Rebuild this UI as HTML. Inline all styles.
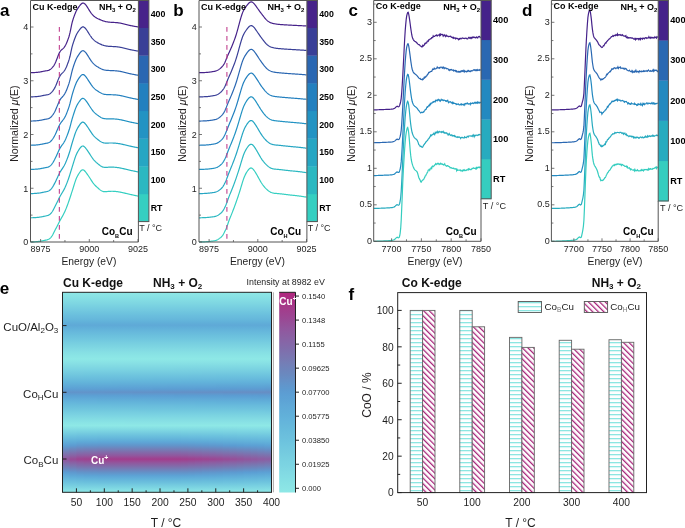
<!DOCTYPE html>
<html><head><meta charset="utf-8"><title>figure</title>
<style>html,body{margin:0;padding:0;background:#fff;overflow:hidden}svg{display:block}</style></head>
<body><svg width="685" height="528" viewBox="0 0 685 528" font-family="'Liberation Sans', Arial, sans-serif">
<defs><linearGradient id="h0" x1="0" y1="0" x2="0" y2="1"><stop offset="0.0000" stop-color="#8ee8e6"/><stop offset="0.0166" stop-color="#8ae3e5"/><stop offset="0.0334" stop-color="#85dee4"/><stop offset="0.0500" stop-color="#80d8e2"/><stop offset="0.0666" stop-color="#7ad2e1"/><stop offset="0.0834" stop-color="#75cbe0"/><stop offset="0.1000" stop-color="#6fc5de"/><stop offset="0.1166" stop-color="#6abedd"/><stop offset="0.1334" stop-color="#66b8db"/><stop offset="0.1500" stop-color="#61b0d9"/><stop offset="0.1650" stop-color="#5fa9d7"/><stop offset="0.1666" stop-color="#5faad7"/><stop offset="0.1834" stop-color="#62b2da"/><stop offset="0.2000" stop-color="#67b9dc"/><stop offset="0.2166" stop-color="#6bc0dd"/><stop offset="0.2334" stop-color="#70c6df"/><stop offset="0.2500" stop-color="#76cde0"/><stop offset="0.2666" stop-color="#7bd3e1"/><stop offset="0.2834" stop-color="#81d9e3"/><stop offset="0.3000" stop-color="#86dfe4"/><stop offset="0.3166" stop-color="#8ae4e5"/><stop offset="0.3332" stop-color="#8ee8e6"/><stop offset="0.3334" stop-color="#8ee8e6"/><stop offset="0.3500" stop-color="#89e2e5"/><stop offset="0.3666" stop-color="#83dbe3"/><stop offset="0.3834" stop-color="#7cd4e2"/><stop offset="0.4000" stop-color="#76cde0"/><stop offset="0.4166" stop-color="#6fc5de"/><stop offset="0.4334" stop-color="#69bddc"/><stop offset="0.4500" stop-color="#63b4da"/><stop offset="0.4666" stop-color="#60abd8"/><stop offset="0.4834" stop-color="#5ca0d4"/><stop offset="0.4995" stop-color="#6294ca"/><stop offset="0.5000" stop-color="#6195cb"/><stop offset="0.5166" stop-color="#5ca1d4"/><stop offset="0.5334" stop-color="#60abd8"/><stop offset="0.5500" stop-color="#64b5db"/><stop offset="0.5666" stop-color="#69bddc"/><stop offset="0.5834" stop-color="#6fc5de"/><stop offset="0.6000" stop-color="#76cde0"/><stop offset="0.6166" stop-color="#7dd5e2"/><stop offset="0.6334" stop-color="#83dce3"/><stop offset="0.6500" stop-color="#89e3e5"/><stop offset="0.6666" stop-color="#8ee8e6"/><stop offset="0.6667" stop-color="#8ee8e6"/><stop offset="0.6834" stop-color="#84dde3"/><stop offset="0.7000" stop-color="#79d1e1"/><stop offset="0.7166" stop-color="#6fc5de"/><stop offset="0.7334" stop-color="#67b9dc"/><stop offset="0.7500" stop-color="#60acd8"/><stop offset="0.7666" stop-color="#5c9fd4"/><stop offset="0.7834" stop-color="#678dc3"/><stop offset="0.8000" stop-color="#767cb4"/><stop offset="0.8166" stop-color="#8469a8"/><stop offset="0.8334" stop-color="#92569d"/><stop offset="0.8345" stop-color="#93549c"/><stop offset="0.8500" stop-color="#8666a7"/><stop offset="0.8666" stop-color="#7879b2"/><stop offset="0.8834" stop-color="#698ac0"/><stop offset="0.9000" stop-color="#5b9dd3"/><stop offset="0.9166" stop-color="#60abd8"/><stop offset="0.9334" stop-color="#66b8db"/><stop offset="0.9500" stop-color="#6ec3de"/><stop offset="0.9666" stop-color="#78cfe0"/><stop offset="0.9834" stop-color="#82dbe3"/><stop offset="1.0000" stop-color="#8de7e6"/></linearGradient><linearGradient id="h1" x1="0" y1="0" x2="0" y2="1"><stop offset="0.0000" stop-color="#8ee8e6"/><stop offset="0.0166" stop-color="#8ae3e5"/><stop offset="0.0334" stop-color="#85dee4"/><stop offset="0.0500" stop-color="#80d8e2"/><stop offset="0.0666" stop-color="#7ad2e1"/><stop offset="0.0834" stop-color="#75cbe0"/><stop offset="0.1000" stop-color="#6fc5de"/><stop offset="0.1166" stop-color="#6abedd"/><stop offset="0.1334" stop-color="#66b8db"/><stop offset="0.1500" stop-color="#61b0d9"/><stop offset="0.1650" stop-color="#5fa9d7"/><stop offset="0.1666" stop-color="#5faad7"/><stop offset="0.1834" stop-color="#62b2da"/><stop offset="0.2000" stop-color="#67b9dc"/><stop offset="0.2166" stop-color="#6bc0dd"/><stop offset="0.2334" stop-color="#70c6df"/><stop offset="0.2500" stop-color="#76cde0"/><stop offset="0.2666" stop-color="#7bd3e1"/><stop offset="0.2834" stop-color="#81d9e3"/><stop offset="0.3000" stop-color="#86dfe4"/><stop offset="0.3166" stop-color="#8ae4e5"/><stop offset="0.3332" stop-color="#8ee8e6"/><stop offset="0.3334" stop-color="#8ee8e6"/><stop offset="0.3500" stop-color="#89e2e5"/><stop offset="0.3666" stop-color="#83dbe3"/><stop offset="0.3834" stop-color="#7cd4e2"/><stop offset="0.4000" stop-color="#76cce0"/><stop offset="0.4166" stop-color="#6fc5de"/><stop offset="0.4334" stop-color="#69bcdc"/><stop offset="0.4500" stop-color="#63b4da"/><stop offset="0.4666" stop-color="#5faad7"/><stop offset="0.4834" stop-color="#5ca0d4"/><stop offset="0.4995" stop-color="#6294ca"/><stop offset="0.5000" stop-color="#6194ca"/><stop offset="0.5166" stop-color="#5ca1d4"/><stop offset="0.5334" stop-color="#60abd8"/><stop offset="0.5500" stop-color="#64b5db"/><stop offset="0.5666" stop-color="#69bddc"/><stop offset="0.5834" stop-color="#6fc5de"/><stop offset="0.6000" stop-color="#76cde0"/><stop offset="0.6166" stop-color="#7dd4e2"/><stop offset="0.6334" stop-color="#83dce3"/><stop offset="0.6500" stop-color="#89e3e5"/><stop offset="0.6666" stop-color="#8ee8e6"/><stop offset="0.6667" stop-color="#8ee8e6"/><stop offset="0.6834" stop-color="#84dce3"/><stop offset="0.7000" stop-color="#79d0e1"/><stop offset="0.7166" stop-color="#6ec4de"/><stop offset="0.7334" stop-color="#65b7db"/><stop offset="0.7500" stop-color="#5faad7"/><stop offset="0.7666" stop-color="#5d9bd1"/><stop offset="0.7834" stop-color="#6b88be"/><stop offset="0.8000" stop-color="#7b75b0"/><stop offset="0.8166" stop-color="#8962a4"/><stop offset="0.8334" stop-color="#984c96"/><stop offset="0.8345" stop-color="#994a95"/><stop offset="0.8500" stop-color="#8b5fa3"/><stop offset="0.8666" stop-color="#7d73ae"/><stop offset="0.8834" stop-color="#6d85bc"/><stop offset="0.9000" stop-color="#5f98ce"/><stop offset="0.9166" stop-color="#5ea7d6"/><stop offset="0.9334" stop-color="#64b5db"/><stop offset="0.9500" stop-color="#6dc2de"/><stop offset="0.9666" stop-color="#77cee0"/><stop offset="0.9834" stop-color="#82dae3"/><stop offset="1.0000" stop-color="#8de7e6"/></linearGradient><linearGradient id="h2" x1="0" y1="0" x2="0" y2="1"><stop offset="0.0000" stop-color="#8ee8e6"/><stop offset="0.0166" stop-color="#8ae3e5"/><stop offset="0.0334" stop-color="#85dee4"/><stop offset="0.0500" stop-color="#80d8e2"/><stop offset="0.0666" stop-color="#7ad2e1"/><stop offset="0.0834" stop-color="#75cbe0"/><stop offset="0.1000" stop-color="#6fc5de"/><stop offset="0.1166" stop-color="#6abedd"/><stop offset="0.1334" stop-color="#66b8db"/><stop offset="0.1500" stop-color="#61b0d9"/><stop offset="0.1650" stop-color="#5fa9d7"/><stop offset="0.1666" stop-color="#5faad7"/><stop offset="0.1834" stop-color="#62b2da"/><stop offset="0.2000" stop-color="#67b9dc"/><stop offset="0.2166" stop-color="#6bc0dd"/><stop offset="0.2334" stop-color="#70c6df"/><stop offset="0.2500" stop-color="#76cde0"/><stop offset="0.2666" stop-color="#7bd3e1"/><stop offset="0.2834" stop-color="#81d9e3"/><stop offset="0.3000" stop-color="#86dfe4"/><stop offset="0.3166" stop-color="#8ae4e5"/><stop offset="0.3332" stop-color="#8ee8e6"/><stop offset="0.3334" stop-color="#8ee8e6"/><stop offset="0.3500" stop-color="#89e2e5"/><stop offset="0.3666" stop-color="#83dbe3"/><stop offset="0.3834" stop-color="#7cd4e2"/><stop offset="0.4000" stop-color="#76cce0"/><stop offset="0.4166" stop-color="#6fc5de"/><stop offset="0.4334" stop-color="#69bcdc"/><stop offset="0.4500" stop-color="#63b4da"/><stop offset="0.4666" stop-color="#5faad7"/><stop offset="0.4834" stop-color="#5ca0d4"/><stop offset="0.4995" stop-color="#6294ca"/><stop offset="0.5000" stop-color="#6294ca"/><stop offset="0.5166" stop-color="#5ca1d4"/><stop offset="0.5334" stop-color="#60abd8"/><stop offset="0.5500" stop-color="#64b4db"/><stop offset="0.5666" stop-color="#69bddc"/><stop offset="0.5834" stop-color="#6fc5de"/><stop offset="0.6000" stop-color="#76cde0"/><stop offset="0.6166" stop-color="#7dd4e2"/><stop offset="0.6334" stop-color="#83dce3"/><stop offset="0.6500" stop-color="#89e3e5"/><stop offset="0.6666" stop-color="#8ee8e6"/><stop offset="0.6667" stop-color="#8ee8e6"/><stop offset="0.6834" stop-color="#83dce3"/><stop offset="0.7000" stop-color="#78cfe0"/><stop offset="0.7166" stop-color="#6dc2de"/><stop offset="0.7334" stop-color="#64b6db"/><stop offset="0.7500" stop-color="#5ea7d6"/><stop offset="0.7666" stop-color="#6097cd"/><stop offset="0.7834" stop-color="#6f84bb"/><stop offset="0.8000" stop-color="#7e70ad"/><stop offset="0.8166" stop-color="#8d5ca1"/><stop offset="0.8334" stop-color="#9d4491"/><stop offset="0.8345" stop-color="#9e4390"/><stop offset="0.8500" stop-color="#8f5aa0"/><stop offset="0.8666" stop-color="#806dab"/><stop offset="0.8834" stop-color="#7181b9"/><stop offset="0.9000" stop-color="#6294ca"/><stop offset="0.9166" stop-color="#5ea5d6"/><stop offset="0.9334" stop-color="#63b4da"/><stop offset="0.9500" stop-color="#6cc1dd"/><stop offset="0.9666" stop-color="#76cde0"/><stop offset="0.9834" stop-color="#82dae3"/><stop offset="1.0000" stop-color="#8de7e6"/></linearGradient><linearGradient id="h3" x1="0" y1="0" x2="0" y2="1"><stop offset="0.0000" stop-color="#8ee8e6"/><stop offset="0.0166" stop-color="#8ae3e5"/><stop offset="0.0334" stop-color="#85dee4"/><stop offset="0.0500" stop-color="#80d8e2"/><stop offset="0.0666" stop-color="#7ad2e1"/><stop offset="0.0834" stop-color="#75cbe0"/><stop offset="0.1000" stop-color="#6fc5de"/><stop offset="0.1166" stop-color="#6abedd"/><stop offset="0.1334" stop-color="#66b8db"/><stop offset="0.1500" stop-color="#61b0d9"/><stop offset="0.1650" stop-color="#5fa9d7"/><stop offset="0.1666" stop-color="#5faad7"/><stop offset="0.1834" stop-color="#62b2da"/><stop offset="0.2000" stop-color="#67b9dc"/><stop offset="0.2166" stop-color="#6bc0dd"/><stop offset="0.2334" stop-color="#70c6df"/><stop offset="0.2500" stop-color="#76cde0"/><stop offset="0.2666" stop-color="#7bd3e1"/><stop offset="0.2834" stop-color="#81d9e3"/><stop offset="0.3000" stop-color="#86dfe4"/><stop offset="0.3166" stop-color="#8ae4e5"/><stop offset="0.3332" stop-color="#8ee8e6"/><stop offset="0.3334" stop-color="#8ee8e6"/><stop offset="0.3500" stop-color="#89e2e5"/><stop offset="0.3666" stop-color="#83dbe3"/><stop offset="0.3834" stop-color="#7cd4e2"/><stop offset="0.4000" stop-color="#75cce0"/><stop offset="0.4166" stop-color="#6ec5de"/><stop offset="0.4334" stop-color="#69bcdc"/><stop offset="0.4500" stop-color="#63b4da"/><stop offset="0.4666" stop-color="#5faad7"/><stop offset="0.4834" stop-color="#5ca0d4"/><stop offset="0.4995" stop-color="#6294ca"/><stop offset="0.5000" stop-color="#6294ca"/><stop offset="0.5166" stop-color="#5ca1d4"/><stop offset="0.5334" stop-color="#60abd8"/><stop offset="0.5500" stop-color="#64b4db"/><stop offset="0.5666" stop-color="#69bddc"/><stop offset="0.5834" stop-color="#6fc5de"/><stop offset="0.6000" stop-color="#76cde0"/><stop offset="0.6166" stop-color="#7dd4e2"/><stop offset="0.6334" stop-color="#83dce3"/><stop offset="0.6500" stop-color="#89e3e5"/><stop offset="0.6666" stop-color="#8ee8e6"/><stop offset="0.6667" stop-color="#8ee8e6"/><stop offset="0.6834" stop-color="#83dce3"/><stop offset="0.7000" stop-color="#78cfe0"/><stop offset="0.7166" stop-color="#6dc2de"/><stop offset="0.7334" stop-color="#64b5db"/><stop offset="0.7500" stop-color="#5ea7d6"/><stop offset="0.7666" stop-color="#6096cc"/><stop offset="0.7834" stop-color="#7082ba"/><stop offset="0.8000" stop-color="#7f6fac"/><stop offset="0.8166" stop-color="#8f5ba0"/><stop offset="0.8334" stop-color="#9f428f"/><stop offset="0.8345" stop-color="#a0418e"/><stop offset="0.8500" stop-color="#91579e"/><stop offset="0.8666" stop-color="#816caa"/><stop offset="0.8834" stop-color="#7280b8"/><stop offset="0.9000" stop-color="#6393c9"/><stop offset="0.9166" stop-color="#5da4d5"/><stop offset="0.9334" stop-color="#63b3da"/><stop offset="0.9500" stop-color="#6bc0dd"/><stop offset="0.9666" stop-color="#76cde0"/><stop offset="0.9834" stop-color="#81dae3"/><stop offset="1.0000" stop-color="#8de7e6"/></linearGradient><linearGradient id="h4" x1="0" y1="0" x2="0" y2="1"><stop offset="0.0000" stop-color="#8ee8e6"/><stop offset="0.0166" stop-color="#8ae3e5"/><stop offset="0.0334" stop-color="#85dee4"/><stop offset="0.0500" stop-color="#80d8e2"/><stop offset="0.0666" stop-color="#7ad2e1"/><stop offset="0.0834" stop-color="#75cbe0"/><stop offset="0.1000" stop-color="#6fc5de"/><stop offset="0.1166" stop-color="#6abedd"/><stop offset="0.1334" stop-color="#66b8db"/><stop offset="0.1500" stop-color="#61b0d9"/><stop offset="0.1650" stop-color="#5fa9d7"/><stop offset="0.1666" stop-color="#5faad7"/><stop offset="0.1834" stop-color="#62b2da"/><stop offset="0.2000" stop-color="#67b9dc"/><stop offset="0.2166" stop-color="#6bc0dd"/><stop offset="0.2334" stop-color="#70c6df"/><stop offset="0.2500" stop-color="#76cde0"/><stop offset="0.2666" stop-color="#7bd3e1"/><stop offset="0.2834" stop-color="#81d9e3"/><stop offset="0.3000" stop-color="#86dfe4"/><stop offset="0.3166" stop-color="#8ae4e5"/><stop offset="0.3332" stop-color="#8ee8e6"/><stop offset="0.3334" stop-color="#8ee8e6"/><stop offset="0.3500" stop-color="#89e2e5"/><stop offset="0.3666" stop-color="#83dbe3"/><stop offset="0.3834" stop-color="#7cd4e2"/><stop offset="0.4000" stop-color="#75cce0"/><stop offset="0.4166" stop-color="#6ec4de"/><stop offset="0.4334" stop-color="#69bcdc"/><stop offset="0.4500" stop-color="#63b4da"/><stop offset="0.4666" stop-color="#5faad7"/><stop offset="0.4834" stop-color="#5ca0d4"/><stop offset="0.4995" stop-color="#6293c9"/><stop offset="0.5000" stop-color="#6294ca"/><stop offset="0.5166" stop-color="#5ca0d4"/><stop offset="0.5334" stop-color="#60abd8"/><stop offset="0.5500" stop-color="#64b4db"/><stop offset="0.5666" stop-color="#69bddc"/><stop offset="0.5834" stop-color="#6fc5de"/><stop offset="0.6000" stop-color="#76cde0"/><stop offset="0.6166" stop-color="#7dd4e2"/><stop offset="0.6334" stop-color="#83dce3"/><stop offset="0.6500" stop-color="#89e3e5"/><stop offset="0.6666" stop-color="#8ee8e6"/><stop offset="0.6667" stop-color="#8ee8e6"/><stop offset="0.6834" stop-color="#83dce3"/><stop offset="0.7000" stop-color="#77cfe0"/><stop offset="0.7166" stop-color="#6cc2dd"/><stop offset="0.7334" stop-color="#64b5db"/><stop offset="0.7500" stop-color="#5ea6d6"/><stop offset="0.7666" stop-color="#6195cb"/><stop offset="0.7834" stop-color="#7181b9"/><stop offset="0.8000" stop-color="#816dab"/><stop offset="0.8166" stop-color="#90599f"/><stop offset="0.8334" stop-color="#a0408e"/><stop offset="0.8345" stop-color="#a13e8d"/><stop offset="0.8500" stop-color="#92559c"/><stop offset="0.8666" stop-color="#836aa9"/><stop offset="0.8834" stop-color="#737fb7"/><stop offset="0.9000" stop-color="#6392c8"/><stop offset="0.9166" stop-color="#5da4d5"/><stop offset="0.9334" stop-color="#62b3da"/><stop offset="0.9500" stop-color="#6bc0dd"/><stop offset="0.9666" stop-color="#76cde0"/><stop offset="0.9834" stop-color="#81dae3"/><stop offset="1.0000" stop-color="#8de7e6"/></linearGradient><linearGradient id="h5" x1="0" y1="0" x2="0" y2="1"><stop offset="0.0000" stop-color="#8ee8e6"/><stop offset="0.0166" stop-color="#8ae3e5"/><stop offset="0.0334" stop-color="#85dee4"/><stop offset="0.0500" stop-color="#80d8e2"/><stop offset="0.0666" stop-color="#7ad2e1"/><stop offset="0.0834" stop-color="#75cbe0"/><stop offset="0.1000" stop-color="#6fc5de"/><stop offset="0.1166" stop-color="#6abedd"/><stop offset="0.1334" stop-color="#66b8db"/><stop offset="0.1500" stop-color="#61b0d9"/><stop offset="0.1650" stop-color="#5fa9d7"/><stop offset="0.1666" stop-color="#5faad7"/><stop offset="0.1834" stop-color="#62b2da"/><stop offset="0.2000" stop-color="#67b9dc"/><stop offset="0.2166" stop-color="#6bc0dd"/><stop offset="0.2334" stop-color="#70c6df"/><stop offset="0.2500" stop-color="#76cde0"/><stop offset="0.2666" stop-color="#7bd3e1"/><stop offset="0.2834" stop-color="#81d9e3"/><stop offset="0.3000" stop-color="#86dfe4"/><stop offset="0.3166" stop-color="#8ae4e5"/><stop offset="0.3332" stop-color="#8ee8e6"/><stop offset="0.3334" stop-color="#8ee8e6"/><stop offset="0.3500" stop-color="#89e2e5"/><stop offset="0.3666" stop-color="#83dbe3"/><stop offset="0.3834" stop-color="#7cd4e2"/><stop offset="0.4000" stop-color="#75cce0"/><stop offset="0.4166" stop-color="#6ec4de"/><stop offset="0.4334" stop-color="#69bcdc"/><stop offset="0.4500" stop-color="#63b4da"/><stop offset="0.4666" stop-color="#5faad7"/><stop offset="0.4834" stop-color="#5ca0d4"/><stop offset="0.4995" stop-color="#6293c9"/><stop offset="0.5000" stop-color="#6294ca"/><stop offset="0.5166" stop-color="#5ca0d4"/><stop offset="0.5334" stop-color="#5faad7"/><stop offset="0.5500" stop-color="#63b4da"/><stop offset="0.5666" stop-color="#69bddc"/><stop offset="0.5834" stop-color="#6fc5de"/><stop offset="0.6000" stop-color="#76cde0"/><stop offset="0.6166" stop-color="#7dd4e2"/><stop offset="0.6334" stop-color="#83dce3"/><stop offset="0.6500" stop-color="#89e3e5"/><stop offset="0.6666" stop-color="#8ee8e6"/><stop offset="0.6667" stop-color="#8ee8e6"/><stop offset="0.6834" stop-color="#83dce3"/><stop offset="0.7000" stop-color="#77cee0"/><stop offset="0.7166" stop-color="#6cc1dd"/><stop offset="0.7334" stop-color="#63b4da"/><stop offset="0.7500" stop-color="#5ea5d6"/><stop offset="0.7666" stop-color="#6294ca"/><stop offset="0.7834" stop-color="#7280b8"/><stop offset="0.8000" stop-color="#826baa"/><stop offset="0.8166" stop-color="#91579e"/><stop offset="0.8334" stop-color="#a13e8d"/><stop offset="0.8345" stop-color="#a23d8c"/><stop offset="0.8500" stop-color="#94539b"/><stop offset="0.8666" stop-color="#8468a8"/><stop offset="0.8834" stop-color="#747db6"/><stop offset="0.9000" stop-color="#6491c7"/><stop offset="0.9166" stop-color="#5da3d5"/><stop offset="0.9334" stop-color="#62b2da"/><stop offset="0.9500" stop-color="#6bbfdd"/><stop offset="0.9666" stop-color="#76cde0"/><stop offset="0.9834" stop-color="#81dae3"/><stop offset="1.0000" stop-color="#8de7e6"/></linearGradient><linearGradient id="h6" x1="0" y1="0" x2="0" y2="1"><stop offset="0.0000" stop-color="#8ee8e6"/><stop offset="0.0166" stop-color="#8ae3e5"/><stop offset="0.0334" stop-color="#85dee4"/><stop offset="0.0500" stop-color="#80d8e2"/><stop offset="0.0666" stop-color="#7ad2e1"/><stop offset="0.0834" stop-color="#75cbe0"/><stop offset="0.1000" stop-color="#6fc5de"/><stop offset="0.1166" stop-color="#6abedd"/><stop offset="0.1334" stop-color="#66b8db"/><stop offset="0.1500" stop-color="#61b0d9"/><stop offset="0.1650" stop-color="#5fa9d7"/><stop offset="0.1666" stop-color="#5faad7"/><stop offset="0.1834" stop-color="#62b2da"/><stop offset="0.2000" stop-color="#67b9dc"/><stop offset="0.2166" stop-color="#6bc0dd"/><stop offset="0.2334" stop-color="#70c6df"/><stop offset="0.2500" stop-color="#76cde0"/><stop offset="0.2666" stop-color="#7bd3e1"/><stop offset="0.2834" stop-color="#81d9e3"/><stop offset="0.3000" stop-color="#86dfe4"/><stop offset="0.3166" stop-color="#8ae4e5"/><stop offset="0.3332" stop-color="#8ee8e6"/><stop offset="0.3334" stop-color="#8ee8e6"/><stop offset="0.3500" stop-color="#89e2e5"/><stop offset="0.3666" stop-color="#83dbe3"/><stop offset="0.3834" stop-color="#7cd4e2"/><stop offset="0.4000" stop-color="#75cce0"/><stop offset="0.4166" stop-color="#6ec4de"/><stop offset="0.4334" stop-color="#69bcdc"/><stop offset="0.4500" stop-color="#63b4da"/><stop offset="0.4666" stop-color="#5faad7"/><stop offset="0.4834" stop-color="#5c9fd4"/><stop offset="0.4995" stop-color="#6393c9"/><stop offset="0.5000" stop-color="#6293c9"/><stop offset="0.5166" stop-color="#5ca0d4"/><stop offset="0.5334" stop-color="#5faad7"/><stop offset="0.5500" stop-color="#63b4da"/><stop offset="0.5666" stop-color="#69bddc"/><stop offset="0.5834" stop-color="#6fc5de"/><stop offset="0.6000" stop-color="#76cde0"/><stop offset="0.6166" stop-color="#7cd4e2"/><stop offset="0.6334" stop-color="#83dce3"/><stop offset="0.6500" stop-color="#89e3e5"/><stop offset="0.6666" stop-color="#8ee8e6"/><stop offset="0.6667" stop-color="#8ee8e6"/><stop offset="0.6834" stop-color="#83dce3"/><stop offset="0.7000" stop-color="#77cee0"/><stop offset="0.7166" stop-color="#6cc1dd"/><stop offset="0.7334" stop-color="#63b4da"/><stop offset="0.7500" stop-color="#5ea5d6"/><stop offset="0.7666" stop-color="#6294ca"/><stop offset="0.7834" stop-color="#7280b8"/><stop offset="0.8000" stop-color="#826baa"/><stop offset="0.8166" stop-color="#91579e"/><stop offset="0.8334" stop-color="#a13e8d"/><stop offset="0.8345" stop-color="#a23d8c"/><stop offset="0.8500" stop-color="#94539b"/><stop offset="0.8666" stop-color="#8468a8"/><stop offset="0.8834" stop-color="#747db6"/><stop offset="0.9000" stop-color="#6491c7"/><stop offset="0.9166" stop-color="#5da3d5"/><stop offset="0.9334" stop-color="#62b2da"/><stop offset="0.9500" stop-color="#6bbfdd"/><stop offset="0.9666" stop-color="#76cde0"/><stop offset="0.9834" stop-color="#81dae3"/><stop offset="1.0000" stop-color="#8de7e6"/></linearGradient><linearGradient id="h7" x1="0" y1="0" x2="0" y2="1"><stop offset="0.0000" stop-color="#8ee8e6"/><stop offset="0.0166" stop-color="#8ae3e5"/><stop offset="0.0334" stop-color="#85dee4"/><stop offset="0.0500" stop-color="#80d8e2"/><stop offset="0.0666" stop-color="#7ad2e1"/><stop offset="0.0834" stop-color="#75cbe0"/><stop offset="0.1000" stop-color="#6fc5de"/><stop offset="0.1166" stop-color="#6abedd"/><stop offset="0.1334" stop-color="#66b8db"/><stop offset="0.1500" stop-color="#61b0d9"/><stop offset="0.1650" stop-color="#5fa9d7"/><stop offset="0.1666" stop-color="#5faad7"/><stop offset="0.1834" stop-color="#62b2da"/><stop offset="0.2000" stop-color="#67b9dc"/><stop offset="0.2166" stop-color="#6bc0dd"/><stop offset="0.2334" stop-color="#70c6df"/><stop offset="0.2500" stop-color="#76cde0"/><stop offset="0.2666" stop-color="#7bd3e1"/><stop offset="0.2834" stop-color="#81d9e3"/><stop offset="0.3000" stop-color="#86dfe4"/><stop offset="0.3166" stop-color="#8ae4e5"/><stop offset="0.3332" stop-color="#8ee8e6"/><stop offset="0.3334" stop-color="#8ee8e6"/><stop offset="0.3500" stop-color="#89e2e5"/><stop offset="0.3666" stop-color="#83dbe3"/><stop offset="0.3834" stop-color="#7cd4e2"/><stop offset="0.4000" stop-color="#75cce0"/><stop offset="0.4166" stop-color="#6ec4de"/><stop offset="0.4334" stop-color="#69bcdc"/><stop offset="0.4500" stop-color="#63b3da"/><stop offset="0.4666" stop-color="#5faad7"/><stop offset="0.4834" stop-color="#5c9fd4"/><stop offset="0.4995" stop-color="#6393c9"/><stop offset="0.5000" stop-color="#6293c9"/><stop offset="0.5166" stop-color="#5ca0d4"/><stop offset="0.5334" stop-color="#5faad7"/><stop offset="0.5500" stop-color="#63b4da"/><stop offset="0.5666" stop-color="#69bcdc"/><stop offset="0.5834" stop-color="#6fc5de"/><stop offset="0.6000" stop-color="#76cde0"/><stop offset="0.6166" stop-color="#7cd4e2"/><stop offset="0.6334" stop-color="#83dce3"/><stop offset="0.6500" stop-color="#89e3e5"/><stop offset="0.6666" stop-color="#8ee8e6"/><stop offset="0.6667" stop-color="#8ee8e6"/><stop offset="0.6834" stop-color="#83dce3"/><stop offset="0.7000" stop-color="#77cee0"/><stop offset="0.7166" stop-color="#6cc1dd"/><stop offset="0.7334" stop-color="#63b4da"/><stop offset="0.7500" stop-color="#5ea5d6"/><stop offset="0.7666" stop-color="#6294ca"/><stop offset="0.7834" stop-color="#7280b8"/><stop offset="0.8000" stop-color="#826baa"/><stop offset="0.8166" stop-color="#91579e"/><stop offset="0.8334" stop-color="#a13e8d"/><stop offset="0.8345" stop-color="#a23d8c"/><stop offset="0.8500" stop-color="#94539b"/><stop offset="0.8666" stop-color="#8468a8"/><stop offset="0.8834" stop-color="#747db6"/><stop offset="0.9000" stop-color="#6491c7"/><stop offset="0.9166" stop-color="#5da3d5"/><stop offset="0.9334" stop-color="#62b2da"/><stop offset="0.9500" stop-color="#6bbfdd"/><stop offset="0.9666" stop-color="#76cde0"/><stop offset="0.9834" stop-color="#81dae3"/><stop offset="1.0000" stop-color="#8de7e6"/></linearGradient><linearGradient id="h8" x1="0" y1="0" x2="0" y2="1"><stop offset="0.0000" stop-color="#8ee8e6"/><stop offset="0.0166" stop-color="#8ae3e5"/><stop offset="0.0334" stop-color="#85dee4"/><stop offset="0.0500" stop-color="#80d8e2"/><stop offset="0.0666" stop-color="#7ad2e1"/><stop offset="0.0834" stop-color="#75cbe0"/><stop offset="0.1000" stop-color="#6fc5de"/><stop offset="0.1166" stop-color="#6abedd"/><stop offset="0.1334" stop-color="#66b8db"/><stop offset="0.1500" stop-color="#61b0d9"/><stop offset="0.1650" stop-color="#5fa9d7"/><stop offset="0.1666" stop-color="#5faad7"/><stop offset="0.1834" stop-color="#62b2da"/><stop offset="0.2000" stop-color="#67b9dc"/><stop offset="0.2166" stop-color="#6bc0dd"/><stop offset="0.2334" stop-color="#70c6df"/><stop offset="0.2500" stop-color="#76cde0"/><stop offset="0.2666" stop-color="#7bd3e1"/><stop offset="0.2834" stop-color="#81d9e3"/><stop offset="0.3000" stop-color="#86dfe4"/><stop offset="0.3166" stop-color="#8ae4e5"/><stop offset="0.3332" stop-color="#8ee8e6"/><stop offset="0.3334" stop-color="#8ee8e6"/><stop offset="0.3500" stop-color="#89e2e5"/><stop offset="0.3666" stop-color="#83dbe3"/><stop offset="0.3834" stop-color="#7cd4e2"/><stop offset="0.4000" stop-color="#75cce0"/><stop offset="0.4166" stop-color="#6ec4de"/><stop offset="0.4334" stop-color="#69bcdc"/><stop offset="0.4500" stop-color="#63b3da"/><stop offset="0.4666" stop-color="#5fa9d7"/><stop offset="0.4834" stop-color="#5c9fd4"/><stop offset="0.4995" stop-color="#6392c8"/><stop offset="0.5000" stop-color="#6393c9"/><stop offset="0.5166" stop-color="#5ca0d4"/><stop offset="0.5334" stop-color="#5faad7"/><stop offset="0.5500" stop-color="#63b4da"/><stop offset="0.5666" stop-color="#69bcdc"/><stop offset="0.5834" stop-color="#6fc5de"/><stop offset="0.6000" stop-color="#76cde0"/><stop offset="0.6166" stop-color="#7cd4e2"/><stop offset="0.6334" stop-color="#83dce3"/><stop offset="0.6500" stop-color="#89e3e5"/><stop offset="0.6666" stop-color="#8ee8e6"/><stop offset="0.6667" stop-color="#8ee8e6"/><stop offset="0.6834" stop-color="#83dce3"/><stop offset="0.7000" stop-color="#77cee0"/><stop offset="0.7166" stop-color="#6cc1dd"/><stop offset="0.7334" stop-color="#63b4da"/><stop offset="0.7500" stop-color="#5ea5d6"/><stop offset="0.7666" stop-color="#6294ca"/><stop offset="0.7834" stop-color="#7280b8"/><stop offset="0.8000" stop-color="#826baa"/><stop offset="0.8166" stop-color="#91579e"/><stop offset="0.8334" stop-color="#a13e8d"/><stop offset="0.8345" stop-color="#a23d8c"/><stop offset="0.8500" stop-color="#94539b"/><stop offset="0.8666" stop-color="#8468a8"/><stop offset="0.8834" stop-color="#747db6"/><stop offset="0.9000" stop-color="#6491c7"/><stop offset="0.9166" stop-color="#5da3d5"/><stop offset="0.9334" stop-color="#62b2da"/><stop offset="0.9500" stop-color="#6bbfdd"/><stop offset="0.9666" stop-color="#76cde0"/><stop offset="0.9834" stop-color="#81dae3"/><stop offset="1.0000" stop-color="#8de7e6"/></linearGradient><linearGradient id="h9" x1="0" y1="0" x2="0" y2="1"><stop offset="0.0000" stop-color="#8ee8e6"/><stop offset="0.0166" stop-color="#8ae3e5"/><stop offset="0.0334" stop-color="#85dee4"/><stop offset="0.0500" stop-color="#80d8e2"/><stop offset="0.0666" stop-color="#7ad2e1"/><stop offset="0.0834" stop-color="#75cbe0"/><stop offset="0.1000" stop-color="#6fc5de"/><stop offset="0.1166" stop-color="#6abedd"/><stop offset="0.1334" stop-color="#66b8db"/><stop offset="0.1500" stop-color="#61b0d9"/><stop offset="0.1650" stop-color="#5fa9d7"/><stop offset="0.1666" stop-color="#5faad7"/><stop offset="0.1834" stop-color="#62b2da"/><stop offset="0.2000" stop-color="#67b9dc"/><stop offset="0.2166" stop-color="#6bc0dd"/><stop offset="0.2334" stop-color="#70c6df"/><stop offset="0.2500" stop-color="#76cde0"/><stop offset="0.2666" stop-color="#7bd3e1"/><stop offset="0.2834" stop-color="#81d9e3"/><stop offset="0.3000" stop-color="#86dfe4"/><stop offset="0.3166" stop-color="#8ae4e5"/><stop offset="0.3332" stop-color="#8ee8e6"/><stop offset="0.3334" stop-color="#8ee8e6"/><stop offset="0.3500" stop-color="#89e2e5"/><stop offset="0.3666" stop-color="#83dbe3"/><stop offset="0.3834" stop-color="#7cd4e1"/><stop offset="0.4000" stop-color="#75cce0"/><stop offset="0.4166" stop-color="#6ec4de"/><stop offset="0.4334" stop-color="#69bcdc"/><stop offset="0.4500" stop-color="#63b3da"/><stop offset="0.4666" stop-color="#5fa9d7"/><stop offset="0.4834" stop-color="#5c9fd4"/><stop offset="0.4995" stop-color="#6392c8"/><stop offset="0.5000" stop-color="#6393c9"/><stop offset="0.5166" stop-color="#5ca0d4"/><stop offset="0.5334" stop-color="#5faad7"/><stop offset="0.5500" stop-color="#63b4da"/><stop offset="0.5666" stop-color="#69bcdc"/><stop offset="0.5834" stop-color="#6fc5de"/><stop offset="0.6000" stop-color="#76cde0"/><stop offset="0.6166" stop-color="#7cd4e2"/><stop offset="0.6334" stop-color="#83dce3"/><stop offset="0.6500" stop-color="#89e2e5"/><stop offset="0.6666" stop-color="#8ee8e6"/><stop offset="0.6667" stop-color="#8ee8e6"/><stop offset="0.6834" stop-color="#83dce3"/><stop offset="0.7000" stop-color="#77cee0"/><stop offset="0.7166" stop-color="#6cc1dd"/><stop offset="0.7334" stop-color="#63b4da"/><stop offset="0.7500" stop-color="#5ea5d6"/><stop offset="0.7666" stop-color="#6294ca"/><stop offset="0.7834" stop-color="#7280b8"/><stop offset="0.8000" stop-color="#826baa"/><stop offset="0.8166" stop-color="#91579e"/><stop offset="0.8334" stop-color="#a13e8d"/><stop offset="0.8345" stop-color="#a23d8c"/><stop offset="0.8500" stop-color="#94539b"/><stop offset="0.8666" stop-color="#8468a8"/><stop offset="0.8834" stop-color="#747db6"/><stop offset="0.9000" stop-color="#6491c7"/><stop offset="0.9166" stop-color="#5da3d5"/><stop offset="0.9334" stop-color="#62b2da"/><stop offset="0.9500" stop-color="#6bbfdd"/><stop offset="0.9666" stop-color="#76cde0"/><stop offset="0.9834" stop-color="#81dae3"/><stop offset="1.0000" stop-color="#8de7e6"/></linearGradient><linearGradient id="h10" x1="0" y1="0" x2="0" y2="1"><stop offset="0.0000" stop-color="#8ee8e6"/><stop offset="0.0166" stop-color="#8ae3e5"/><stop offset="0.0334" stop-color="#85dee4"/><stop offset="0.0500" stop-color="#80d8e2"/><stop offset="0.0666" stop-color="#7ad2e1"/><stop offset="0.0834" stop-color="#75cbe0"/><stop offset="0.1000" stop-color="#6fc5de"/><stop offset="0.1166" stop-color="#6abedd"/><stop offset="0.1334" stop-color="#66b8db"/><stop offset="0.1500" stop-color="#61b0d9"/><stop offset="0.1650" stop-color="#5fa9d7"/><stop offset="0.1666" stop-color="#5faad7"/><stop offset="0.1834" stop-color="#62b2da"/><stop offset="0.2000" stop-color="#67b9dc"/><stop offset="0.2166" stop-color="#6bc0dd"/><stop offset="0.2334" stop-color="#70c6df"/><stop offset="0.2500" stop-color="#76cde0"/><stop offset="0.2666" stop-color="#7bd3e1"/><stop offset="0.2834" stop-color="#81d9e3"/><stop offset="0.3000" stop-color="#86dfe4"/><stop offset="0.3166" stop-color="#8ae4e5"/><stop offset="0.3332" stop-color="#8ee8e6"/><stop offset="0.3334" stop-color="#8ee8e6"/><stop offset="0.3500" stop-color="#89e2e5"/><stop offset="0.3666" stop-color="#83dbe3"/><stop offset="0.3834" stop-color="#7cd4e1"/><stop offset="0.4000" stop-color="#75cce0"/><stop offset="0.4166" stop-color="#6ec4de"/><stop offset="0.4334" stop-color="#68bcdc"/><stop offset="0.4500" stop-color="#63b3da"/><stop offset="0.4666" stop-color="#5fa9d7"/><stop offset="0.4834" stop-color="#5c9fd4"/><stop offset="0.4995" stop-color="#6392c8"/><stop offset="0.5000" stop-color="#6392c8"/><stop offset="0.5166" stop-color="#5c9fd4"/><stop offset="0.5334" stop-color="#5faad7"/><stop offset="0.5500" stop-color="#63b4da"/><stop offset="0.5666" stop-color="#69bcdc"/><stop offset="0.5834" stop-color="#6ec5de"/><stop offset="0.6000" stop-color="#76cde0"/><stop offset="0.6166" stop-color="#7cd4e2"/><stop offset="0.6334" stop-color="#83dce3"/><stop offset="0.6500" stop-color="#89e2e5"/><stop offset="0.6666" stop-color="#8ee8e6"/><stop offset="0.6667" stop-color="#8ee8e6"/><stop offset="0.6834" stop-color="#83dce3"/><stop offset="0.7000" stop-color="#77cee0"/><stop offset="0.7166" stop-color="#6cc1dd"/><stop offset="0.7334" stop-color="#63b4da"/><stop offset="0.7500" stop-color="#5ea5d6"/><stop offset="0.7666" stop-color="#6294ca"/><stop offset="0.7834" stop-color="#7280b8"/><stop offset="0.8000" stop-color="#826baa"/><stop offset="0.8166" stop-color="#91579e"/><stop offset="0.8334" stop-color="#a13e8d"/><stop offset="0.8345" stop-color="#a23d8c"/><stop offset="0.8500" stop-color="#94539b"/><stop offset="0.8666" stop-color="#8468a8"/><stop offset="0.8834" stop-color="#747db6"/><stop offset="0.9000" stop-color="#6491c7"/><stop offset="0.9166" stop-color="#5da3d5"/><stop offset="0.9334" stop-color="#62b2da"/><stop offset="0.9500" stop-color="#6bbfdd"/><stop offset="0.9666" stop-color="#76cde0"/><stop offset="0.9834" stop-color="#81dae3"/><stop offset="1.0000" stop-color="#8de7e6"/></linearGradient><linearGradient id="h11" x1="0" y1="0" x2="0" y2="1"><stop offset="0.0000" stop-color="#8ee8e6"/><stop offset="0.0166" stop-color="#8ae3e5"/><stop offset="0.0334" stop-color="#85dee4"/><stop offset="0.0500" stop-color="#80d8e2"/><stop offset="0.0666" stop-color="#7ad2e1"/><stop offset="0.0834" stop-color="#75cbe0"/><stop offset="0.1000" stop-color="#6fc5de"/><stop offset="0.1166" stop-color="#6abedd"/><stop offset="0.1334" stop-color="#66b8db"/><stop offset="0.1500" stop-color="#61b0d9"/><stop offset="0.1650" stop-color="#5fa9d7"/><stop offset="0.1666" stop-color="#5faad7"/><stop offset="0.1834" stop-color="#62b2da"/><stop offset="0.2000" stop-color="#67b9dc"/><stop offset="0.2166" stop-color="#6bc0dd"/><stop offset="0.2334" stop-color="#70c6df"/><stop offset="0.2500" stop-color="#76cde0"/><stop offset="0.2666" stop-color="#7bd3e1"/><stop offset="0.2834" stop-color="#81d9e3"/><stop offset="0.3000" stop-color="#86dfe4"/><stop offset="0.3166" stop-color="#8ae4e5"/><stop offset="0.3332" stop-color="#8ee8e6"/><stop offset="0.3334" stop-color="#8ee8e6"/><stop offset="0.3500" stop-color="#89e2e5"/><stop offset="0.3666" stop-color="#83dbe3"/><stop offset="0.3834" stop-color="#7cd4e1"/><stop offset="0.4000" stop-color="#75cce0"/><stop offset="0.4166" stop-color="#6ec4de"/><stop offset="0.4334" stop-color="#68bcdc"/><stop offset="0.4500" stop-color="#63b3da"/><stop offset="0.4666" stop-color="#5fa9d7"/><stop offset="0.4834" stop-color="#5c9fd4"/><stop offset="0.4995" stop-color="#6392c8"/><stop offset="0.5000" stop-color="#6392c8"/><stop offset="0.5166" stop-color="#5c9fd4"/><stop offset="0.5334" stop-color="#5faad7"/><stop offset="0.5500" stop-color="#63b4da"/><stop offset="0.5666" stop-color="#69bcdc"/><stop offset="0.5834" stop-color="#6ec4de"/><stop offset="0.6000" stop-color="#76cce0"/><stop offset="0.6166" stop-color="#7cd4e2"/><stop offset="0.6334" stop-color="#83dce3"/><stop offset="0.6500" stop-color="#89e2e5"/><stop offset="0.6666" stop-color="#8ee8e6"/><stop offset="0.6667" stop-color="#8ee8e6"/><stop offset="0.6834" stop-color="#83dce3"/><stop offset="0.7000" stop-color="#77cee0"/><stop offset="0.7166" stop-color="#6cc1dd"/><stop offset="0.7334" stop-color="#63b4da"/><stop offset="0.7500" stop-color="#5ea5d6"/><stop offset="0.7666" stop-color="#6294ca"/><stop offset="0.7834" stop-color="#7280b8"/><stop offset="0.8000" stop-color="#826baa"/><stop offset="0.8166" stop-color="#91579e"/><stop offset="0.8334" stop-color="#a13e8d"/><stop offset="0.8345" stop-color="#a23d8c"/><stop offset="0.8500" stop-color="#94539b"/><stop offset="0.8666" stop-color="#8468a8"/><stop offset="0.8834" stop-color="#747db6"/><stop offset="0.9000" stop-color="#6491c7"/><stop offset="0.9166" stop-color="#5da3d5"/><stop offset="0.9334" stop-color="#62b2da"/><stop offset="0.9500" stop-color="#6bbfdd"/><stop offset="0.9666" stop-color="#76cde0"/><stop offset="0.9834" stop-color="#81dae3"/><stop offset="1.0000" stop-color="#8de7e6"/></linearGradient><linearGradient id="h12" x1="0" y1="0" x2="0" y2="1"><stop offset="0.0000" stop-color="#8ee8e6"/><stop offset="0.0166" stop-color="#8ae3e5"/><stop offset="0.0334" stop-color="#85dee4"/><stop offset="0.0500" stop-color="#80d8e2"/><stop offset="0.0666" stop-color="#7ad2e1"/><stop offset="0.0834" stop-color="#75cbe0"/><stop offset="0.1000" stop-color="#6fc5de"/><stop offset="0.1166" stop-color="#6abedd"/><stop offset="0.1334" stop-color="#66b8db"/><stop offset="0.1500" stop-color="#61b0d9"/><stop offset="0.1650" stop-color="#5fa9d7"/><stop offset="0.1666" stop-color="#5faad7"/><stop offset="0.1834" stop-color="#62b2da"/><stop offset="0.2000" stop-color="#67b9dc"/><stop offset="0.2166" stop-color="#6bc0dd"/><stop offset="0.2334" stop-color="#70c6df"/><stop offset="0.2500" stop-color="#76cde0"/><stop offset="0.2666" stop-color="#7bd3e1"/><stop offset="0.2834" stop-color="#81d9e3"/><stop offset="0.3000" stop-color="#86dfe4"/><stop offset="0.3166" stop-color="#8ae4e5"/><stop offset="0.3332" stop-color="#8ee8e6"/><stop offset="0.3334" stop-color="#8ee8e6"/><stop offset="0.3500" stop-color="#89e2e5"/><stop offset="0.3666" stop-color="#83dbe3"/><stop offset="0.3834" stop-color="#7cd4e1"/><stop offset="0.4000" stop-color="#75cce0"/><stop offset="0.4166" stop-color="#6ec4de"/><stop offset="0.4334" stop-color="#68bcdc"/><stop offset="0.4500" stop-color="#63b3da"/><stop offset="0.4666" stop-color="#5fa9d7"/><stop offset="0.4834" stop-color="#5c9fd4"/><stop offset="0.4995" stop-color="#6492c8"/><stop offset="0.5000" stop-color="#6392c8"/><stop offset="0.5166" stop-color="#5c9fd4"/><stop offset="0.5334" stop-color="#5faad7"/><stop offset="0.5500" stop-color="#63b3da"/><stop offset="0.5666" stop-color="#69bcdc"/><stop offset="0.5834" stop-color="#6ec4de"/><stop offset="0.6000" stop-color="#75cce0"/><stop offset="0.6166" stop-color="#7cd4e2"/><stop offset="0.6334" stop-color="#83dce3"/><stop offset="0.6500" stop-color="#89e2e5"/><stop offset="0.6666" stop-color="#8ee8e6"/><stop offset="0.6667" stop-color="#8ee8e6"/><stop offset="0.6834" stop-color="#83dce3"/><stop offset="0.7000" stop-color="#77cee0"/><stop offset="0.7166" stop-color="#6cc1dd"/><stop offset="0.7334" stop-color="#63b4da"/><stop offset="0.7500" stop-color="#5ea5d6"/><stop offset="0.7666" stop-color="#6294ca"/><stop offset="0.7834" stop-color="#7280b8"/><stop offset="0.8000" stop-color="#826baa"/><stop offset="0.8166" stop-color="#91579e"/><stop offset="0.8334" stop-color="#a13e8d"/><stop offset="0.8345" stop-color="#a23d8c"/><stop offset="0.8500" stop-color="#94539b"/><stop offset="0.8666" stop-color="#8468a8"/><stop offset="0.8834" stop-color="#747db6"/><stop offset="0.9000" stop-color="#6491c7"/><stop offset="0.9166" stop-color="#5da3d5"/><stop offset="0.9334" stop-color="#62b2da"/><stop offset="0.9500" stop-color="#6bbfdd"/><stop offset="0.9666" stop-color="#76cde0"/><stop offset="0.9834" stop-color="#81dae3"/><stop offset="1.0000" stop-color="#8de7e6"/></linearGradient><linearGradient id="h13" x1="0" y1="0" x2="0" y2="1"><stop offset="0.0000" stop-color="#8ee8e6"/><stop offset="0.0166" stop-color="#8ae3e5"/><stop offset="0.0334" stop-color="#85dee4"/><stop offset="0.0500" stop-color="#80d8e2"/><stop offset="0.0666" stop-color="#7ad2e1"/><stop offset="0.0834" stop-color="#75cbe0"/><stop offset="0.1000" stop-color="#6fc5de"/><stop offset="0.1166" stop-color="#6abedd"/><stop offset="0.1334" stop-color="#66b8db"/><stop offset="0.1500" stop-color="#61b0d9"/><stop offset="0.1650" stop-color="#5fa9d7"/><stop offset="0.1666" stop-color="#5faad7"/><stop offset="0.1834" stop-color="#62b2da"/><stop offset="0.2000" stop-color="#67b9dc"/><stop offset="0.2166" stop-color="#6bc0dd"/><stop offset="0.2334" stop-color="#70c6df"/><stop offset="0.2500" stop-color="#76cde0"/><stop offset="0.2666" stop-color="#7bd3e1"/><stop offset="0.2834" stop-color="#81d9e3"/><stop offset="0.3000" stop-color="#86dfe4"/><stop offset="0.3166" stop-color="#8ae4e5"/><stop offset="0.3332" stop-color="#8ee8e6"/><stop offset="0.3334" stop-color="#8ee8e6"/><stop offset="0.3500" stop-color="#89e2e5"/><stop offset="0.3666" stop-color="#83dbe3"/><stop offset="0.3834" stop-color="#7cd4e1"/><stop offset="0.4000" stop-color="#75cce0"/><stop offset="0.4166" stop-color="#6ec4de"/><stop offset="0.4334" stop-color="#68bbdc"/><stop offset="0.4500" stop-color="#63b3da"/><stop offset="0.4666" stop-color="#5fa9d7"/><stop offset="0.4834" stop-color="#5b9ed3"/><stop offset="0.4995" stop-color="#6491c7"/><stop offset="0.5000" stop-color="#6392c8"/><stop offset="0.5166" stop-color="#5c9fd4"/><stop offset="0.5334" stop-color="#5fa9d7"/><stop offset="0.5500" stop-color="#63b3da"/><stop offset="0.5666" stop-color="#69bcdc"/><stop offset="0.5834" stop-color="#6ec4de"/><stop offset="0.6000" stop-color="#75cce0"/><stop offset="0.6166" stop-color="#7cd4e2"/><stop offset="0.6334" stop-color="#83dce3"/><stop offset="0.6500" stop-color="#89e2e5"/><stop offset="0.6666" stop-color="#8ee8e6"/><stop offset="0.6667" stop-color="#8ee8e6"/><stop offset="0.6834" stop-color="#83dce3"/><stop offset="0.7000" stop-color="#77cee0"/><stop offset="0.7166" stop-color="#6cc1dd"/><stop offset="0.7334" stop-color="#63b4da"/><stop offset="0.7500" stop-color="#5ea5d6"/><stop offset="0.7666" stop-color="#6294ca"/><stop offset="0.7834" stop-color="#7280b8"/><stop offset="0.8000" stop-color="#826baa"/><stop offset="0.8166" stop-color="#91579e"/><stop offset="0.8334" stop-color="#a13e8d"/><stop offset="0.8345" stop-color="#a23d8c"/><stop offset="0.8500" stop-color="#94539b"/><stop offset="0.8666" stop-color="#8468a8"/><stop offset="0.8834" stop-color="#747db6"/><stop offset="0.9000" stop-color="#6491c7"/><stop offset="0.9166" stop-color="#5da3d5"/><stop offset="0.9334" stop-color="#62b2da"/><stop offset="0.9500" stop-color="#6bbfdd"/><stop offset="0.9666" stop-color="#76cde0"/><stop offset="0.9834" stop-color="#81dae3"/><stop offset="1.0000" stop-color="#8de7e6"/></linearGradient><linearGradient id="h14" x1="0" y1="0" x2="0" y2="1"><stop offset="0.0000" stop-color="#8ee8e6"/><stop offset="0.0166" stop-color="#8ae3e5"/><stop offset="0.0334" stop-color="#85dee4"/><stop offset="0.0500" stop-color="#80d8e2"/><stop offset="0.0666" stop-color="#7ad2e1"/><stop offset="0.0834" stop-color="#75cbe0"/><stop offset="0.1000" stop-color="#6fc5de"/><stop offset="0.1166" stop-color="#6abedd"/><stop offset="0.1334" stop-color="#66b8db"/><stop offset="0.1500" stop-color="#61b0d9"/><stop offset="0.1650" stop-color="#5fa9d7"/><stop offset="0.1666" stop-color="#5faad7"/><stop offset="0.1834" stop-color="#62b2da"/><stop offset="0.2000" stop-color="#67b9dc"/><stop offset="0.2166" stop-color="#6bc0dd"/><stop offset="0.2334" stop-color="#70c6df"/><stop offset="0.2500" stop-color="#76cde0"/><stop offset="0.2666" stop-color="#7bd3e1"/><stop offset="0.2834" stop-color="#81d9e3"/><stop offset="0.3000" stop-color="#86dfe4"/><stop offset="0.3166" stop-color="#8ae4e5"/><stop offset="0.3332" stop-color="#8ee8e6"/><stop offset="0.3334" stop-color="#8ee8e6"/><stop offset="0.3500" stop-color="#89e2e5"/><stop offset="0.3666" stop-color="#82dbe3"/><stop offset="0.3834" stop-color="#7cd4e1"/><stop offset="0.4000" stop-color="#75cce0"/><stop offset="0.4166" stop-color="#6ec4de"/><stop offset="0.4334" stop-color="#68bbdc"/><stop offset="0.4500" stop-color="#62b3da"/><stop offset="0.4666" stop-color="#5fa9d7"/><stop offset="0.4834" stop-color="#5b9ed3"/><stop offset="0.4995" stop-color="#6491c7"/><stop offset="0.5000" stop-color="#6492c8"/><stop offset="0.5166" stop-color="#5c9fd4"/><stop offset="0.5334" stop-color="#5fa9d7"/><stop offset="0.5500" stop-color="#63b3da"/><stop offset="0.5666" stop-color="#69bcdc"/><stop offset="0.5834" stop-color="#6ec4de"/><stop offset="0.6000" stop-color="#75cce0"/><stop offset="0.6166" stop-color="#7cd4e2"/><stop offset="0.6334" stop-color="#83dbe3"/><stop offset="0.6500" stop-color="#89e2e5"/><stop offset="0.6666" stop-color="#8ee8e6"/><stop offset="0.6667" stop-color="#8ee8e6"/><stop offset="0.6834" stop-color="#83dce3"/><stop offset="0.7000" stop-color="#77cee0"/><stop offset="0.7166" stop-color="#6cc1dd"/><stop offset="0.7334" stop-color="#63b4da"/><stop offset="0.7500" stop-color="#5ea5d6"/><stop offset="0.7666" stop-color="#6294ca"/><stop offset="0.7834" stop-color="#7280b8"/><stop offset="0.8000" stop-color="#826baa"/><stop offset="0.8166" stop-color="#91579e"/><stop offset="0.8334" stop-color="#a13e8d"/><stop offset="0.8345" stop-color="#a23d8c"/><stop offset="0.8500" stop-color="#94539b"/><stop offset="0.8666" stop-color="#8468a8"/><stop offset="0.8834" stop-color="#747db6"/><stop offset="0.9000" stop-color="#6491c7"/><stop offset="0.9166" stop-color="#5da3d5"/><stop offset="0.9334" stop-color="#62b2da"/><stop offset="0.9500" stop-color="#6bbfdd"/><stop offset="0.9666" stop-color="#76cde0"/><stop offset="0.9834" stop-color="#81dae3"/><stop offset="1.0000" stop-color="#8de7e6"/></linearGradient><linearGradient id="h15" x1="0" y1="0" x2="0" y2="1"><stop offset="0.0000" stop-color="#8ee8e6"/><stop offset="0.0166" stop-color="#8ae3e5"/><stop offset="0.0334" stop-color="#85dee4"/><stop offset="0.0500" stop-color="#80d8e2"/><stop offset="0.0666" stop-color="#7ad2e1"/><stop offset="0.0834" stop-color="#75cbe0"/><stop offset="0.1000" stop-color="#6fc5de"/><stop offset="0.1166" stop-color="#6abedd"/><stop offset="0.1334" stop-color="#66b8db"/><stop offset="0.1500" stop-color="#61b0d9"/><stop offset="0.1650" stop-color="#5fa9d7"/><stop offset="0.1666" stop-color="#5faad7"/><stop offset="0.1834" stop-color="#62b2da"/><stop offset="0.2000" stop-color="#67b9dc"/><stop offset="0.2166" stop-color="#6bc0dd"/><stop offset="0.2334" stop-color="#70c6df"/><stop offset="0.2500" stop-color="#76cde0"/><stop offset="0.2666" stop-color="#7bd3e1"/><stop offset="0.2834" stop-color="#81d9e3"/><stop offset="0.3000" stop-color="#86dfe4"/><stop offset="0.3166" stop-color="#8ae4e5"/><stop offset="0.3332" stop-color="#8ee8e6"/><stop offset="0.3334" stop-color="#8ee8e6"/><stop offset="0.3500" stop-color="#89e2e5"/><stop offset="0.3666" stop-color="#82dbe3"/><stop offset="0.3834" stop-color="#7cd4e1"/><stop offset="0.4000" stop-color="#75cce0"/><stop offset="0.4166" stop-color="#6ec4de"/><stop offset="0.4334" stop-color="#68bbdc"/><stop offset="0.4500" stop-color="#62b3da"/><stop offset="0.4666" stop-color="#5fa8d7"/><stop offset="0.4834" stop-color="#5b9ed3"/><stop offset="0.4995" stop-color="#6491c7"/><stop offset="0.5000" stop-color="#6491c7"/><stop offset="0.5166" stop-color="#5c9fd4"/><stop offset="0.5334" stop-color="#5fa9d7"/><stop offset="0.5500" stop-color="#63b3da"/><stop offset="0.5666" stop-color="#69bcdc"/><stop offset="0.5834" stop-color="#6ec4de"/><stop offset="0.6000" stop-color="#75cce0"/><stop offset="0.6166" stop-color="#7cd4e2"/><stop offset="0.6334" stop-color="#83dbe3"/><stop offset="0.6500" stop-color="#89e2e5"/><stop offset="0.6666" stop-color="#8ee8e6"/><stop offset="0.6667" stop-color="#8ee8e6"/><stop offset="0.6834" stop-color="#83dce3"/><stop offset="0.7000" stop-color="#77cee0"/><stop offset="0.7166" stop-color="#6cc1dd"/><stop offset="0.7334" stop-color="#63b4da"/><stop offset="0.7500" stop-color="#5ea5d6"/><stop offset="0.7666" stop-color="#6294ca"/><stop offset="0.7834" stop-color="#7280b8"/><stop offset="0.8000" stop-color="#826baa"/><stop offset="0.8166" stop-color="#91579e"/><stop offset="0.8334" stop-color="#a13e8d"/><stop offset="0.8345" stop-color="#a23d8c"/><stop offset="0.8500" stop-color="#94539b"/><stop offset="0.8666" stop-color="#8468a8"/><stop offset="0.8834" stop-color="#747db6"/><stop offset="0.9000" stop-color="#6491c7"/><stop offset="0.9166" stop-color="#5da3d5"/><stop offset="0.9334" stop-color="#62b2da"/><stop offset="0.9500" stop-color="#6bbfdd"/><stop offset="0.9666" stop-color="#76cde0"/><stop offset="0.9834" stop-color="#81dae3"/><stop offset="1.0000" stop-color="#8de7e6"/></linearGradient><linearGradient id="h16" x1="0" y1="0" x2="0" y2="1"><stop offset="0.0000" stop-color="#8ee8e6"/><stop offset="0.0166" stop-color="#8ae3e5"/><stop offset="0.0334" stop-color="#85dee4"/><stop offset="0.0500" stop-color="#80d8e2"/><stop offset="0.0666" stop-color="#7ad2e1"/><stop offset="0.0834" stop-color="#75cbe0"/><stop offset="0.1000" stop-color="#6fc5de"/><stop offset="0.1166" stop-color="#6abedd"/><stop offset="0.1334" stop-color="#66b8db"/><stop offset="0.1500" stop-color="#61b0d9"/><stop offset="0.1650" stop-color="#5fa9d7"/><stop offset="0.1666" stop-color="#5faad7"/><stop offset="0.1834" stop-color="#62b2da"/><stop offset="0.2000" stop-color="#67b9dc"/><stop offset="0.2166" stop-color="#6bc0dd"/><stop offset="0.2334" stop-color="#70c6df"/><stop offset="0.2500" stop-color="#76cde0"/><stop offset="0.2666" stop-color="#7bd3e1"/><stop offset="0.2834" stop-color="#81d9e3"/><stop offset="0.3000" stop-color="#86dfe4"/><stop offset="0.3166" stop-color="#8ae4e5"/><stop offset="0.3332" stop-color="#8ee8e6"/><stop offset="0.3334" stop-color="#8ee8e6"/><stop offset="0.3500" stop-color="#89e2e5"/><stop offset="0.3666" stop-color="#82dbe3"/><stop offset="0.3834" stop-color="#7cd3e1"/><stop offset="0.4000" stop-color="#75cce0"/><stop offset="0.4166" stop-color="#6ec4de"/><stop offset="0.4334" stop-color="#68bbdc"/><stop offset="0.4500" stop-color="#62b3da"/><stop offset="0.4666" stop-color="#5fa8d7"/><stop offset="0.4834" stop-color="#5b9ed3"/><stop offset="0.4995" stop-color="#6491c7"/><stop offset="0.5000" stop-color="#6491c7"/><stop offset="0.5166" stop-color="#5b9ed3"/><stop offset="0.5334" stop-color="#5fa9d7"/><stop offset="0.5500" stop-color="#63b3da"/><stop offset="0.5666" stop-color="#68bcdc"/><stop offset="0.5834" stop-color="#6ec4de"/><stop offset="0.6000" stop-color="#75cce0"/><stop offset="0.6166" stop-color="#7cd4e2"/><stop offset="0.6334" stop-color="#83dbe3"/><stop offset="0.6500" stop-color="#89e2e5"/><stop offset="0.6666" stop-color="#8ee8e6"/><stop offset="0.6667" stop-color="#8ee8e6"/><stop offset="0.6834" stop-color="#83dce3"/><stop offset="0.7000" stop-color="#77cee0"/><stop offset="0.7166" stop-color="#6cc1dd"/><stop offset="0.7334" stop-color="#63b4da"/><stop offset="0.7500" stop-color="#5ea5d6"/><stop offset="0.7666" stop-color="#6294ca"/><stop offset="0.7834" stop-color="#7280b8"/><stop offset="0.8000" stop-color="#826baa"/><stop offset="0.8166" stop-color="#91579e"/><stop offset="0.8334" stop-color="#a13e8d"/><stop offset="0.8345" stop-color="#a23d8c"/><stop offset="0.8500" stop-color="#94539b"/><stop offset="0.8666" stop-color="#8468a8"/><stop offset="0.8834" stop-color="#747db6"/><stop offset="0.9000" stop-color="#6491c7"/><stop offset="0.9166" stop-color="#5da3d5"/><stop offset="0.9334" stop-color="#62b2da"/><stop offset="0.9500" stop-color="#6bbfdd"/><stop offset="0.9666" stop-color="#76cde0"/><stop offset="0.9834" stop-color="#81dae3"/><stop offset="1.0000" stop-color="#8de7e6"/></linearGradient><linearGradient id="h17" x1="0" y1="0" x2="0" y2="1"><stop offset="0.0000" stop-color="#8ee8e6"/><stop offset="0.0166" stop-color="#8ae3e5"/><stop offset="0.0334" stop-color="#85dee4"/><stop offset="0.0500" stop-color="#80d8e2"/><stop offset="0.0666" stop-color="#7ad2e1"/><stop offset="0.0834" stop-color="#75cbe0"/><stop offset="0.1000" stop-color="#6fc5de"/><stop offset="0.1166" stop-color="#6abedd"/><stop offset="0.1334" stop-color="#66b8db"/><stop offset="0.1500" stop-color="#61b0d9"/><stop offset="0.1650" stop-color="#5fa9d7"/><stop offset="0.1666" stop-color="#5faad7"/><stop offset="0.1834" stop-color="#62b2da"/><stop offset="0.2000" stop-color="#67b9dc"/><stop offset="0.2166" stop-color="#6bc0dd"/><stop offset="0.2334" stop-color="#70c6df"/><stop offset="0.2500" stop-color="#76cde0"/><stop offset="0.2666" stop-color="#7bd3e1"/><stop offset="0.2834" stop-color="#81d9e3"/><stop offset="0.3000" stop-color="#86dfe4"/><stop offset="0.3166" stop-color="#8ae4e5"/><stop offset="0.3332" stop-color="#8ee8e6"/><stop offset="0.3334" stop-color="#8ee8e6"/><stop offset="0.3500" stop-color="#89e2e5"/><stop offset="0.3666" stop-color="#82dbe3"/><stop offset="0.3834" stop-color="#7cd3e1"/><stop offset="0.4000" stop-color="#75cce0"/><stop offset="0.4166" stop-color="#6ec4de"/><stop offset="0.4334" stop-color="#68bbdc"/><stop offset="0.4500" stop-color="#62b2da"/><stop offset="0.4666" stop-color="#5fa8d7"/><stop offset="0.4834" stop-color="#5b9ed3"/><stop offset="0.4995" stop-color="#6490c6"/><stop offset="0.5000" stop-color="#6491c7"/><stop offset="0.5166" stop-color="#5b9ed3"/><stop offset="0.5334" stop-color="#5fa9d7"/><stop offset="0.5500" stop-color="#63b3da"/><stop offset="0.5666" stop-color="#68bcdc"/><stop offset="0.5834" stop-color="#6ec4de"/><stop offset="0.6000" stop-color="#75cce0"/><stop offset="0.6166" stop-color="#7cd4e2"/><stop offset="0.6334" stop-color="#83dbe3"/><stop offset="0.6500" stop-color="#89e2e5"/><stop offset="0.6666" stop-color="#8ee8e6"/><stop offset="0.6667" stop-color="#8ee8e6"/><stop offset="0.6834" stop-color="#83dce3"/><stop offset="0.7000" stop-color="#77cfe0"/><stop offset="0.7166" stop-color="#6cc2dd"/><stop offset="0.7334" stop-color="#64b4db"/><stop offset="0.7500" stop-color="#5ea6d6"/><stop offset="0.7666" stop-color="#6294ca"/><stop offset="0.7834" stop-color="#7181b8"/><stop offset="0.8000" stop-color="#816cab"/><stop offset="0.8166" stop-color="#90589e"/><stop offset="0.8334" stop-color="#a03f8e"/><stop offset="0.8345" stop-color="#a23e8c"/><stop offset="0.8500" stop-color="#93549c"/><stop offset="0.8666" stop-color="#8369a9"/><stop offset="0.8834" stop-color="#747eb6"/><stop offset="0.9000" stop-color="#6491c7"/><stop offset="0.9166" stop-color="#5da3d5"/><stop offset="0.9334" stop-color="#62b3da"/><stop offset="0.9500" stop-color="#6bc0dd"/><stop offset="0.9666" stop-color="#76cde0"/><stop offset="0.9834" stop-color="#81dae3"/><stop offset="1.0000" stop-color="#8de7e6"/></linearGradient><linearGradient id="h18" x1="0" y1="0" x2="0" y2="1"><stop offset="0.0000" stop-color="#8ee8e6"/><stop offset="0.0166" stop-color="#8ae3e5"/><stop offset="0.0334" stop-color="#85dee4"/><stop offset="0.0500" stop-color="#80d8e2"/><stop offset="0.0666" stop-color="#7ad2e1"/><stop offset="0.0834" stop-color="#75cbe0"/><stop offset="0.1000" stop-color="#6fc5de"/><stop offset="0.1166" stop-color="#6abedd"/><stop offset="0.1334" stop-color="#66b8db"/><stop offset="0.1500" stop-color="#61b0d9"/><stop offset="0.1650" stop-color="#5fa9d7"/><stop offset="0.1666" stop-color="#5faad7"/><stop offset="0.1834" stop-color="#62b2da"/><stop offset="0.2000" stop-color="#67b9dc"/><stop offset="0.2166" stop-color="#6bc0dd"/><stop offset="0.2334" stop-color="#70c6df"/><stop offset="0.2500" stop-color="#76cde0"/><stop offset="0.2666" stop-color="#7bd3e1"/><stop offset="0.2834" stop-color="#81d9e3"/><stop offset="0.3000" stop-color="#86dfe4"/><stop offset="0.3166" stop-color="#8ae4e5"/><stop offset="0.3332" stop-color="#8ee8e6"/><stop offset="0.3334" stop-color="#8ee8e6"/><stop offset="0.3500" stop-color="#89e2e5"/><stop offset="0.3666" stop-color="#82dbe3"/><stop offset="0.3834" stop-color="#7cd3e1"/><stop offset="0.4000" stop-color="#75cce0"/><stop offset="0.4166" stop-color="#6ec3de"/><stop offset="0.4334" stop-color="#68bbdc"/><stop offset="0.4500" stop-color="#62b2da"/><stop offset="0.4666" stop-color="#5fa8d7"/><stop offset="0.4834" stop-color="#5b9ed3"/><stop offset="0.4995" stop-color="#6590c6"/><stop offset="0.5000" stop-color="#6491c7"/><stop offset="0.5166" stop-color="#5b9ed3"/><stop offset="0.5334" stop-color="#5fa9d7"/><stop offset="0.5500" stop-color="#63b3da"/><stop offset="0.5666" stop-color="#68bcdc"/><stop offset="0.5834" stop-color="#6ec4de"/><stop offset="0.6000" stop-color="#75cce0"/><stop offset="0.6166" stop-color="#7cd4e2"/><stop offset="0.6334" stop-color="#83dbe3"/><stop offset="0.6500" stop-color="#89e2e5"/><stop offset="0.6666" stop-color="#8ee8e6"/><stop offset="0.6667" stop-color="#8ee8e6"/><stop offset="0.6834" stop-color="#83dce3"/><stop offset="0.7000" stop-color="#78cfe0"/><stop offset="0.7166" stop-color="#6dc2de"/><stop offset="0.7334" stop-color="#64b5db"/><stop offset="0.7500" stop-color="#5ea6d6"/><stop offset="0.7666" stop-color="#6195cb"/><stop offset="0.7834" stop-color="#7082b9"/><stop offset="0.8000" stop-color="#806eab"/><stop offset="0.8166" stop-color="#8f5aa0"/><stop offset="0.8334" stop-color="#9f418f"/><stop offset="0.8345" stop-color="#a0408e"/><stop offset="0.8500" stop-color="#91569d"/><stop offset="0.8666" stop-color="#826baa"/><stop offset="0.8834" stop-color="#727fb7"/><stop offset="0.9000" stop-color="#6392c8"/><stop offset="0.9166" stop-color="#5da4d5"/><stop offset="0.9334" stop-color="#63b3da"/><stop offset="0.9500" stop-color="#6bc0dd"/><stop offset="0.9666" stop-color="#76cde0"/><stop offset="0.9834" stop-color="#81dae3"/><stop offset="1.0000" stop-color="#8de7e6"/></linearGradient><linearGradient id="h19" x1="0" y1="0" x2="0" y2="1"><stop offset="0.0000" stop-color="#8ee8e6"/><stop offset="0.0166" stop-color="#8ae3e5"/><stop offset="0.0334" stop-color="#85dee4"/><stop offset="0.0500" stop-color="#80d8e2"/><stop offset="0.0666" stop-color="#7ad2e1"/><stop offset="0.0834" stop-color="#75cbe0"/><stop offset="0.1000" stop-color="#6fc5de"/><stop offset="0.1166" stop-color="#6abedd"/><stop offset="0.1334" stop-color="#66b8db"/><stop offset="0.1500" stop-color="#61b0d9"/><stop offset="0.1650" stop-color="#5fa9d7"/><stop offset="0.1666" stop-color="#5faad7"/><stop offset="0.1834" stop-color="#62b2da"/><stop offset="0.2000" stop-color="#67b9dc"/><stop offset="0.2166" stop-color="#6bc0dd"/><stop offset="0.2334" stop-color="#70c6df"/><stop offset="0.2500" stop-color="#76cde0"/><stop offset="0.2666" stop-color="#7bd3e1"/><stop offset="0.2834" stop-color="#81d9e3"/><stop offset="0.3000" stop-color="#86dfe4"/><stop offset="0.3166" stop-color="#8ae4e5"/><stop offset="0.3332" stop-color="#8ee8e6"/><stop offset="0.3334" stop-color="#8ee8e6"/><stop offset="0.3500" stop-color="#89e2e5"/><stop offset="0.3666" stop-color="#82dbe3"/><stop offset="0.3834" stop-color="#7cd3e1"/><stop offset="0.4000" stop-color="#75cce0"/><stop offset="0.4166" stop-color="#6ec3de"/><stop offset="0.4334" stop-color="#68bbdc"/><stop offset="0.4500" stop-color="#62b2da"/><stop offset="0.4666" stop-color="#5fa8d7"/><stop offset="0.4834" stop-color="#5b9dd3"/><stop offset="0.4995" stop-color="#6590c6"/><stop offset="0.5000" stop-color="#6590c6"/><stop offset="0.5166" stop-color="#5b9ed3"/><stop offset="0.5334" stop-color="#5fa9d7"/><stop offset="0.5500" stop-color="#62b3da"/><stop offset="0.5666" stop-color="#68bbdc"/><stop offset="0.5834" stop-color="#6ec4de"/><stop offset="0.6000" stop-color="#75cce0"/><stop offset="0.6166" stop-color="#7cd4e2"/><stop offset="0.6334" stop-color="#83dbe3"/><stop offset="0.6500" stop-color="#89e2e5"/><stop offset="0.6666" stop-color="#8ee8e6"/><stop offset="0.6667" stop-color="#8ee8e6"/><stop offset="0.6834" stop-color="#83dce3"/><stop offset="0.7000" stop-color="#78cfe0"/><stop offset="0.7166" stop-color="#6dc2de"/><stop offset="0.7334" stop-color="#64b5db"/><stop offset="0.7500" stop-color="#5ea7d6"/><stop offset="0.7666" stop-color="#6096cc"/><stop offset="0.7834" stop-color="#6f83ba"/><stop offset="0.8000" stop-color="#7f6fac"/><stop offset="0.8166" stop-color="#8e5ba1"/><stop offset="0.8334" stop-color="#9e4390"/><stop offset="0.8345" stop-color="#9f428f"/><stop offset="0.8500" stop-color="#90589f"/><stop offset="0.8666" stop-color="#816cab"/><stop offset="0.8834" stop-color="#7180b8"/><stop offset="0.9000" stop-color="#6293c9"/><stop offset="0.9166" stop-color="#5ea5d6"/><stop offset="0.9334" stop-color="#63b3da"/><stop offset="0.9500" stop-color="#6cc0dd"/><stop offset="0.9666" stop-color="#76cde0"/><stop offset="0.9834" stop-color="#82dae3"/><stop offset="1.0000" stop-color="#8de7e6"/></linearGradient><linearGradient id="h20" x1="0" y1="0" x2="0" y2="1"><stop offset="0.0000" stop-color="#8ee8e6"/><stop offset="0.0166" stop-color="#8ae3e5"/><stop offset="0.0334" stop-color="#85dee4"/><stop offset="0.0500" stop-color="#80d8e2"/><stop offset="0.0666" stop-color="#7ad2e1"/><stop offset="0.0834" stop-color="#75cbe0"/><stop offset="0.1000" stop-color="#6fc5de"/><stop offset="0.1166" stop-color="#6abedd"/><stop offset="0.1334" stop-color="#66b8db"/><stop offset="0.1500" stop-color="#61b0d9"/><stop offset="0.1650" stop-color="#5fa9d7"/><stop offset="0.1666" stop-color="#5faad7"/><stop offset="0.1834" stop-color="#62b2da"/><stop offset="0.2000" stop-color="#67b9dc"/><stop offset="0.2166" stop-color="#6bc0dd"/><stop offset="0.2334" stop-color="#70c6df"/><stop offset="0.2500" stop-color="#76cde0"/><stop offset="0.2666" stop-color="#7bd3e1"/><stop offset="0.2834" stop-color="#81d9e3"/><stop offset="0.3000" stop-color="#86dfe4"/><stop offset="0.3166" stop-color="#8ae4e5"/><stop offset="0.3332" stop-color="#8ee8e6"/><stop offset="0.3334" stop-color="#8ee8e6"/><stop offset="0.3500" stop-color="#89e2e5"/><stop offset="0.3666" stop-color="#82dbe3"/><stop offset="0.3834" stop-color="#7cd3e1"/><stop offset="0.4000" stop-color="#75cbe0"/><stop offset="0.4166" stop-color="#6ec3de"/><stop offset="0.4334" stop-color="#68bbdc"/><stop offset="0.4500" stop-color="#62b2da"/><stop offset="0.4666" stop-color="#5fa8d7"/><stop offset="0.4834" stop-color="#5b9dd3"/><stop offset="0.4995" stop-color="#6590c6"/><stop offset="0.5000" stop-color="#6590c6"/><stop offset="0.5166" stop-color="#5b9ed3"/><stop offset="0.5334" stop-color="#5fa8d7"/><stop offset="0.5500" stop-color="#62b3da"/><stop offset="0.5666" stop-color="#68bbdc"/><stop offset="0.5834" stop-color="#6ec4de"/><stop offset="0.6000" stop-color="#75cce0"/><stop offset="0.6166" stop-color="#7cd4e2"/><stop offset="0.6334" stop-color="#83dbe3"/><stop offset="0.6500" stop-color="#89e2e5"/><stop offset="0.6666" stop-color="#8ee8e6"/><stop offset="0.6667" stop-color="#8ee8e6"/><stop offset="0.6834" stop-color="#83dce3"/><stop offset="0.7000" stop-color="#78cfe0"/><stop offset="0.7166" stop-color="#6dc3de"/><stop offset="0.7334" stop-color="#64b6db"/><stop offset="0.7500" stop-color="#5ea7d6"/><stop offset="0.7666" stop-color="#5f97cd"/><stop offset="0.7834" stop-color="#6e84bb"/><stop offset="0.8000" stop-color="#7e71ad"/><stop offset="0.8166" stop-color="#8d5da2"/><stop offset="0.8334" stop-color="#9d4591"/><stop offset="0.8345" stop-color="#9e4490"/><stop offset="0.8500" stop-color="#8f5aa0"/><stop offset="0.8666" stop-color="#806eab"/><stop offset="0.8834" stop-color="#7082b9"/><stop offset="0.9000" stop-color="#6195cb"/><stop offset="0.9166" stop-color="#5ea5d6"/><stop offset="0.9334" stop-color="#63b4da"/><stop offset="0.9500" stop-color="#6cc1dd"/><stop offset="0.9666" stop-color="#76cde0"/><stop offset="0.9834" stop-color="#82dae3"/><stop offset="1.0000" stop-color="#8de7e6"/></linearGradient><linearGradient id="h21" x1="0" y1="0" x2="0" y2="1"><stop offset="0.0000" stop-color="#8ee8e6"/><stop offset="0.0166" stop-color="#8ae3e5"/><stop offset="0.0334" stop-color="#85dee4"/><stop offset="0.0500" stop-color="#80d8e2"/><stop offset="0.0666" stop-color="#7ad2e1"/><stop offset="0.0834" stop-color="#75cbe0"/><stop offset="0.1000" stop-color="#6fc5de"/><stop offset="0.1166" stop-color="#6abedd"/><stop offset="0.1334" stop-color="#66b8db"/><stop offset="0.1500" stop-color="#61b0d9"/><stop offset="0.1650" stop-color="#5fa9d7"/><stop offset="0.1666" stop-color="#5faad7"/><stop offset="0.1834" stop-color="#62b2da"/><stop offset="0.2000" stop-color="#67b9dc"/><stop offset="0.2166" stop-color="#6bc0dd"/><stop offset="0.2334" stop-color="#70c6df"/><stop offset="0.2500" stop-color="#76cde0"/><stop offset="0.2666" stop-color="#7bd3e1"/><stop offset="0.2834" stop-color="#81d9e3"/><stop offset="0.3000" stop-color="#86dfe4"/><stop offset="0.3166" stop-color="#8ae4e5"/><stop offset="0.3332" stop-color="#8ee8e6"/><stop offset="0.3334" stop-color="#8ee8e6"/><stop offset="0.3500" stop-color="#89e2e5"/><stop offset="0.3666" stop-color="#82dbe3"/><stop offset="0.3834" stop-color="#7cd3e1"/><stop offset="0.4000" stop-color="#75cbe0"/><stop offset="0.4166" stop-color="#6ec3de"/><stop offset="0.4334" stop-color="#68bbdc"/><stop offset="0.4500" stop-color="#62b2da"/><stop offset="0.4666" stop-color="#5fa8d7"/><stop offset="0.4834" stop-color="#5b9dd3"/><stop offset="0.4995" stop-color="#658fc5"/><stop offset="0.5000" stop-color="#6590c6"/><stop offset="0.5166" stop-color="#5b9ed3"/><stop offset="0.5334" stop-color="#5fa8d7"/><stop offset="0.5500" stop-color="#62b3da"/><stop offset="0.5666" stop-color="#68bbdc"/><stop offset="0.5834" stop-color="#6ec4de"/><stop offset="0.6000" stop-color="#75cce0"/><stop offset="0.6166" stop-color="#7cd4e1"/><stop offset="0.6334" stop-color="#83dbe3"/><stop offset="0.6500" stop-color="#89e2e5"/><stop offset="0.6666" stop-color="#8ee8e6"/><stop offset="0.6667" stop-color="#8ee8e6"/><stop offset="0.6834" stop-color="#83dce3"/><stop offset="0.7000" stop-color="#78cfe1"/><stop offset="0.7166" stop-color="#6dc3de"/><stop offset="0.7334" stop-color="#65b6db"/><stop offset="0.7500" stop-color="#5fa8d7"/><stop offset="0.7666" stop-color="#5f98ce"/><stop offset="0.7834" stop-color="#6d85bc"/><stop offset="0.8000" stop-color="#7d72ae"/><stop offset="0.8166" stop-color="#8c5ea3"/><stop offset="0.8334" stop-color="#9b4793"/><stop offset="0.8345" stop-color="#9c4592"/><stop offset="0.8500" stop-color="#8e5ca1"/><stop offset="0.8666" stop-color="#7f6fac"/><stop offset="0.8834" stop-color="#6f83ba"/><stop offset="0.9000" stop-color="#6196cc"/><stop offset="0.9166" stop-color="#5ea6d6"/><stop offset="0.9334" stop-color="#64b4db"/><stop offset="0.9500" stop-color="#6cc1dd"/><stop offset="0.9666" stop-color="#77cee0"/><stop offset="0.9834" stop-color="#82dae3"/><stop offset="1.0000" stop-color="#8de7e6"/></linearGradient><linearGradient id="h22" x1="0" y1="0" x2="0" y2="1"><stop offset="0.0000" stop-color="#8ee8e6"/><stop offset="0.0166" stop-color="#8ae3e5"/><stop offset="0.0334" stop-color="#85dee4"/><stop offset="0.0500" stop-color="#80d8e2"/><stop offset="0.0666" stop-color="#7ad2e1"/><stop offset="0.0834" stop-color="#75cbe0"/><stop offset="0.1000" stop-color="#6fc5de"/><stop offset="0.1166" stop-color="#6abedd"/><stop offset="0.1334" stop-color="#66b8db"/><stop offset="0.1500" stop-color="#61b0d9"/><stop offset="0.1650" stop-color="#5fa9d7"/><stop offset="0.1666" stop-color="#5faad7"/><stop offset="0.1834" stop-color="#62b2da"/><stop offset="0.2000" stop-color="#67b9dc"/><stop offset="0.2166" stop-color="#6bc0dd"/><stop offset="0.2334" stop-color="#70c6df"/><stop offset="0.2500" stop-color="#76cde0"/><stop offset="0.2666" stop-color="#7bd3e1"/><stop offset="0.2834" stop-color="#81d9e3"/><stop offset="0.3000" stop-color="#86dfe4"/><stop offset="0.3166" stop-color="#8ae4e5"/><stop offset="0.3332" stop-color="#8ee8e6"/><stop offset="0.3334" stop-color="#8ee8e6"/><stop offset="0.3500" stop-color="#89e2e5"/><stop offset="0.3666" stop-color="#82dbe3"/><stop offset="0.3834" stop-color="#7cd3e1"/><stop offset="0.4000" stop-color="#75cbe0"/><stop offset="0.4166" stop-color="#6dc3de"/><stop offset="0.4334" stop-color="#68bbdc"/><stop offset="0.4500" stop-color="#62b2da"/><stop offset="0.4666" stop-color="#5ea7d6"/><stop offset="0.4834" stop-color="#5b9dd3"/><stop offset="0.4995" stop-color="#658fc5"/><stop offset="0.5000" stop-color="#6590c6"/><stop offset="0.5166" stop-color="#5b9ed3"/><stop offset="0.5334" stop-color="#5fa8d7"/><stop offset="0.5500" stop-color="#62b2da"/><stop offset="0.5666" stop-color="#68bbdc"/><stop offset="0.5834" stop-color="#6ec4de"/><stop offset="0.6000" stop-color="#75cce0"/><stop offset="0.6166" stop-color="#7cd4e1"/><stop offset="0.6334" stop-color="#83dbe3"/><stop offset="0.6500" stop-color="#89e2e5"/><stop offset="0.6666" stop-color="#8ee8e6"/><stop offset="0.6667" stop-color="#8ee8e6"/><stop offset="0.6834" stop-color="#83dce3"/><stop offset="0.7000" stop-color="#78d0e1"/><stop offset="0.7166" stop-color="#6dc3de"/><stop offset="0.7334" stop-color="#65b7db"/><stop offset="0.7500" stop-color="#5fa9d7"/><stop offset="0.7666" stop-color="#5e99cf"/><stop offset="0.7834" stop-color="#6c86bd"/><stop offset="0.8000" stop-color="#7c74af"/><stop offset="0.8166" stop-color="#8a60a3"/><stop offset="0.8334" stop-color="#9a4994"/><stop offset="0.8345" stop-color="#9b4893"/><stop offset="0.8500" stop-color="#8c5da2"/><stop offset="0.8666" stop-color="#7e71ad"/><stop offset="0.8834" stop-color="#6e84bb"/><stop offset="0.9000" stop-color="#6097cd"/><stop offset="0.9166" stop-color="#5ea7d6"/><stop offset="0.9334" stop-color="#64b5db"/><stop offset="0.9500" stop-color="#6cc1dd"/><stop offset="0.9666" stop-color="#77cee0"/><stop offset="0.9834" stop-color="#82dae3"/><stop offset="1.0000" stop-color="#8de7e6"/></linearGradient><linearGradient id="h23" x1="0" y1="0" x2="0" y2="1"><stop offset="0.0000" stop-color="#8ee8e6"/><stop offset="0.0166" stop-color="#8ae3e5"/><stop offset="0.0334" stop-color="#85dee4"/><stop offset="0.0500" stop-color="#80d8e2"/><stop offset="0.0666" stop-color="#7ad2e1"/><stop offset="0.0834" stop-color="#75cbe0"/><stop offset="0.1000" stop-color="#6fc5de"/><stop offset="0.1166" stop-color="#6abedd"/><stop offset="0.1334" stop-color="#66b8db"/><stop offset="0.1500" stop-color="#61b0d9"/><stop offset="0.1650" stop-color="#5fa9d7"/><stop offset="0.1666" stop-color="#5faad7"/><stop offset="0.1834" stop-color="#62b2da"/><stop offset="0.2000" stop-color="#67b9dc"/><stop offset="0.2166" stop-color="#6bc0dd"/><stop offset="0.2334" stop-color="#70c6df"/><stop offset="0.2500" stop-color="#76cde0"/><stop offset="0.2666" stop-color="#7bd3e1"/><stop offset="0.2834" stop-color="#81d9e3"/><stop offset="0.3000" stop-color="#86dfe4"/><stop offset="0.3166" stop-color="#8ae4e5"/><stop offset="0.3332" stop-color="#8ee8e6"/><stop offset="0.3334" stop-color="#8ee8e6"/><stop offset="0.3500" stop-color="#89e2e5"/><stop offset="0.3666" stop-color="#82dbe3"/><stop offset="0.3834" stop-color="#7cd3e1"/><stop offset="0.4000" stop-color="#75cbe0"/><stop offset="0.4166" stop-color="#6dc3de"/><stop offset="0.4334" stop-color="#68bbdc"/><stop offset="0.4500" stop-color="#62b2da"/><stop offset="0.4666" stop-color="#5ea7d6"/><stop offset="0.4834" stop-color="#5b9dd3"/><stop offset="0.4995" stop-color="#668fc5"/><stop offset="0.5000" stop-color="#658fc5"/><stop offset="0.5166" stop-color="#5b9dd3"/><stop offset="0.5334" stop-color="#5fa8d7"/><stop offset="0.5500" stop-color="#62b2da"/><stop offset="0.5666" stop-color="#68bbdc"/><stop offset="0.5834" stop-color="#6ec4de"/><stop offset="0.6000" stop-color="#75cce0"/><stop offset="0.6166" stop-color="#7cd4e1"/><stop offset="0.6334" stop-color="#83dbe3"/><stop offset="0.6500" stop-color="#89e2e5"/><stop offset="0.6666" stop-color="#8ee8e6"/><stop offset="0.6667" stop-color="#8ee8e6"/><stop offset="0.6834" stop-color="#84dce3"/><stop offset="0.7000" stop-color="#79d0e1"/><stop offset="0.7166" stop-color="#6ec4de"/><stop offset="0.7334" stop-color="#66b7db"/><stop offset="0.7500" stop-color="#5faad7"/><stop offset="0.7666" stop-color="#5d9bd1"/><stop offset="0.7834" stop-color="#6b88be"/><stop offset="0.8000" stop-color="#7a76b0"/><stop offset="0.8166" stop-color="#8962a5"/><stop offset="0.8334" stop-color="#984c97"/><stop offset="0.8345" stop-color="#994b95"/><stop offset="0.8500" stop-color="#8b60a3"/><stop offset="0.8666" stop-color="#7c73af"/><stop offset="0.8834" stop-color="#6d86bc"/><stop offset="0.9000" stop-color="#5f98ce"/><stop offset="0.9166" stop-color="#5fa8d7"/><stop offset="0.9334" stop-color="#64b6db"/><stop offset="0.9500" stop-color="#6dc2de"/><stop offset="0.9666" stop-color="#77cee0"/><stop offset="0.9834" stop-color="#82dbe3"/><stop offset="1.0000" stop-color="#8de7e6"/></linearGradient><linearGradient id="h24" x1="0" y1="0" x2="0" y2="1"><stop offset="0.0000" stop-color="#8ee8e6"/><stop offset="0.0166" stop-color="#8ae3e5"/><stop offset="0.0334" stop-color="#85dee4"/><stop offset="0.0500" stop-color="#80d8e2"/><stop offset="0.0666" stop-color="#7ad2e1"/><stop offset="0.0834" stop-color="#75cbe0"/><stop offset="0.1000" stop-color="#6fc5de"/><stop offset="0.1166" stop-color="#6abedd"/><stop offset="0.1334" stop-color="#66b8db"/><stop offset="0.1500" stop-color="#61b0d9"/><stop offset="0.1650" stop-color="#5fa9d7"/><stop offset="0.1666" stop-color="#5faad7"/><stop offset="0.1834" stop-color="#62b2da"/><stop offset="0.2000" stop-color="#67b9dc"/><stop offset="0.2166" stop-color="#6bc0dd"/><stop offset="0.2334" stop-color="#70c6df"/><stop offset="0.2500" stop-color="#76cde0"/><stop offset="0.2666" stop-color="#7bd3e1"/><stop offset="0.2834" stop-color="#81d9e3"/><stop offset="0.3000" stop-color="#86dfe4"/><stop offset="0.3166" stop-color="#8ae4e5"/><stop offset="0.3332" stop-color="#8ee8e6"/><stop offset="0.3334" stop-color="#8ee8e6"/><stop offset="0.3500" stop-color="#89e2e5"/><stop offset="0.3666" stop-color="#82dbe3"/><stop offset="0.3834" stop-color="#7bd3e1"/><stop offset="0.4000" stop-color="#74cbe0"/><stop offset="0.4166" stop-color="#6dc3de"/><stop offset="0.4334" stop-color="#68badc"/><stop offset="0.4500" stop-color="#62b2da"/><stop offset="0.4666" stop-color="#5ea7d6"/><stop offset="0.4834" stop-color="#5b9cd2"/><stop offset="0.4995" stop-color="#668fc5"/><stop offset="0.5000" stop-color="#658fc5"/><stop offset="0.5166" stop-color="#5b9dd3"/><stop offset="0.5334" stop-color="#5fa8d7"/><stop offset="0.5500" stop-color="#62b2da"/><stop offset="0.5666" stop-color="#68bbdc"/><stop offset="0.5834" stop-color="#6ec4de"/><stop offset="0.6000" stop-color="#75cce0"/><stop offset="0.6166" stop-color="#7cd4e1"/><stop offset="0.6334" stop-color="#83dbe3"/><stop offset="0.6500" stop-color="#89e2e5"/><stop offset="0.6666" stop-color="#8ee8e6"/><stop offset="0.6667" stop-color="#8ee8e6"/><stop offset="0.6834" stop-color="#84dce3"/><stop offset="0.7000" stop-color="#79d0e1"/><stop offset="0.7166" stop-color="#6ec4de"/><stop offset="0.7334" stop-color="#66b8db"/><stop offset="0.7500" stop-color="#60abd8"/><stop offset="0.7666" stop-color="#5b9cd2"/><stop offset="0.7834" stop-color="#698ac0"/><stop offset="0.8000" stop-color="#7978b2"/><stop offset="0.8166" stop-color="#8764a6"/><stop offset="0.8334" stop-color="#965099"/><stop offset="0.8345" stop-color="#974e98"/><stop offset="0.8500" stop-color="#8962a5"/><stop offset="0.8666" stop-color="#7b75b0"/><stop offset="0.8834" stop-color="#6b87be"/><stop offset="0.9000" stop-color="#5d9ad0"/><stop offset="0.9166" stop-color="#5fa9d7"/><stop offset="0.9334" stop-color="#65b6db"/><stop offset="0.9500" stop-color="#6dc2de"/><stop offset="0.9666" stop-color="#77cfe0"/><stop offset="0.9834" stop-color="#82dbe3"/><stop offset="1.0000" stop-color="#8de7e6"/></linearGradient><linearGradient id="h25" x1="0" y1="0" x2="0" y2="1"><stop offset="0.0000" stop-color="#8ee8e6"/><stop offset="0.0166" stop-color="#8ae3e5"/><stop offset="0.0334" stop-color="#85dee4"/><stop offset="0.0500" stop-color="#80d8e2"/><stop offset="0.0666" stop-color="#7ad2e1"/><stop offset="0.0834" stop-color="#75cbe0"/><stop offset="0.1000" stop-color="#6fc5de"/><stop offset="0.1166" stop-color="#6abedd"/><stop offset="0.1334" stop-color="#66b8db"/><stop offset="0.1500" stop-color="#61b0d9"/><stop offset="0.1650" stop-color="#5fa9d7"/><stop offset="0.1666" stop-color="#5faad7"/><stop offset="0.1834" stop-color="#62b2da"/><stop offset="0.2000" stop-color="#67b9dc"/><stop offset="0.2166" stop-color="#6bc0dd"/><stop offset="0.2334" stop-color="#70c6df"/><stop offset="0.2500" stop-color="#76cde0"/><stop offset="0.2666" stop-color="#7bd3e1"/><stop offset="0.2834" stop-color="#81d9e3"/><stop offset="0.3000" stop-color="#86dfe4"/><stop offset="0.3166" stop-color="#8ae4e5"/><stop offset="0.3332" stop-color="#8ee8e6"/><stop offset="0.3334" stop-color="#8ee8e6"/><stop offset="0.3500" stop-color="#89e2e5"/><stop offset="0.3666" stop-color="#82dbe3"/><stop offset="0.3834" stop-color="#7bd3e1"/><stop offset="0.4000" stop-color="#74cbe0"/><stop offset="0.4166" stop-color="#6dc3de"/><stop offset="0.4334" stop-color="#68badc"/><stop offset="0.4500" stop-color="#62b1da"/><stop offset="0.4666" stop-color="#5ea7d6"/><stop offset="0.4834" stop-color="#5c9cd2"/><stop offset="0.4995" stop-color="#668ec4"/><stop offset="0.5000" stop-color="#668fc5"/><stop offset="0.5166" stop-color="#5b9dd3"/><stop offset="0.5334" stop-color="#5fa8d7"/><stop offset="0.5500" stop-color="#62b2da"/><stop offset="0.5666" stop-color="#68bbdc"/><stop offset="0.5834" stop-color="#6ec3de"/><stop offset="0.6000" stop-color="#75cce0"/><stop offset="0.6166" stop-color="#7cd4e1"/><stop offset="0.6334" stop-color="#83dbe3"/><stop offset="0.6500" stop-color="#89e2e5"/><stop offset="0.6666" stop-color="#8ee8e6"/><stop offset="0.6667" stop-color="#8ee8e6"/><stop offset="0.6834" stop-color="#84dde3"/><stop offset="0.7000" stop-color="#79d1e1"/><stop offset="0.7166" stop-color="#6fc5de"/><stop offset="0.7334" stop-color="#66b9db"/><stop offset="0.7500" stop-color="#60acd8"/><stop offset="0.7666" stop-color="#5b9ed3"/><stop offset="0.7834" stop-color="#688cc2"/><stop offset="0.8000" stop-color="#777ab3"/><stop offset="0.8166" stop-color="#8567a7"/><stop offset="0.8334" stop-color="#93539b"/><stop offset="0.8345" stop-color="#94529a"/><stop offset="0.8500" stop-color="#8764a6"/><stop offset="0.8666" stop-color="#7978b1"/><stop offset="0.8834" stop-color="#6a89bf"/><stop offset="0.9000" stop-color="#5c9bd1"/><stop offset="0.9166" stop-color="#5faad7"/><stop offset="0.9334" stop-color="#65b7db"/><stop offset="0.9500" stop-color="#6dc3de"/><stop offset="0.9666" stop-color="#78cfe0"/><stop offset="0.9834" stop-color="#82dbe3"/><stop offset="1.0000" stop-color="#8de7e6"/></linearGradient><linearGradient id="h26" x1="0" y1="0" x2="0" y2="1"><stop offset="0.0000" stop-color="#8ee8e6"/><stop offset="0.0166" stop-color="#8ae3e5"/><stop offset="0.0334" stop-color="#85dee4"/><stop offset="0.0500" stop-color="#80d8e2"/><stop offset="0.0666" stop-color="#7ad2e1"/><stop offset="0.0834" stop-color="#75cbe0"/><stop offset="0.1000" stop-color="#6fc5de"/><stop offset="0.1166" stop-color="#6abedd"/><stop offset="0.1334" stop-color="#66b8db"/><stop offset="0.1500" stop-color="#61b0d9"/><stop offset="0.1650" stop-color="#5fa9d7"/><stop offset="0.1666" stop-color="#5faad7"/><stop offset="0.1834" stop-color="#62b2da"/><stop offset="0.2000" stop-color="#67b9dc"/><stop offset="0.2166" stop-color="#6bc0dd"/><stop offset="0.2334" stop-color="#70c6df"/><stop offset="0.2500" stop-color="#76cde0"/><stop offset="0.2666" stop-color="#7bd3e1"/><stop offset="0.2834" stop-color="#81d9e3"/><stop offset="0.3000" stop-color="#86dfe4"/><stop offset="0.3166" stop-color="#8ae4e5"/><stop offset="0.3332" stop-color="#8ee8e6"/><stop offset="0.3334" stop-color="#8ee8e6"/><stop offset="0.3500" stop-color="#89e2e5"/><stop offset="0.3666" stop-color="#82dbe3"/><stop offset="0.3834" stop-color="#7bd3e1"/><stop offset="0.4000" stop-color="#74cbe0"/><stop offset="0.4166" stop-color="#6dc3de"/><stop offset="0.4334" stop-color="#68badc"/><stop offset="0.4500" stop-color="#62b1da"/><stop offset="0.4666" stop-color="#5ea7d6"/><stop offset="0.4834" stop-color="#5c9cd2"/><stop offset="0.4995" stop-color="#668ec4"/><stop offset="0.5000" stop-color="#668fc5"/><stop offset="0.5166" stop-color="#5b9dd3"/><stop offset="0.5334" stop-color="#5fa8d7"/><stop offset="0.5500" stop-color="#62b2da"/><stop offset="0.5666" stop-color="#68bbdc"/><stop offset="0.5834" stop-color="#6ec3de"/><stop offset="0.6000" stop-color="#75cce0"/><stop offset="0.6166" stop-color="#7cd4e1"/><stop offset="0.6334" stop-color="#83dbe3"/><stop offset="0.6500" stop-color="#89e2e5"/><stop offset="0.6666" stop-color="#8ee8e6"/><stop offset="0.6667" stop-color="#8ee8e6"/><stop offset="0.6834" stop-color="#84dde4"/><stop offset="0.7000" stop-color="#79d1e1"/><stop offset="0.7166" stop-color="#6fc5de"/><stop offset="0.7334" stop-color="#67b9dc"/><stop offset="0.7500" stop-color="#60add8"/><stop offset="0.7666" stop-color="#5c9fd4"/><stop offset="0.7834" stop-color="#678dc3"/><stop offset="0.8000" stop-color="#757cb5"/><stop offset="0.8166" stop-color="#8369a9"/><stop offset="0.8334" stop-color="#91579e"/><stop offset="0.8345" stop-color="#92559c"/><stop offset="0.8500" stop-color="#8567a7"/><stop offset="0.8666" stop-color="#777ab3"/><stop offset="0.8834" stop-color="#698bc1"/><stop offset="0.9000" stop-color="#5b9dd3"/><stop offset="0.9166" stop-color="#60abd8"/><stop offset="0.9334" stop-color="#66b8db"/><stop offset="0.9500" stop-color="#6ec4de"/><stop offset="0.9666" stop-color="#78cfe1"/><stop offset="0.9834" stop-color="#83dbe3"/><stop offset="1.0000" stop-color="#8de7e6"/></linearGradient><linearGradient id="h27" x1="0" y1="0" x2="0" y2="1"><stop offset="0.0000" stop-color="#8ee8e6"/><stop offset="0.0166" stop-color="#8ae3e5"/><stop offset="0.0334" stop-color="#85dee4"/><stop offset="0.0500" stop-color="#80d8e2"/><stop offset="0.0666" stop-color="#7ad2e1"/><stop offset="0.0834" stop-color="#75cbe0"/><stop offset="0.1000" stop-color="#6fc5de"/><stop offset="0.1166" stop-color="#6abedd"/><stop offset="0.1334" stop-color="#66b8db"/><stop offset="0.1500" stop-color="#61b0d9"/><stop offset="0.1650" stop-color="#5fa9d7"/><stop offset="0.1666" stop-color="#5faad7"/><stop offset="0.1834" stop-color="#62b2da"/><stop offset="0.2000" stop-color="#67b9dc"/><stop offset="0.2166" stop-color="#6bc0dd"/><stop offset="0.2334" stop-color="#70c6df"/><stop offset="0.2500" stop-color="#76cde0"/><stop offset="0.2666" stop-color="#7bd3e1"/><stop offset="0.2834" stop-color="#81d9e3"/><stop offset="0.3000" stop-color="#86dfe4"/><stop offset="0.3166" stop-color="#8ae4e5"/><stop offset="0.3332" stop-color="#8ee8e6"/><stop offset="0.3334" stop-color="#8ee8e6"/><stop offset="0.3500" stop-color="#89e2e5"/><stop offset="0.3666" stop-color="#82dbe3"/><stop offset="0.3834" stop-color="#7bd3e1"/><stop offset="0.4000" stop-color="#74cbe0"/><stop offset="0.4166" stop-color="#6dc3de"/><stop offset="0.4334" stop-color="#67badc"/><stop offset="0.4500" stop-color="#62b1da"/><stop offset="0.4666" stop-color="#5ea7d6"/><stop offset="0.4834" stop-color="#5c9cd2"/><stop offset="0.4995" stop-color="#668ec4"/><stop offset="0.5000" stop-color="#668ec4"/><stop offset="0.5166" stop-color="#5b9dd3"/><stop offset="0.5334" stop-color="#5ea7d6"/><stop offset="0.5500" stop-color="#62b2da"/><stop offset="0.5666" stop-color="#68bbdc"/><stop offset="0.5834" stop-color="#6ec3de"/><stop offset="0.6000" stop-color="#75cce0"/><stop offset="0.6166" stop-color="#7cd3e1"/><stop offset="0.6334" stop-color="#83dbe3"/><stop offset="0.6500" stop-color="#89e2e5"/><stop offset="0.6666" stop-color="#8ee8e6"/><stop offset="0.6667" stop-color="#8ee8e6"/><stop offset="0.6834" stop-color="#84dde4"/><stop offset="0.7000" stop-color="#7ad1e1"/><stop offset="0.7166" stop-color="#70c6de"/><stop offset="0.7334" stop-color="#67badc"/><stop offset="0.7500" stop-color="#61aed9"/><stop offset="0.7666" stop-color="#5ca0d4"/><stop offset="0.7834" stop-color="#658fc5"/><stop offset="0.8000" stop-color="#737eb6"/><stop offset="0.8166" stop-color="#816caa"/><stop offset="0.8334" stop-color="#8f5aa0"/><stop offset="0.8345" stop-color="#90589f"/><stop offset="0.8500" stop-color="#8369a9"/><stop offset="0.8666" stop-color="#757cb4"/><stop offset="0.8834" stop-color="#678dc3"/><stop offset="0.9000" stop-color="#5b9ed3"/><stop offset="0.9166" stop-color="#60acd8"/><stop offset="0.9334" stop-color="#66b8db"/><stop offset="0.9500" stop-color="#6ec4de"/><stop offset="0.9666" stop-color="#78d0e1"/><stop offset="0.9834" stop-color="#83dbe3"/><stop offset="1.0000" stop-color="#8de7e6"/></linearGradient><linearGradient id="h28" x1="0" y1="0" x2="0" y2="1"><stop offset="0.0000" stop-color="#8ee8e6"/><stop offset="0.0166" stop-color="#8ae3e5"/><stop offset="0.0334" stop-color="#85dee4"/><stop offset="0.0500" stop-color="#80d8e2"/><stop offset="0.0666" stop-color="#7ad2e1"/><stop offset="0.0834" stop-color="#75cbe0"/><stop offset="0.1000" stop-color="#6fc5de"/><stop offset="0.1166" stop-color="#6abedd"/><stop offset="0.1334" stop-color="#66b8db"/><stop offset="0.1500" stop-color="#61b0d9"/><stop offset="0.1650" stop-color="#5fa9d7"/><stop offset="0.1666" stop-color="#5faad7"/><stop offset="0.1834" stop-color="#62b2da"/><stop offset="0.2000" stop-color="#67b9dc"/><stop offset="0.2166" stop-color="#6bc0dd"/><stop offset="0.2334" stop-color="#70c6df"/><stop offset="0.2500" stop-color="#76cde0"/><stop offset="0.2666" stop-color="#7bd3e1"/><stop offset="0.2834" stop-color="#81d9e3"/><stop offset="0.3000" stop-color="#86dfe4"/><stop offset="0.3166" stop-color="#8ae4e5"/><stop offset="0.3332" stop-color="#8ee8e6"/><stop offset="0.3334" stop-color="#8ee8e6"/><stop offset="0.3500" stop-color="#89e2e5"/><stop offset="0.3666" stop-color="#82dbe3"/><stop offset="0.3834" stop-color="#7bd3e1"/><stop offset="0.4000" stop-color="#74cbe0"/><stop offset="0.4166" stop-color="#6dc3de"/><stop offset="0.4334" stop-color="#67badc"/><stop offset="0.4500" stop-color="#62b1da"/><stop offset="0.4666" stop-color="#5ea7d6"/><stop offset="0.4834" stop-color="#5c9cd2"/><stop offset="0.4995" stop-color="#678ec4"/><stop offset="0.5000" stop-color="#668ec4"/><stop offset="0.5166" stop-color="#5b9cd2"/><stop offset="0.5334" stop-color="#5ea7d6"/><stop offset="0.5500" stop-color="#62b2da"/><stop offset="0.5666" stop-color="#68bbdc"/><stop offset="0.5834" stop-color="#6ec3de"/><stop offset="0.6000" stop-color="#75cce0"/><stop offset="0.6166" stop-color="#7cd3e1"/><stop offset="0.6334" stop-color="#83dbe3"/><stop offset="0.6500" stop-color="#89e2e5"/><stop offset="0.6666" stop-color="#8ee8e6"/><stop offset="0.6667" stop-color="#8ee8e6"/><stop offset="0.6834" stop-color="#84dde4"/><stop offset="0.7000" stop-color="#7ad2e1"/><stop offset="0.7166" stop-color="#70c6df"/><stop offset="0.7334" stop-color="#68bbdc"/><stop offset="0.7500" stop-color="#61afd9"/><stop offset="0.7666" stop-color="#5ca1d4"/><stop offset="0.7834" stop-color="#6491c7"/><stop offset="0.8000" stop-color="#7280b8"/><stop offset="0.8166" stop-color="#7f6fac"/><stop offset="0.8334" stop-color="#8d5da2"/><stop offset="0.8345" stop-color="#8e5ca1"/><stop offset="0.8500" stop-color="#816caa"/><stop offset="0.8666" stop-color="#747eb6"/><stop offset="0.8834" stop-color="#668fc5"/><stop offset="0.9000" stop-color="#5ca0d4"/><stop offset="0.9166" stop-color="#60add8"/><stop offset="0.9334" stop-color="#67b9dc"/><stop offset="0.9500" stop-color="#6fc5de"/><stop offset="0.9666" stop-color="#79d0e1"/><stop offset="0.9834" stop-color="#83dbe3"/><stop offset="1.0000" stop-color="#8de7e6"/></linearGradient><linearGradient id="h29" x1="0" y1="0" x2="0" y2="1"><stop offset="0.0000" stop-color="#8ee8e6"/><stop offset="0.0166" stop-color="#8ae3e5"/><stop offset="0.0334" stop-color="#85dee4"/><stop offset="0.0500" stop-color="#80d8e2"/><stop offset="0.0666" stop-color="#7ad2e1"/><stop offset="0.0834" stop-color="#75cbe0"/><stop offset="0.1000" stop-color="#6fc5de"/><stop offset="0.1166" stop-color="#6abedd"/><stop offset="0.1334" stop-color="#66b8db"/><stop offset="0.1500" stop-color="#61b0d9"/><stop offset="0.1650" stop-color="#5fa9d7"/><stop offset="0.1666" stop-color="#5faad7"/><stop offset="0.1834" stop-color="#62b2da"/><stop offset="0.2000" stop-color="#67b9dc"/><stop offset="0.2166" stop-color="#6bc0dd"/><stop offset="0.2334" stop-color="#70c6df"/><stop offset="0.2500" stop-color="#76cde0"/><stop offset="0.2666" stop-color="#7bd3e1"/><stop offset="0.2834" stop-color="#81d9e3"/><stop offset="0.3000" stop-color="#86dfe4"/><stop offset="0.3166" stop-color="#8ae4e5"/><stop offset="0.3332" stop-color="#8ee8e6"/><stop offset="0.3334" stop-color="#8ee8e6"/><stop offset="0.3500" stop-color="#89e2e5"/><stop offset="0.3666" stop-color="#82dbe3"/><stop offset="0.3834" stop-color="#7bd3e1"/><stop offset="0.4000" stop-color="#74cbe0"/><stop offset="0.4166" stop-color="#6dc3de"/><stop offset="0.4334" stop-color="#67badc"/><stop offset="0.4500" stop-color="#62b1da"/><stop offset="0.4666" stop-color="#5ea6d6"/><stop offset="0.4834" stop-color="#5c9bd1"/><stop offset="0.4995" stop-color="#678dc3"/><stop offset="0.5000" stop-color="#668ec4"/><stop offset="0.5166" stop-color="#5c9cd2"/><stop offset="0.5334" stop-color="#5ea7d6"/><stop offset="0.5500" stop-color="#62b2da"/><stop offset="0.5666" stop-color="#68bbdc"/><stop offset="0.5834" stop-color="#6dc3de"/><stop offset="0.6000" stop-color="#75cbe0"/><stop offset="0.6166" stop-color="#7cd3e1"/><stop offset="0.6334" stop-color="#83dbe3"/><stop offset="0.6500" stop-color="#89e2e5"/><stop offset="0.6666" stop-color="#8ee8e6"/><stop offset="0.6667" stop-color="#8ee8e6"/><stop offset="0.6834" stop-color="#84dde4"/><stop offset="0.7000" stop-color="#7ad2e1"/><stop offset="0.7166" stop-color="#70c7df"/><stop offset="0.7334" stop-color="#68bbdc"/><stop offset="0.7500" stop-color="#61b0d9"/><stop offset="0.7666" stop-color="#5da3d5"/><stop offset="0.7834" stop-color="#6293c9"/><stop offset="0.8000" stop-color="#7082ba"/><stop offset="0.8166" stop-color="#7d71ad"/><stop offset="0.8334" stop-color="#8b5fa3"/><stop offset="0.8345" stop-color="#8c5ea2"/><stop offset="0.8500" stop-color="#7f6fac"/><stop offset="0.8666" stop-color="#7280b8"/><stop offset="0.8834" stop-color="#6491c7"/><stop offset="0.9000" stop-color="#5ca1d4"/><stop offset="0.9166" stop-color="#61aed9"/><stop offset="0.9334" stop-color="#67badc"/><stop offset="0.9500" stop-color="#6fc5de"/><stop offset="0.9666" stop-color="#79d0e1"/><stop offset="0.9834" stop-color="#83dce3"/><stop offset="1.0000" stop-color="#8de7e6"/></linearGradient><linearGradient id="cbe" x1="0" y1="0" x2="0" y2="1"><stop offset="0.0000" stop-color="#b0287e"/><stop offset="0.0256" stop-color="#ac2e82"/><stop offset="0.0513" stop-color="#a83486"/><stop offset="0.0769" stop-color="#a43b8a"/><stop offset="0.1026" stop-color="#9f418f"/><stop offset="0.1282" stop-color="#9b4793"/><stop offset="0.1538" stop-color="#964f98"/><stop offset="0.1795" stop-color="#92569d"/><stop offset="0.2051" stop-color="#8d5ca1"/><stop offset="0.2308" stop-color="#8962a4"/><stop offset="0.2564" stop-color="#8567a8"/><stop offset="0.2821" stop-color="#806dab"/><stop offset="0.3077" stop-color="#7c73af"/><stop offset="0.3333" stop-color="#7879b2"/><stop offset="0.3590" stop-color="#737fb7"/><stop offset="0.3846" stop-color="#6e84bb"/><stop offset="0.4103" stop-color="#6a89bf"/><stop offset="0.4359" stop-color="#668fc5"/><stop offset="0.4615" stop-color="#6195cb"/><stop offset="0.4872" stop-color="#5d9ad0"/><stop offset="0.5128" stop-color="#5c9fd4"/><stop offset="0.5385" stop-color="#5da3d5"/><stop offset="0.5641" stop-color="#5fa8d7"/><stop offset="0.5897" stop-color="#60acd8"/><stop offset="0.6154" stop-color="#61b0d9"/><stop offset="0.6410" stop-color="#64b4db"/><stop offset="0.6667" stop-color="#66b8db"/><stop offset="0.6923" stop-color="#68bcdc"/><stop offset="0.7179" stop-color="#6bbfdd"/><stop offset="0.7436" stop-color="#6dc3de"/><stop offset="0.7692" stop-color="#70c7df"/><stop offset="0.7949" stop-color="#74cadf"/><stop offset="0.8205" stop-color="#77cee0"/><stop offset="0.8462" stop-color="#7ad2e1"/><stop offset="0.8718" stop-color="#7dd5e2"/><stop offset="0.8974" stop-color="#81d9e3"/><stop offset="0.9231" stop-color="#84dde4"/><stop offset="0.9487" stop-color="#87e1e4"/><stop offset="0.9744" stop-color="#8be4e5"/><stop offset="1.0000" stop-color="#8ee8e6"/></linearGradient><pattern id="ph" patternUnits="userSpaceOnUse" width="8" height="4" y="2.1"><rect width="8" height="4" fill="#fff"/><rect y="0" width="8" height="1.2" fill="#7fe3df"/></pattern><pattern id="pd" patternUnits="userSpaceOnUse" width="3.96" height="3.96" patternTransform="rotate(-45)"><rect width="3.96" height="3.96" fill="#fff"/><rect x="0" width="1.25" height="3.96" fill="#a51f77"/></pattern></defs>
<path d="M30.5 242L31 241.98L31.5 241.96L32 241.94L32.5 241.92L33 241.89L33.5 241.87L34 241.84L34.5 241.81L35 241.78L35.5 241.75L36 241.71L36.5 241.67L37 241.63L37.5 241.58L38 241.53L38.5 241.47L39 241.41L39.5 241.35L40 241.28L40.5 241.2L41 241.12L41.5 241.03L42 240.94L42.5 240.84L43 240.74L43.5 240.64L44 240.53L44.5 240.42L45 240.31L45.5 240.2L46 240.09L46.5 239.97L47 239.83L47.5 239.67L48 239.49L48.5 239.27L49 239L49.5 238.68L50 238.31L50.5 237.86L51 237.33L51.5 236.72L52 236L52.5 235.18L53 234.28L53.5 233.31L54 232.31L54.5 231.3L55 230.3L55.5 229.33L56 228.38L56.5 227.43L57 226.47L57.5 225.5L58 224.5L58.5 223.49L59 222.48L59.5 221.5L60 220.56L60.5 219.65L61 218.76L61.5 217.88L62 217L62.5 216.1L63 215.19L63.5 214.24L64 213.26L64.5 212.24L65 211.17L65.5 210.04L66 208.86L66.5 207.63L67 206.34L67.5 205L68 203.6L68.5 202.16L69 200.69L69.5 199.2L70 197.7L70.5 196.2L71 194.7L71.5 193.18L72 191.65L72.5 190.09L73 188.5L73.5 186.87L74 185.24L74.5 183.63L75 182.08L75.5 180.62L76 179.28L76.5 178.09L77 177.01L77.5 176.03L78 175.13L78.5 174.3L79 173.5L79.5 172.73L80 172.01L80.5 171.35L81 170.78L81.5 170.32L82 170L82.5 169.82L83 169.82L83.5 169.99L84 170.3L84.5 170.74L85 171.26L85.5 171.86L86 172.5L86.5 173.16L87 173.84L87.5 174.54L88 175.25L88.5 175.98L89 176.73L89.5 177.49L90 178.27L90.5 179.05L91 179.84L91.5 180.62L92 181.38L92.5 182.12L93 182.83L93.5 183.5L94 184.12L94.5 184.7L95 185.24L95.5 185.75L96 186.24L96.5 186.71L97 187.16L97.5 187.61L98 188.06L98.5 188.5L99 188.93L99.5 189.35L100 189.75L100.5 190.12L101 190.47L101.5 190.78L102 191.04L102.5 191.26L103 191.43L103.5 191.55L104 191.63L104.5 191.68L105 191.69L105.5 191.68L106 191.65L106.5 191.6L107 191.55L107.5 191.5L108 191.45L108.5 191.41L109 191.37L109.5 191.34L110 191.31L110.5 191.29L111 191.28L111.5 191.27L112 191.27L112.5 191.27L113 191.28L113.5 191.3L114 191.32L114.5 191.36L115 191.39L115.5 191.44L116 191.49L116.5 191.55L117 191.61L117.5 191.68L118 191.75L118.5 191.83L119 191.91L119.5 192L120 192.09L120.5 192.19L121 192.29L121.5 192.39L122 192.5L122.5 192.61L123 192.72L123.5 192.83L124 192.95L124.5 193.06L125 193.18L125.5 193.3L126 193.42L126.5 193.54L127 193.65L127.5 193.77L128 193.89L128.5 194.01L129 194.13L129.5 194.24L130 194.36L130.5 194.47L131 194.59L131.5 194.7L132 194.81L132.5 194.92L133 195.03L133.5 195.14L134 195.25L134.5 195.36L135 195.46L135.5 195.57L136 195.68L136.5 195.78L137 195.89L137.5 195.99L138 196.1" fill="none" stroke="#35cfc1" stroke-width="1.2"/>
<path d="M30.5 217.81L31 217.79L31.5 217.77L32 217.75L32.5 217.73L33 217.71L33.5 217.69L34 217.66L34.5 217.63L35 217.6L35.5 217.57L36 217.53L36.5 217.49L37 217.45L37.5 217.4L38 217.35L38.5 217.29L39 217.23L39.5 217.16L40 217.09L40.5 217.01L41 216.93L41.5 216.84L42 216.74L42.5 216.65L43 216.54L43.5 216.44L44 216.33L44.5 216.23L45 216.12L45.5 216.01L46 215.91L46.5 215.79L47 215.67L47.5 215.52L48 215.34L48.5 215.13L49 214.88L49.5 214.57L50 214.21L50.5 213.77L51 213.26L51.5 212.67L52 211.98L52.5 211.2L53 210.34L53.5 209.42L54 208.46L54.5 207.48L55 206.49L55.5 205.5L56 204.51L56.5 203.51L57 202.5L57.5 201.48L58 200.43L58.5 199.39L59 198.36L59.5 197.37L60 196.44L60.5 195.56L61 194.71L61.5 193.88L62 193.06L62.5 192.24L63 191.39L63.5 190.51L64 189.59L64.5 188.62L65 187.6L65.5 186.5L66 185.35L66.5 184.13L67 182.86L67.5 181.52L68 180.14L68.5 178.71L69 177.23L69.5 175.7L70 174.13L70.5 172.51L71 170.86L71.5 169.21L72 167.58L72.5 165.97L73 164.37L73.5 162.75L74 161.15L74.5 159.57L75 158.05L75.5 156.63L76 155.32L76.5 154.15L77 153.1L77.5 152.15L78 151.27L78.5 150.45L79 149.67L79.5 148.92L80 148.2L80.5 147.55L81 146.98L81.5 146.52L82 146.19L82.5 146.01L83 146L83.5 146.15L84 146.45L84.5 146.86L85 147.38L85.5 147.96L86 148.6L86.5 149.26L87 149.95L87.5 150.66L88 151.39L88.5 152.14L89 152.89L89.5 153.66L90 154.44L90.5 155.21L91 155.99L91.5 156.75L92 157.49L92.5 158.21L93 158.89L93.5 159.53L94 160.13L94.5 160.69L95 161.2L95.5 161.69L96 162.15L96.5 162.6L97 163.03L97.5 163.45L98 163.86L98.5 164.28L99 164.68L99.5 165.07L100 165.45L100.5 165.8L101 166.12L101.5 166.41L102 166.67L102.5 166.89L103 167.06L103.5 167.19L104 167.28L104.5 167.34L105 167.37L105.5 167.37L106 167.36L106.5 167.34L107 167.31L107.5 167.28L108 167.25L108.5 167.22L109 167.2L109.5 167.18L110 167.16L110.5 167.15L111 167.14L111.5 167.14L112 167.14L112.5 167.15L113 167.16L113.5 167.18L114 167.2L114.5 167.23L115 167.27L115.5 167.31L116 167.36L116.5 167.42L117 167.48L117.5 167.54L118 167.61L118.5 167.69L119 167.77L119.5 167.86L120 167.95L120.5 168.04L121 168.14L121.5 168.25L122 168.35L122.5 168.47L123 168.58L123.5 168.69L124 168.81L124.5 168.93L125 169.05L125.5 169.17L126 169.29L126.5 169.41L127 169.53L127.5 169.65L128 169.76L128.5 169.88L129 170L129.5 170.11L130 170.23L130.5 170.34L131 170.46L131.5 170.57L132 170.68L132.5 170.78L133 170.89L133.5 171L134 171.1L134.5 171.21L135 171.31L135.5 171.42L136 171.52L136.5 171.62L137 171.72L137.5 171.82L138 171.93" fill="none" stroke="#2bb8c1" stroke-width="1.2"/>
<path d="M30.5 193.62L31 193.61L31.5 193.59L32 193.57L32.5 193.55L33 193.53L33.5 193.5L34 193.48L34.5 193.45L35 193.42L35.5 193.39L36 193.35L36.5 193.31L37 193.27L37.5 193.22L38 193.17L38.5 193.11L39 193.05L39.5 192.98L40 192.91L40.5 192.82L41 192.74L41.5 192.65L42 192.55L42.5 192.45L43 192.35L43.5 192.24L44 192.14L44.5 192.03L45 191.93L45.5 191.82L46 191.72L46.5 191.62L47 191.5L47.5 191.36L48 191.2L48.5 191L49 190.76L49.5 190.46L50 190.11L50.5 189.69L51 189.19L51.5 188.62L52 187.96L52.5 187.21L53 186.39L53.5 185.52L54 184.6L54.5 183.65L55 182.67L55.5 181.67L56 180.64L56.5 179.6L57 178.54L57.5 177.46L58 176.37L58.5 175.28L59 174.23L59.5 173.24L60 172.32L60.5 171.46L61 170.65L61.5 169.88L62 169.13L62.5 168.37L63 167.59L63.5 166.78L64 165.93L64.5 165.01L65 164.03L65.5 162.97L66 161.84L66.5 160.64L67 159.37L67.5 158.05L68 156.68L68.5 155.25L69 153.77L69.5 152.2L70 150.55L70.5 148.81L71 147.02L71.5 145.24L72 143.5L72.5 141.84L73 140.23L73.5 138.64L74 137.06L74.5 135.51L75 134.03L75.5 132.63L76 131.36L76.5 130.22L77 129.19L77.5 128.26L78 127.41L78.5 126.6L79 125.84L79.5 125.1L80 124.39L80.5 123.75L81 123.19L81.5 122.73L82 122.39L82.5 122.2L83 122.17L83.5 122.31L84 122.59L84.5 122.99L85 123.49L85.5 124.06L86 124.7L86.5 125.36L87 126.06L87.5 126.79L88 127.53L88.5 128.29L89 129.06L89.5 129.83L90 130.6L90.5 131.37L91 132.13L91.5 132.88L92 133.6L92.5 134.29L93 134.95L93.5 135.57L94 136.14L94.5 136.67L95 137.17L95.5 137.63L96 138.07L96.5 138.49L97 138.89L97.5 139.28L98 139.67L98.5 140.05L99 140.43L99.5 140.79L100 141.14L100.5 141.47L101 141.78L101.5 142.05L102 142.3L102.5 142.51L103 142.68L103.5 142.82L104 142.92L104.5 143L105 143.04L105.5 143.07L106 143.08L106.5 143.08L107 143.07L107.5 143.06L108 143.04L108.5 143.03L109 143.02L109.5 143.01L110 143L110.5 143L111 143L111.5 143L112 143.01L112.5 143.02L113 143.03L113.5 143.05L114 143.08L114.5 143.11L115 143.14L115.5 143.19L116 143.23L116.5 143.28L117 143.34L117.5 143.4L118 143.47L118.5 143.55L119 143.63L119.5 143.71L120 143.8L120.5 143.9L121 144L121.5 144.1L122 144.21L122.5 144.32L123 144.44L123.5 144.55L124 144.67L124.5 144.79L125 144.91L125.5 145.04L126 145.16L126.5 145.28L127 145.4L127.5 145.52L128 145.64L128.5 145.76L129 145.87L129.5 145.99L130 146.1L130.5 146.21L131 146.32L131.5 146.43L132 146.54L132.5 146.65L133 146.75L133.5 146.86L134 146.96L134.5 147.06L135 147.16L135.5 147.26L136 147.36L136.5 147.46L137 147.56L137.5 147.66L138 147.76" fill="none" stroke="#26a6c3" stroke-width="1.2"/>
<path d="M30.5 169.44L31 169.42L31.5 169.4L32 169.38L32.5 169.36L33 169.34L33.5 169.32L34 169.3L34.5 169.27L35 169.24L35.5 169.21L36 169.17L36.5 169.13L37 169.09L37.5 169.04L38 168.99L38.5 168.93L39 168.86L39.5 168.79L40 168.72L40.5 168.64L41 168.55L41.5 168.45L42 168.36L42.5 168.25L43 168.15L43.5 168.04L44 167.94L44.5 167.84L45 167.74L45.5 167.64L46 167.54L46.5 167.45L47 167.34L47.5 167.21L48 167.06L48.5 166.87L49 166.64L49.5 166.36L50 166.01L50.5 165.6L51 165.12L51.5 164.57L52 163.94L52.5 163.23L53 162.45L53.5 161.63L54 160.75L54.5 159.83L55 158.85L55.5 157.83L56 156.77L56.5 155.68L57 154.57L57.5 153.43L58 152.3L58.5 151.18L59 150.11L59.5 149.11L60 148.2L60.5 147.37L61 146.6L61.5 145.88L62 145.19L62.5 144.5L63 143.8L63.5 143.05L64 142.26L64.5 141.4L65 140.46L65.5 139.43L66 138.32L66.5 137.14L67 135.89L67.5 134.57L68 133.21L68.5 131.8L69 130.3L69.5 128.71L70 126.98L70.5 125.12L71 123.19L71.5 121.26L72 119.43L72.5 117.72L73 116.1L73.5 114.52L74 112.97L74.5 111.46L75 110L75.5 108.64L76 107.4L76.5 106.29L77 105.29L77.5 104.38L78 103.54L78.5 102.76L79 102.01L79.5 101.28L80 100.59L80.5 99.95L81 99.39L81.5 98.93L82 98.59L82.5 98.39L83 98.35L83.5 98.47L84 98.73L84.5 99.12L85 99.6L85.5 100.17L86 100.79L86.5 101.47L87 102.17L87.5 102.91L88 103.67L88.5 104.44L89 105.22L89.5 106L90 106.77L90.5 107.54L91 108.28L91.5 109.01L92 109.71L92.5 110.37L93 111.01L93.5 111.6L94 112.15L94.5 112.66L95 113.13L95.5 113.57L96 113.98L96.5 114.38L97 114.75L97.5 115.12L98 115.48L98.5 115.83L99 116.18L99.5 116.51L100 116.84L100.5 117.14L101 117.43L101.5 117.69L102 117.93L102.5 118.14L103 118.31L103.5 118.45L104 118.57L104.5 118.66L105 118.72L105.5 118.77L106 118.8L106.5 118.82L107 118.83L107.5 118.84L108 118.84L108.5 118.84L109 118.84L109.5 118.85L110 118.85L110.5 118.85L111 118.86L111.5 118.87L112 118.88L112.5 118.89L113 118.91L113.5 118.93L114 118.96L114.5 118.99L115 119.02L115.5 119.06L116 119.1L116.5 119.15L117 119.21L117.5 119.27L118 119.33L118.5 119.41L119 119.48L119.5 119.57L120 119.66L120.5 119.75L121 119.85L121.5 119.96L122 120.07L122.5 120.18L123 120.3L123.5 120.41L124 120.54L124.5 120.66L125 120.78L125.5 120.9L126 121.03L126.5 121.15L127 121.27L127.5 121.39L128 121.51L128.5 121.63L129 121.75L129.5 121.86L130 121.97L130.5 122.08L131 122.19L131.5 122.3L132 122.4L132.5 122.51L133 122.61L133.5 122.71L134 122.81L134.5 122.91L135 123.01L135.5 123.11L136 123.2L136.5 123.3L137 123.4L137.5 123.49L138 123.59" fill="none" stroke="#2393c3" stroke-width="1.2"/>
<path d="M30.5 145.25L31 145.23L31.5 145.22L32 145.2L32.5 145.18L33 145.16L33.5 145.14L34 145.12L34.5 145.09L35 145.06L35.5 145.03L36 144.99L36.5 144.95L37 144.91L37.5 144.86L38 144.81L38.5 144.75L39 144.68L39.5 144.61L40 144.53L40.5 144.45L41 144.36L41.5 144.26L42 144.16L42.5 144.06L43 143.95L43.5 143.85L44 143.74L44.5 143.64L45 143.54L45.5 143.45L46 143.36L46.5 143.27L47 143.17L47.5 143.06L48 142.91L48.5 142.74L49 142.52L49.5 142.25L50 141.92L50.5 141.52L51 141.06L51.5 140.52L52 139.92L52.5 139.24L53 138.51L53.5 137.73L54 136.9L54.5 136L55 135.04L55.5 134L56 132.9L56.5 131.76L57 130.6L57.5 129.41L58 128.23L58.5 127.08L59 125.99L59.5 124.98L60 124.08L60.5 123.27L61 122.55L61.5 121.88L62 121.26L62.5 120.64L63 120L63.5 119.33L64 118.59L64.5 117.79L65 116.89L65.5 115.9L66 114.81L66.5 113.64L67 112.4L67.5 111.1L68 109.75L68.5 108.34L69 106.84L69.5 105.21L70 103.41L70.5 101.42L71 99.35L71.5 97.29L72 95.36L72.5 93.6L73 91.96L73.5 90.4L74 88.88L74.5 87.4L75 85.98L75.5 84.65L76 83.44L76.5 82.35L77 81.38L77.5 80.49L78 79.68L78.5 78.91L79 78.18L79.5 77.46L80 76.78L80.5 76.15L81 75.59L81.5 75.13L82 74.78L82.5 74.58L83 74.53L83.5 74.63L84 74.88L84.5 75.24L85 75.71L85.5 76.27L86 76.89L86.5 77.57L87 78.28L87.5 79.03L88 79.8L88.5 80.59L89 81.38L89.5 82.17L90 82.94L90.5 83.7L91 84.43L91.5 85.14L92 85.81L92.5 86.46L93 87.07L93.5 87.63L94 88.16L94.5 88.64L95 89.09L95.5 89.51L96 89.9L96.5 90.26L97 90.62L97.5 90.95L98 91.28L98.5 91.61L99 91.93L99.5 92.24L100 92.53L100.5 92.82L101 93.08L101.5 93.33L102 93.56L102.5 93.76L103 93.94L103.5 94.09L104 94.21L104.5 94.32L105 94.4L105.5 94.47L106 94.52L106.5 94.56L107 94.59L107.5 94.62L108 94.64L108.5 94.65L109 94.67L109.5 94.68L110 94.7L110.5 94.71L111 94.72L111.5 94.73L112 94.75L112.5 94.77L113 94.79L113.5 94.81L114 94.83L114.5 94.86L115 94.9L115.5 94.93L116 94.97L116.5 95.02L117 95.07L117.5 95.13L118 95.19L118.5 95.26L119 95.34L119.5 95.42L120 95.51L120.5 95.61L121 95.71L121.5 95.81L122 95.92L122.5 96.04L123 96.15L123.5 96.28L124 96.4L124.5 96.52L125 96.65L125.5 96.77L126 96.9L126.5 97.02L127 97.15L127.5 97.27L128 97.39L128.5 97.5L129 97.62L129.5 97.73L130 97.84L130.5 97.95L131 98.06L131.5 98.16L132 98.27L132.5 98.37L133 98.47L133.5 98.57L134 98.67L134.5 98.76L135 98.86L135.5 98.95L136 99.05L136.5 99.14L137 99.23L137.5 99.32L138 99.42" fill="none" stroke="#2380bf" stroke-width="1.2"/>
<path d="M30.5 121.06L31 121.05L31.5 121.03L32 121.01L32.5 121L33 120.98L33.5 120.96L34 120.93L34.5 120.91L35 120.88L35.5 120.85L36 120.81L36.5 120.77L37 120.73L37.5 120.68L38 120.62L38.5 120.56L39 120.5L39.5 120.43L40 120.35L40.5 120.26L41 120.17L41.5 120.07L42 119.97L42.5 119.86L43 119.76L43.5 119.65L44 119.55L44.5 119.45L45 119.35L45.5 119.26L46 119.18L46.5 119.1L47 119.01L47.5 118.9L48 118.77L48.5 118.6L49 118.39L49.5 118.14L50 117.82L50.5 117.44L51 116.99L51.5 116.47L52 115.9L52.5 115.26L53 114.57L53.5 113.84L54 113.04L54.5 112.18L55 111.22L55.5 110.17L56 109.04L56.5 107.85L57 106.63L57.5 105.39L58 104.17L58.5 102.98L59 101.87L59.5 100.85L60 99.96L60.5 99.18L61 98.49L61.5 97.88L62 97.32L62.5 96.77L63 96.21L63.5 95.6L64 94.93L64.5 94.17L65 93.32L65.5 92.36L66 91.3L66.5 90.14L67 88.91L67.5 87.62L68 86.28L68.5 84.88L69 83.38L69.5 81.71L70 79.83L70.5 77.73L71 75.51L71.5 73.31L72 71.28L72.5 69.47L73 67.83L73.5 66.28L74 64.8L74.5 63.35L75 61.96L75.5 60.66L76 59.48L76.5 58.42L77 57.47L77.5 56.61L78 55.81L78.5 55.07L79 54.35L79.5 53.64L80 52.97L80.5 52.34L81 51.79L81.5 51.33L82 50.98L82.5 50.76L83 50.7L83.5 50.79L84 51.02L84.5 51.37L85 51.83L85.5 52.37L86 52.99L86.5 53.67L87 54.39L87.5 55.16L88 55.94L88.5 56.74L89 57.54L89.5 58.34L90 59.11L90.5 59.86L91 60.58L91.5 61.27L92 61.92L92.5 62.54L93 63.13L93.5 63.67L94 64.17L94.5 64.63L95 65.05L95.5 65.45L96 65.81L96.5 66.15L97 66.48L97.5 66.79L98 67.09L98.5 67.39L99 67.67L99.5 67.96L100 68.23L100.5 68.49L101 68.74L101.5 68.97L102 69.19L102.5 69.39L103 69.56L103.5 69.72L104 69.86L104.5 69.98L105 70.08L105.5 70.17L106 70.24L106.5 70.3L107 70.35L107.5 70.39L108 70.43L108.5 70.46L109 70.49L109.5 70.52L110 70.54L110.5 70.56L111 70.58L111.5 70.6L112 70.62L112.5 70.64L113 70.66L113.5 70.68L114 70.71L114.5 70.74L115 70.77L115.5 70.81L116 70.85L116.5 70.89L117 70.94L117.5 70.99L118 71.06L118.5 71.12L119 71.2L119.5 71.28L120 71.36L120.5 71.46L121 71.56L121.5 71.67L122 71.78L122.5 71.89L123 72.01L123.5 72.14L124 72.26L124.5 72.39L125 72.51L125.5 72.64L126 72.77L126.5 72.89L127 73.02L127.5 73.14L128 73.26L128.5 73.38L129 73.49L129.5 73.6L130 73.71L130.5 73.82L131 73.93L131.5 74.03L132 74.13L132.5 74.23L133 74.33L133.5 74.43L134 74.52L134.5 74.61L135 74.71L135.5 74.8L136 74.89L136.5 74.98L137 75.07L137.5 75.16L138 75.25" fill="none" stroke="#2a67b2" stroke-width="1.2"/>
<path d="M30.5 96.88L31 96.86L31.5 96.85L32 96.83L32.5 96.81L33 96.79L33.5 96.77L34 96.75L34.5 96.73L35 96.7L35.5 96.67L36 96.63L36.5 96.59L37 96.55L37.5 96.5L38 96.44L38.5 96.38L39 96.32L39.5 96.24L40 96.16L40.5 96.08L41 95.98L41.5 95.88L42 95.77L42.5 95.67L43 95.56L43.5 95.45L44 95.35L44.5 95.25L45 95.16L45.5 95.08L46 95L46.5 94.92L47 94.84L47.5 94.75L48 94.62L48.5 94.47L49 94.27L49.5 94.03L50 93.72L50.5 93.35L51 92.92L51.5 92.43L52 91.88L52.5 91.28L53 90.63L53.5 89.94L54 89.19L54.5 88.35L55 87.4L55.5 86.33L56 85.17L56.5 83.93L57 82.66L57.5 81.37L58 80.1L58.5 78.88L59 77.74L59.5 76.72L60 75.84L60.5 75.09L61 74.44L61.5 73.88L62 73.38L62.5 72.91L63 72.41L63.5 71.87L64 71.26L64.5 70.56L65 69.76L65.5 68.83L66 67.78L66.5 66.65L67 65.43L67.5 64.15L68 62.82L68.5 61.43L69 59.91L69.5 58.21L70 56.26L70.5 54.04L71 51.67L71.5 49.34L72 47.21L72.5 45.35L73 43.69L73.5 42.17L74 40.71L74.5 39.29L75 37.93L75.5 36.67L76 35.52L76.5 34.49L77 33.56L77.5 32.72L78 31.95L78.5 31.22L79 30.52L79.5 29.83L80 29.16L80.5 28.54L81 27.99L81.5 27.53L82 27.18L82.5 26.95L83 26.88L83.5 26.95L84 27.16L84.5 27.5L85 27.94L85.5 28.47L86 29.09L86.5 29.77L87 30.51L87.5 31.28L88 32.08L88.5 32.89L89 33.71L89.5 34.5L90 35.28L90.5 36.02L91 36.72L91.5 37.39L92 38.03L92.5 38.63L93 39.18L93.5 39.7L94 40.18L94.5 40.61L95 41.02L95.5 41.38L96 41.73L96.5 42.04L97 42.34L97.5 42.63L98 42.9L98.5 43.16L99 43.42L99.5 43.68L100 43.93L100.5 44.16L101 44.39L101.5 44.61L102 44.82L102.5 45.01L103 45.19L103.5 45.35L104 45.5L104.5 45.64L105 45.76L105.5 45.87L106 45.96L106.5 46.04L107 46.11L107.5 46.17L108 46.23L108.5 46.28L109 46.32L109.5 46.35L110 46.39L110.5 46.42L111 46.44L111.5 46.47L112 46.49L112.5 46.51L113 46.54L113.5 46.56L114 46.59L114.5 46.62L115 46.65L115.5 46.68L116 46.72L116.5 46.76L117 46.81L117.5 46.86L118 46.92L118.5 46.98L119 47.05L119.5 47.13L120 47.22L120.5 47.31L121 47.41L121.5 47.52L122 47.63L122.5 47.75L123 47.87L123.5 48L124 48.12L124.5 48.25L125 48.38L125.5 48.51L126 48.64L126.5 48.76L127 48.89L127.5 49.01L128 49.13L128.5 49.25L129 49.37L129.5 49.48L130 49.59L130.5 49.69L131 49.8L131.5 49.9L132 50L132.5 50.09L133 50.19L133.5 50.28L134 50.38L134.5 50.47L135 50.56L135.5 50.64L136 50.73L136.5 50.82L137 50.9L137.5 50.99L138 51.08" fill="none" stroke="#393f97" stroke-width="1.2"/>
<path d="M30.5 72.69L31 72.67L31.5 72.66L32 72.65L32.5 72.63L33 72.61L33.5 72.59L34 72.57L34.5 72.55L35 72.52L35.5 72.49L36 72.45L36.5 72.41L37 72.37L37.5 72.32L38 72.26L38.5 72.2L39 72.13L39.5 72.06L40 71.98L40.5 71.89L41 71.79L41.5 71.69L42 71.58L42.5 71.47L43 71.36L43.5 71.26L44 71.15L44.5 71.06L45 70.97L45.5 70.89L46 70.82L46.5 70.75L47 70.68L47.5 70.59L48 70.48L48.5 70.34L49 70.15L49.5 69.92L50 69.62L50.5 69.27L51 68.85L51.5 68.38L52 67.86L52.5 67.29L53 66.69L53.5 66.04L54 65.34L54.5 64.53L55 63.59L55.5 62.5L56 61.3L56.5 60.02L57 58.69L57.5 57.35L58 56.03L58.5 54.78L59 53.62L59.5 52.59L60 51.72L60.5 50.99L61 50.39L61.5 49.89L62 49.45L62.5 49.04L63 48.61L63.5 48.14L64 47.59L64.5 46.95L65 46.19L65.5 45.29L66 44.27L66.5 43.15L67 41.94L67.5 40.67L68 39.36L68.5 37.97L69 36.45L69.5 34.71L70 32.69L70.5 30.34L71 27.83L71.5 25.37L72 23.14L72.5 21.22L73 19.56L73.5 18.05L74 16.62L74.5 15.23L75 13.91L75.5 12.68L76 11.55L76.5 10.55L77 9.66L77.5 8.84L78 8.09L78.5 7.38L79 6.69L79.5 6.01L80 5.35L80.5 4.74L81 4.19L81.5 3.73L82 3.37L82.5 3.14L83 3.05L83.5 3.11L84 3.31L84.5 3.62L85 4.05L85.5 4.58L86 5.19L86.5 5.87L87 6.62L87.5 7.4L88 8.22L88.5 9.04L89 9.87L89.5 10.67L90 11.45L90.5 12.18L91 12.87L91.5 13.52L92 14.14L92.5 14.71L93 15.24L93.5 15.73L94 16.19L94.5 16.6L95 16.98L95.5 17.32L96 17.64L96.5 17.93L97 18.21L97.5 18.46L98 18.71L98.5 18.94L99 19.17L99.5 19.4L100 19.62L100.5 19.84L101 20.05L101.5 20.25L102 20.45L102.5 20.64L103 20.82L103.5 20.99L104 21.15L104.5 21.3L105 21.44L105.5 21.56L106 21.68L106.5 21.78L107 21.87L107.5 21.95L108 22.02L108.5 22.09L109 22.14L109.5 22.19L110 22.23L110.5 22.27L111 22.3L111.5 22.33L112 22.36L112.5 22.39L113 22.41L113.5 22.44L114 22.46L114.5 22.49L115 22.52L115.5 22.55L116 22.59L116.5 22.63L117 22.67L117.5 22.72L118 22.78L118.5 22.84L119 22.91L119.5 22.99L120 23.07L120.5 23.17L121 23.27L121.5 23.38L122 23.49L122.5 23.61L123 23.73L123.5 23.86L124 23.98L124.5 24.11L125 24.25L125.5 24.38L126 24.51L126.5 24.64L127 24.76L127.5 24.89L128 25.01L128.5 25.13L129 25.24L129.5 25.35L130 25.46L130.5 25.56L131 25.66L131.5 25.76L132 25.86L132.5 25.96L133 26.05L133.5 26.14L134 26.23L134.5 26.32L135 26.4L135.5 26.49L136 26.57L136.5 26.66L137 26.74L137.5 26.82L138 26.91" fill="none" stroke="#47238a" stroke-width="1.2"/>
<line x1="59.35" y1="27" x2="59.35" y2="242.0" stroke="#c0408f" stroke-width="1.1" stroke-dasharray="4.8 4.2"/>
<path d="M30.5 0.5H148.9M30.5 0.5V242H138.4V221.6" fill="none" stroke="#555" stroke-width="1"/>
<line x1="30.5" y1="242" x2="33.5" y2="242" stroke="#555" stroke-width="0.8"/>
<text x="28.2" y="245.3" font-size="9" text-anchor="end" font-weight="normal" fill="#1e1e1e" >0</text>
<line x1="30.5" y1="215.12" x2="32.5" y2="215.12" stroke="#555" stroke-width="0.8"/>
<line x1="30.5" y1="188.25" x2="33.5" y2="188.25" stroke="#555" stroke-width="0.8"/>
<text x="28.2" y="191.55" font-size="9" text-anchor="end" font-weight="normal" fill="#1e1e1e" >1</text>
<line x1="30.5" y1="161.38" x2="32.5" y2="161.38" stroke="#555" stroke-width="0.8"/>
<line x1="30.5" y1="134.5" x2="33.5" y2="134.5" stroke="#555" stroke-width="0.8"/>
<text x="28.2" y="137.8" font-size="9" text-anchor="end" font-weight="normal" fill="#1e1e1e" >2</text>
<line x1="30.5" y1="107.62" x2="32.5" y2="107.62" stroke="#555" stroke-width="0.8"/>
<line x1="30.5" y1="80.75" x2="33.5" y2="80.75" stroke="#555" stroke-width="0.8"/>
<text x="28.2" y="84.05" font-size="9" text-anchor="end" font-weight="normal" fill="#1e1e1e" >3</text>
<line x1="30.5" y1="53.88" x2="32.5" y2="53.88" stroke="#555" stroke-width="0.8"/>
<line x1="30.5" y1="27" x2="33.5" y2="27" stroke="#555" stroke-width="0.8"/>
<text x="28.2" y="30.3" font-size="9" text-anchor="end" font-weight="normal" fill="#1e1e1e" >4</text>
<line x1="40.6" y1="242.0" x2="40.6" y2="239" stroke="#555" stroke-width="0.8"/>
<text x="40.6" y="252.3" font-size="9" text-anchor="middle" font-weight="normal" fill="#1e1e1e" >8975</text>
<line x1="64.95" y1="242.0" x2="64.95" y2="240" stroke="#555" stroke-width="0.8"/>
<line x1="89.3" y1="242.0" x2="89.3" y2="239" stroke="#555" stroke-width="0.8"/>
<text x="89.3" y="252.3" font-size="9" text-anchor="middle" font-weight="normal" fill="#1e1e1e" >9000</text>
<line x1="113.65" y1="242.0" x2="113.65" y2="240" stroke="#555" stroke-width="0.8"/>
<line x1="138" y1="242.0" x2="138" y2="239" stroke="#555" stroke-width="0.8"/>
<text x="138" y="252.3" font-size="9" text-anchor="middle" font-weight="normal" fill="#1e1e1e" >9025</text>
<text x="88.9" y="264.5" font-size="10.3" text-anchor="middle" font-weight="normal" fill="#1e1e1e" >Energy (eV)</text>
<text transform="translate(17.8 123.6) rotate(-90)" font-size="10.6" text-anchor="middle" fill="#231f20">Normalized <tspan font-style="italic">μ</tspan>(E)</text>
<rect x="138.4" y="193.9" width="10.5" height="28" fill="#35cfc1"/>
<text x="150.7" y="210.85" font-size="8.8" text-anchor="start" font-weight="bold" fill="#000" >RT</text>
<rect x="138.4" y="166.2" width="10.5" height="28" fill="#2bb8c1"/>
<text x="150.7" y="183.15" font-size="8.8" text-anchor="start" font-weight="bold" fill="#000" >100</text>
<rect x="138.4" y="138.5" width="10.5" height="28" fill="#26a6c3"/>
<text x="150.7" y="155.45" font-size="8.8" text-anchor="start" font-weight="bold" fill="#000" >150</text>
<rect x="138.4" y="110.8" width="10.5" height="28" fill="#2393c3"/>
<text x="150.7" y="127.75" font-size="8.8" text-anchor="start" font-weight="bold" fill="#000" >200</text>
<rect x="138.4" y="83.1" width="10.5" height="28" fill="#2380bf"/>
<text x="150.7" y="100.05" font-size="8.8" text-anchor="start" font-weight="bold" fill="#000" >250</text>
<rect x="138.4" y="55.4" width="10.5" height="28" fill="#2a67b2"/>
<text x="150.7" y="72.35" font-size="8.8" text-anchor="start" font-weight="bold" fill="#000" >300</text>
<rect x="138.4" y="27.7" width="10.5" height="28" fill="#393f97"/>
<text x="150.7" y="44.65" font-size="8.8" text-anchor="start" font-weight="bold" fill="#000" >350</text>
<rect x="138.4" y="0" width="10.5" height="28" fill="#47238a"/>
<text x="150.7" y="16.95" font-size="8.8" text-anchor="start" font-weight="bold" fill="#000" >400</text>
<rect x="138.4" y="0.5" width="10.5" height="221.1" fill="none" stroke="#555" stroke-width="1"/>
<text x="139.2" y="230.5" font-size="9.0" text-anchor="start" font-weight="normal" fill="#1e1e1e" >T / °C</text>
<text x="32.5" y="10" font-size="9" text-anchor="start" font-weight="bold" fill="#000" >Cu K-edge</text>
<text x="135.9" y="10" font-size="9" text-anchor="end" font-weight="bold" fill="#000" >NH<tspan font-size="6" dy="2">3</tspan><tspan dy="-2"> + O</tspan><tspan font-size="6" dy="2">2</tspan></text>
<text x="132.5" y="235.3" font-size="10" text-anchor="end" font-weight="bold" fill="#000" >Co<tspan font-size="5.6" dy="2.2">B</tspan><tspan dy="-2.2">Cu</tspan></text>
<path d="M199 242L199.5 241.99L200 241.97L200.5 241.96L201 241.95L201.5 241.93L202 241.92L202.5 241.9L203 241.88L203.5 241.86L204 241.84L204.5 241.82L205 241.8L205.5 241.77L206 241.74L206.5 241.71L207 241.67L207.5 241.63L208 241.59L208.5 241.55L209 241.5L209.5 241.45L210 241.39L210.5 241.33L211 241.27L211.5 241.21L212 241.14L212.5 241.07L213 241L213.5 240.93L214 240.84L214.5 240.75L215 240.64L215.5 240.51L216 240.36L216.5 240.17L217 239.95L217.5 239.69L218 239.4L218.5 239.08L219 238.74L219.5 238.38L220 238L220.5 237.61L221 237.19L221.5 236.73L222 236.19L222.5 235.57L223 234.84L223.5 234L224 233.08L224.5 232.1L225 231.1L225.5 230.07L226 228.97L226.5 227.74L227 226.38L227.5 224.93L228 223.45L228.5 222L229 220.63L229.5 219.32L230 218.07L230.5 216.84L231 215.61L231.5 214.37L232 213.13L232.5 211.86L233 210.59L233.5 209.29L234 207.97L234.5 206.63L235 205.27L235.5 203.88L236 202.48L236.5 201.06L237 199.62L237.5 198.17L238 196.69L238.5 195.18L239 193.65L239.5 192.08L240 190.48L240.5 188.84L241 187.16L241.5 185.48L242 183.81L242.5 182.18L243 180.61L243.5 179.13L244 177.77L244.5 176.52L245 175.39L245.5 174.35L246 173.41L246.5 172.54L247 171.74L247.5 171L248 170.31L248.5 169.68L249 169.12L249.5 168.66L250 168.31L250.5 168.07L251 167.98L251.5 168.04L252 168.26L252.5 168.61L253 169.08L253.5 169.65L254 170.3L254.5 171L255 171.75L255.5 172.53L256 173.34L256.5 174.19L257 175.05L257.5 175.94L258 176.84L258.5 177.76L259 178.67L259.5 179.58L260 180.47L260.5 181.35L261 182.19L261.5 183L262 183.76L262.5 184.49L263 185.17L263.5 185.81L264 186.43L264.5 187.01L265 187.57L265.5 188.1L266 188.61L266.5 189.09L267 189.56L267.5 190L268 190.42L268.5 190.81L269 191.17L269.5 191.51L270 191.82L270.5 192.1L271 192.34L271.5 192.56L272 192.75L272.5 192.9L273 193.03L273.5 193.13L274 193.22L274.5 193.29L275 193.34L275.5 193.39L276 193.43L276.5 193.46L277 193.5L277.5 193.54L278 193.58L278.5 193.63L279 193.68L279.5 193.73L280 193.78L280.5 193.84L281 193.89L281.5 193.95L282 194.01L282.5 194.07L283 194.14L283.5 194.2L284 194.26L284.5 194.33L285 194.39L285.5 194.45L286 194.52L286.5 194.58L287 194.64L287.5 194.71L288 194.77L288.5 194.83L289 194.89L289.5 194.94L290 195L290.5 195.05L291 195.11L291.5 195.16L292 195.21L292.5 195.26L293 195.32L293.5 195.37L294 195.42L294.5 195.47L295 195.52L295.5 195.57L296 195.63L296.5 195.68L297 195.74L297.5 195.8L298 195.86L298.5 195.92L299 195.99L299.5 196.06L300 196.13L300.5 196.2L301 196.27L301.5 196.34L302 196.41L302.5 196.49L303 196.57L303.5 196.64L304 196.72L304.5 196.8L305 196.88L305.5 196.96L306 197.04L306.5 197.12" fill="none" stroke="#35cfc1" stroke-width="1.2"/>
<path d="M199 217.81L199.5 217.8L200 217.79L200.5 217.78L201 217.76L201.5 217.75L202 217.73L202.5 217.72L203 217.7L203.5 217.68L204 217.66L204.5 217.64L205 217.61L205.5 217.59L206 217.56L206.5 217.52L207 217.49L207.5 217.45L208 217.41L208.5 217.36L209 217.31L209.5 217.26L210 217.2L210.5 217.14L211 217.08L211.5 217.01L212 216.94L212.5 216.87L213 216.8L213.5 216.72L214 216.64L214.5 216.54L215 216.43L215.5 216.31L216 216.15L216.5 215.97L217 215.75L217.5 215.49L218 215.21L218.5 214.89L219 214.55L219.5 214.18L220 213.8L220.5 213.41L221 212.99L221.5 212.52L222 211.99L222.5 211.37L223 210.66L223.5 209.84L224 208.94L224.5 207.97L225 206.97L225.5 205.92L226 204.8L226.5 203.57L227 202.23L227.5 200.81L228 199.38L228.5 197.98L229 196.64L229.5 195.37L230 194.14L230.5 192.93L231 191.71L231.5 190.48L232 189.24L232.5 187.98L233 186.71L233.5 185.42L234 184.1L234.5 182.77L235 181.4L235.5 180.01L236 178.59L236.5 177.14L237 175.67L237.5 174.16L238 172.63L238.5 171.08L239 169.49L239.5 167.88L240 166.24L240.5 164.58L241 162.9L241.5 161.22L242 159.58L242.5 157.99L243 156.47L243.5 155.05L244 153.75L244.5 152.56L245 151.49L245.5 150.5L246 149.59L246.5 148.75L247 147.96L247.5 147.23L248 146.55L248.5 145.94L249 145.39L249.5 144.94L250 144.59L250.5 144.36L251 144.26L251.5 144.32L252 144.52L252.5 144.85L253 145.3L253.5 145.85L254 146.48L254.5 147.17L255 147.9L255.5 148.66L256 149.46L256.5 150.28L257 151.13L257.5 151.99L258 152.87L258.5 153.75L259 154.63L259.5 155.51L260 156.37L260.5 157.22L261 158.04L261.5 158.82L262 159.57L262.5 160.28L263 160.96L263.5 161.61L264 162.22L264.5 162.81L265 163.38L265.5 163.91L266 164.43L266.5 164.92L267 165.39L267.5 165.83L268 166.24L268.5 166.62L269 166.98L269.5 167.31L270 167.61L270.5 167.88L271 168.13L271.5 168.34L272 168.52L272.5 168.67L273 168.8L273.5 168.91L274 169L274.5 169.07L275 169.13L275.5 169.18L276 169.23L276.5 169.27L277 169.31L277.5 169.35L278 169.4L278.5 169.44L279 169.49L279.5 169.54L280 169.6L280.5 169.65L281 169.7L281.5 169.76L282 169.82L282.5 169.88L283 169.93L283.5 169.99L284 170.05L284.5 170.11L285 170.17L285.5 170.23L286 170.29L286.5 170.35L287 170.4L287.5 170.46L288 170.52L288.5 170.57L289 170.63L289.5 170.68L290 170.73L290.5 170.78L291 170.83L291.5 170.88L292 170.93L292.5 170.98L293 171.02L293.5 171.07L294 171.12L294.5 171.17L295 171.22L295.5 171.26L296 171.31L296.5 171.37L297 171.42L297.5 171.47L298 171.53L298.5 171.59L299 171.65L299.5 171.71L300 171.77L300.5 171.83L301 171.9L301.5 171.96L302 172.03L302.5 172.1L303 172.17L303.5 172.24L304 172.31L304.5 172.38L305 172.45L305.5 172.52L306 172.6L306.5 172.67" fill="none" stroke="#2bb8c1" stroke-width="1.2"/>
<path d="M199 193.62L199.5 193.61L200 193.6L200.5 193.59L201 193.58L201.5 193.56L202 193.55L202.5 193.53L203 193.52L203.5 193.5L204 193.48L204.5 193.46L205 193.43L205.5 193.4L206 193.37L206.5 193.34L207 193.3L207.5 193.26L208 193.22L208.5 193.18L209 193.12L209.5 193.07L210 193.01L210.5 192.95L211 192.88L211.5 192.82L212 192.74L212.5 192.67L213 192.59L213.5 192.51L214 192.43L214.5 192.33L215 192.22L215.5 192.1L216 191.94L216.5 191.76L217 191.55L217.5 191.3L218 191.01L218.5 190.69L219 190.35L219.5 189.99L220 189.6L220.5 189.2L221 188.78L221.5 188.31L222 187.78L222.5 187.17L223 186.48L223.5 185.68L224 184.8L224.5 183.84L225 182.84L225.5 181.77L226 180.63L226.5 179.4L227 178.07L227.5 176.69L228 175.31L228.5 173.96L229 172.66L229.5 171.42L230 170.21L230.5 169.02L231 167.81L231.5 166.59L232 165.36L232.5 164.1L233 162.83L233.5 161.54L234 160.24L234.5 158.9L235 157.54L235.5 156.14L236 154.7L236.5 153.22L237 151.71L237.5 150.16L238 148.58L238.5 146.97L239 145.34L239.5 143.68L240 142.01L240.5 140.32L241 138.63L241.5 136.97L242 135.35L242.5 133.8L243 132.33L243.5 130.97L244 129.73L244.5 128.61L245 127.58L245.5 126.64L246 125.77L246.5 124.95L247 124.19L247.5 123.47L248 122.8L248.5 122.19L249 121.66L249.5 121.22L250 120.87L250.5 120.64L251 120.55L251.5 120.59L252 120.77L252.5 121.09L253 121.52L253.5 122.05L254 122.66L254.5 123.33L255 124.05L255.5 124.79L256 125.57L256.5 126.38L257 127.2L257.5 128.04L258 128.89L258.5 129.74L259 130.59L259.5 131.44L260 132.27L260.5 133.09L261 133.88L261.5 134.64L262 135.38L262.5 136.08L263 136.75L263.5 137.4L264 138.02L264.5 138.62L265 139.19L265.5 139.73L266 140.25L266.5 140.75L267 141.22L267.5 141.65L268 142.06L268.5 142.44L269 142.79L269.5 143.12L270 143.41L270.5 143.67L271 143.91L271.5 144.12L272 144.29L272.5 144.45L273 144.58L273.5 144.69L274 144.78L274.5 144.86L275 144.92L275.5 144.98L276 145.03L276.5 145.08L277 145.12L277.5 145.17L278 145.21L278.5 145.26L279 145.31L279.5 145.36L280 145.41L280.5 145.46L281 145.52L281.5 145.57L282 145.62L282.5 145.68L283 145.73L283.5 145.79L284 145.84L284.5 145.89L285 145.95L285.5 146L286 146.06L286.5 146.11L287 146.16L287.5 146.21L288 146.27L288.5 146.32L289 146.37L289.5 146.42L290 146.46L290.5 146.51L291 146.56L291.5 146.6L292 146.65L292.5 146.69L293 146.73L293.5 146.78L294 146.82L294.5 146.87L295 146.91L295.5 146.96L296 147L296.5 147.05L297 147.1L297.5 147.15L298 147.2L298.5 147.25L299 147.3L299.5 147.36L300 147.41L300.5 147.47L301 147.53L301.5 147.59L302 147.65L302.5 147.71L303 147.77L303.5 147.83L304 147.9L304.5 147.96L305 148.02L305.5 148.09L306 148.15L306.5 148.22" fill="none" stroke="#26a6c3" stroke-width="1.2"/>
<path d="M199 169.44L199.5 169.43L200 169.42L200.5 169.4L201 169.39L201.5 169.38L202 169.37L202.5 169.35L203 169.33L203.5 169.32L204 169.3L204.5 169.27L205 169.25L205.5 169.22L206 169.19L206.5 169.16L207 169.12L207.5 169.08L208 169.04L208.5 168.99L209 168.94L209.5 168.88L210 168.82L210.5 168.76L211 168.69L211.5 168.62L212 168.55L212.5 168.47L213 168.39L213.5 168.31L214 168.22L214.5 168.13L215 168.02L215.5 167.89L216 167.73L216.5 167.55L217 167.34L217.5 167.1L218 166.81L218.5 166.5L219 166.16L219.5 165.79L220 165.41L220.5 165L221 164.57L221.5 164.1L222 163.57L222.5 162.98L223 162.29L223.5 161.52L224 160.65L224.5 159.71L225 158.71L225.5 157.63L226 156.47L226.5 155.23L227 153.92L227.5 152.58L228 151.24L228.5 149.93L229 148.68L229.5 147.47L230 146.29L230.5 145.11L231 143.92L231.5 142.7L232 141.47L232.5 140.22L233 138.95L233.5 137.67L234 136.37L234.5 135.04L235 133.68L235.5 132.27L236 130.82L236.5 129.31L237 127.75L237.5 126.16L238 124.52L238.5 122.86L239 121.18L239.5 119.48L240 117.77L240.5 116.06L241 114.37L241.5 112.72L242 111.13L242.5 109.61L243 108.19L243.5 106.89L244 105.71L244.5 104.65L245 103.68L245.5 102.79L246 101.95L246.5 101.16L247 100.41L247.5 99.7L248 99.05L248.5 98.45L249 97.93L249.5 97.49L250 97.16L250.5 96.93L251 96.83L251.5 96.86L252 97.03L252.5 97.33L253 97.74L253.5 98.25L254 98.84L254.5 99.5L255 100.19L255.5 100.93L256 101.69L256.5 102.47L257 103.27L257.5 104.09L258 104.91L258.5 105.73L259 106.56L259.5 107.37L260 108.17L260.5 108.96L261 109.72L261.5 110.46L262 111.18L262.5 111.87L263 112.54L263.5 113.19L264 113.82L264.5 114.42L265 115L265.5 115.55L266 116.08L266.5 116.58L267 117.05L267.5 117.48L268 117.89L268.5 118.26L269 118.6L269.5 118.92L270 119.21L270.5 119.46L271 119.69L271.5 119.89L272 120.07L272.5 120.22L273 120.35L273.5 120.46L274 120.56L274.5 120.64L275 120.71L275.5 120.77L276 120.83L276.5 120.88L277 120.93L277.5 120.98L278 121.03L278.5 121.08L279 121.13L279.5 121.18L280 121.23L280.5 121.28L281 121.33L281.5 121.38L282 121.43L282.5 121.48L283 121.53L283.5 121.58L284 121.63L284.5 121.68L285 121.73L285.5 121.78L286 121.83L286.5 121.87L287 121.92L287.5 121.97L288 122.02L288.5 122.06L289 122.11L289.5 122.15L290 122.2L290.5 122.24L291 122.28L291.5 122.32L292 122.36L292.5 122.4L293 122.44L293.5 122.48L294 122.52L294.5 122.56L295 122.61L295.5 122.65L296 122.69L296.5 122.73L297 122.78L297.5 122.82L298 122.87L298.5 122.91L299 122.96L299.5 123.01L300 123.06L300.5 123.11L301 123.16L301.5 123.21L302 123.27L302.5 123.32L303 123.38L303.5 123.43L304 123.49L304.5 123.54L305 123.6L305.5 123.65L306 123.71L306.5 123.77" fill="none" stroke="#2393c3" stroke-width="1.2"/>
<path d="M199 145.25L199.5 145.24L200 145.23L200.5 145.22L201 145.21L201.5 145.2L202 145.18L202.5 145.17L203 145.15L203.5 145.13L204 145.11L204.5 145.09L205 145.06L205.5 145.04L206 145.01L206.5 144.97L207 144.94L207.5 144.9L208 144.85L208.5 144.8L209 144.75L209.5 144.69L210 144.63L210.5 144.57L211 144.5L211.5 144.42L212 144.35L212.5 144.27L213 144.19L213.5 144.1L214 144.01L214.5 143.92L215 143.81L215.5 143.68L216 143.53L216.5 143.35L217 143.14L217.5 142.9L218 142.62L218.5 142.31L219 141.97L219.5 141.6L220 141.21L220.5 140.8L221 140.36L221.5 139.89L222 139.37L222.5 138.78L223 138.11L223.5 137.35L224 136.51L224.5 135.59L225 134.58L225.5 133.48L226 132.3L226.5 131.06L227 129.76L227.5 128.46L228 127.17L228.5 125.91L229 124.7L229.5 123.52L230 122.36L230.5 121.2L231 120.02L231.5 118.81L232 117.59L232.5 116.34L233 115.08L233.5 113.8L234 112.5L234.5 111.18L235 109.82L235.5 108.4L236 106.93L236.5 105.39L237 103.79L237.5 102.15L238 100.47L238.5 98.76L239 97.02L239.5 95.27L240 93.53L240.5 91.8L241 90.11L241.5 88.47L242 86.9L242.5 85.42L243 84.05L243.5 82.81L244 81.69L244.5 80.69L245 79.78L245.5 78.93L246 78.13L246.5 77.36L247 76.63L247.5 75.94L248 75.3L248.5 74.71L249 74.2L249.5 73.77L250 73.44L250.5 73.21L251 73.11L251.5 73.13L252 73.28L252.5 73.57L253 73.96L253.5 74.45L254 75.03L254.5 75.66L255 76.34L255.5 77.06L256 77.8L256.5 78.56L257 79.34L257.5 80.13L258 80.93L258.5 81.73L259 82.52L259.5 83.3L260 84.07L260.5 84.83L261 85.57L261.5 86.29L262 86.99L262.5 87.67L263 88.34L263.5 88.98L264 89.61L264.5 90.22L265 90.81L265.5 91.37L266 91.9L266.5 92.41L267 92.87L267.5 93.31L268 93.71L268.5 94.08L269 94.42L269.5 94.72L270 95L270.5 95.25L271 95.48L271.5 95.67L272 95.84L272.5 95.99L273 96.12L273.5 96.24L274 96.34L274.5 96.42L275 96.5L275.5 96.57L276 96.63L276.5 96.69L277 96.74L277.5 96.79L278 96.85L278.5 96.9L279 96.94L279.5 96.99L280 97.04L280.5 97.09L281 97.14L281.5 97.19L282 97.23L282.5 97.28L283 97.33L283.5 97.37L284 97.42L284.5 97.46L285 97.51L285.5 97.55L286 97.6L286.5 97.64L287 97.68L287.5 97.72L288 97.77L288.5 97.81L289 97.85L289.5 97.89L290 97.93L290.5 97.97L291 98L291.5 98.04L292 98.08L292.5 98.12L293 98.15L293.5 98.19L294 98.23L294.5 98.26L295 98.3L295.5 98.34L296 98.38L296.5 98.41L297 98.45L297.5 98.49L298 98.53L298.5 98.58L299 98.62L299.5 98.66L300 98.7L300.5 98.75L301 98.79L301.5 98.84L302 98.89L302.5 98.93L303 98.98L303.5 99.03L304 99.07L304.5 99.12L305 99.17L305.5 99.22L306 99.27L306.5 99.32" fill="none" stroke="#2380bf" stroke-width="1.2"/>
<path d="M199 121.06L199.5 121.05L200 121.04L200.5 121.03L201 121.02L201.5 121.01L202 121L202.5 120.98L203 120.97L203.5 120.95L204 120.93L204.5 120.91L205 120.88L205.5 120.85L206 120.82L206.5 120.79L207 120.75L207.5 120.71L208 120.67L208.5 120.62L209 120.56L209.5 120.5L210 120.44L210.5 120.37L211 120.3L211.5 120.23L212 120.15L212.5 120.07L213 119.99L213.5 119.9L214 119.81L214.5 119.71L215 119.6L215.5 119.47L216 119.32L216.5 119.14L217 118.94L217.5 118.7L218 118.42L218.5 118.11L219 117.77L219.5 117.4L220 117.01L220.5 116.59L221 116.16L221.5 115.68L222 115.16L222.5 114.58L223 113.93L223.5 113.19L224 112.37L224.5 111.46L225 110.45L225.5 109.33L226 108.14L226.5 106.88L227 105.61L227.5 104.34L228 103.1L228.5 101.89L229 100.72L229.5 99.57L230 98.43L230.5 97.29L231 96.12L231.5 94.92L232 93.7L232.5 92.46L233 91.2L233.5 89.93L234 88.64L234.5 87.32L235 85.96L235.5 84.53L236 83.04L236.5 81.47L237 79.84L237.5 78.15L238 76.42L238.5 74.65L239 72.86L239.5 71.07L240 69.29L240.5 67.54L241 65.84L241.5 64.21L242 62.67L242.5 61.23L243 59.91L243.5 58.73L244 57.68L244.5 56.73L245 55.88L245.5 55.08L246 54.31L246.5 53.56L247 52.85L247.5 52.17L248 51.54L248.5 50.97L249 50.47L249.5 50.05L250 49.72L250.5 49.5L251 49.39L251.5 49.4L252 49.54L252.5 49.8L253 50.18L253.5 50.66L254 51.21L254.5 51.83L255 52.49L255.5 53.19L256 53.92L256.5 54.66L257 55.42L257.5 56.18L258 56.95L258.5 57.72L259 58.48L259.5 59.23L260 59.97L260.5 60.7L261 61.41L261.5 62.11L262 62.79L262.5 63.47L263 64.13L263.5 64.78L264 65.41L264.5 66.03L265 66.62L265.5 67.19L266 67.73L266.5 68.23L267 68.7L267.5 69.14L268 69.53L268.5 69.9L269 70.23L269.5 70.53L270 70.8L270.5 71.04L271 71.26L271.5 71.45L272 71.62L272.5 71.77L273 71.9L273.5 72.01L274 72.12L274.5 72.21L275 72.29L275.5 72.36L276 72.43L276.5 72.49L277 72.55L277.5 72.61L278 72.66L278.5 72.71L279 72.76L279.5 72.81L280 72.86L280.5 72.9L281 72.95L281.5 72.99L282 73.04L282.5 73.08L283 73.12L283.5 73.16L284 73.21L284.5 73.25L285 73.29L285.5 73.33L286 73.36L286.5 73.4L287 73.44L287.5 73.48L288 73.52L288.5 73.55L289 73.59L289.5 73.62L290 73.66L290.5 73.69L291 73.73L291.5 73.76L292 73.8L292.5 73.83L293 73.86L293.5 73.9L294 73.93L294.5 73.96L295 74L295.5 74.03L296 74.06L296.5 74.1L297 74.13L297.5 74.17L298 74.2L298.5 74.24L299 74.27L299.5 74.31L300 74.35L300.5 74.39L301 74.43L301.5 74.46L302 74.5L302.5 74.54L303 74.58L303.5 74.62L304 74.66L304.5 74.7L305 74.74L305.5 74.78L306 74.82L306.5 74.86" fill="none" stroke="#2a67b2" stroke-width="1.2"/>
<path d="M199 96.88L199.5 96.87L200 96.86L200.5 96.85L201 96.84L201.5 96.83L202 96.81L202.5 96.8L203 96.78L203.5 96.77L204 96.75L204.5 96.72L205 96.7L205.5 96.67L206 96.64L206.5 96.61L207 96.57L207.5 96.53L208 96.48L208.5 96.43L209 96.38L209.5 96.32L210 96.25L210.5 96.18L211 96.11L211.5 96.03L212 95.95L212.5 95.87L213 95.78L213.5 95.69L214 95.6L214.5 95.5L215 95.39L215.5 95.26L216 95.11L216.5 94.94L217 94.73L217.5 94.5L218 94.23L218.5 93.92L219 93.58L219.5 93.21L220 92.81L220.5 92.39L221 91.95L221.5 91.47L222 90.95L222.5 90.38L223 89.74L223.5 89.03L224 88.23L224.5 87.33L225 86.32L225.5 85.19L226 83.97L226.5 82.71L227 81.45L227.5 80.22L228 79.03L228.5 77.87L229 76.73L229.5 75.62L230 74.5L230.5 73.38L231 72.22L231.5 71.04L232 69.82L232.5 68.58L233 67.32L233.5 66.05L234 64.77L234.5 63.46L235 62.09L235.5 60.66L236 59.15L236.5 57.55L237 55.88L237.5 54.14L238 52.36L238.5 50.54L239 48.7L239.5 46.87L240 45.05L240.5 43.28L241 41.58L241.5 39.96L242 38.44L242.5 37.04L243 35.77L243.5 34.65L244 33.66L244.5 32.78L245 31.97L245.5 31.22L246 30.49L246.5 29.77L247 29.07L247.5 28.41L248 27.79L248.5 27.23L249 26.74L249.5 26.32L250 26.01L250.5 25.78L251 25.67L251.5 25.67L252 25.8L252.5 26.04L253 26.4L253.5 26.86L254 27.39L254.5 27.99L255 28.64L255.5 29.32L256 30.03L256.5 30.75L257 31.49L257.5 32.23L258 32.97L258.5 33.71L259 34.44L259.5 35.16L260 35.87L260.5 36.57L261 37.25L261.5 37.93L262 38.6L262.5 39.26L263 39.92L263.5 40.57L264 41.21L264.5 41.83L265 42.43L265.5 43.01L266 43.55L266.5 44.06L267 44.53L267.5 44.96L268 45.36L268.5 45.71L269 46.04L269.5 46.33L270 46.59L270.5 46.83L271 47.04L271.5 47.23L272 47.39L272.5 47.54L273 47.67L273.5 47.79L274 47.9L274.5 47.99L275 48.08L275.5 48.16L276 48.23L276.5 48.3L277 48.36L277.5 48.42L278 48.48L278.5 48.53L279 48.58L279.5 48.63L280 48.67L280.5 48.72L281 48.76L281.5 48.8L282 48.84L282.5 48.88L283 48.92L283.5 48.96L284 48.99L284.5 49.03L285 49.07L285.5 49.1L286 49.13L286.5 49.17L287 49.2L287.5 49.23L288 49.27L288.5 49.3L289 49.33L289.5 49.36L290 49.39L290.5 49.42L291 49.45L291.5 49.48L292 49.51L292.5 49.54L293 49.57L293.5 49.6L294 49.63L294.5 49.66L295 49.69L295.5 49.72L296 49.75L296.5 49.78L297 49.81L297.5 49.84L298 49.87L298.5 49.9L299 49.93L299.5 49.96L300 49.99L300.5 50.03L301 50.06L301.5 50.09L302 50.12L302.5 50.15L303 50.19L303.5 50.22L304 50.25L304.5 50.28L305 50.32L305.5 50.35L306 50.38L306.5 50.41" fill="none" stroke="#393f97" stroke-width="1.2"/>
<path d="M199 72.69L199.5 72.68L200 72.67L200.5 72.66L201 72.65L201.5 72.64L202 72.63L202.5 72.62L203 72.6L203.5 72.58L204 72.56L204.5 72.54L205 72.52L205.5 72.49L206 72.46L206.5 72.42L207 72.38L207.5 72.34L208 72.3L208.5 72.24L209 72.19L209.5 72.13L210 72.06L210.5 71.99L211 71.92L211.5 71.84L212 71.75L212.5 71.67L213 71.58L213.5 71.49L214 71.39L214.5 71.29L215 71.18L215.5 71.05L216 70.9L216.5 70.73L217 70.53L217.5 70.3L218 70.03L218.5 69.73L219 69.38L219.5 69.01L220 68.61L220.5 68.19L221 67.74L221.5 67.26L222 66.75L222.5 66.18L223 65.56L223.5 64.87L224 64.09L224.5 63.2L225 62.19L225.5 61.04L226 59.81L226.5 58.54L227 57.3L227.5 56.11L228 54.96L228.5 53.85L229 52.75L229.5 51.67L230 50.58L230.5 49.47L231 48.33L231.5 47.15L232 45.93L232.5 44.7L233 43.44L233.5 42.18L234 40.9L234.5 39.59L235 38.23L235.5 36.79L236 35.26L236.5 33.63L237 31.92L237.5 30.14L238 28.31L238.5 26.44L239 24.55L239.5 22.67L240 20.82L240.5 19.02L241 17.32L241.5 15.71L242 14.22L242.5 12.85L243 11.63L243.5 10.57L244 9.64L244.5 8.82L245 8.07L245.5 7.37L246 6.67L246.5 5.97L247 5.3L247.5 4.64L248 4.04L248.5 3.49L249 3L249.5 2.6L250 2.29L250.5 2.07L251 1.95L251.5 1.94L252 2.05L252.5 2.28L253 2.62L253.5 3.06L254 3.58L254.5 4.16L255 4.79L255.5 5.46L256 6.14L256.5 6.85L257 7.56L257.5 8.28L258 9L258.5 9.71L259 10.41L259.5 11.09L260 11.77L260.5 12.43L261 13.1L261.5 13.75L262 14.4L262.5 15.06L263 15.71L263.5 16.36L264 17L264.5 17.63L265 18.24L265.5 18.82L266 19.38L266.5 19.89L267 20.36L267.5 20.79L268 21.18L268.5 21.53L269 21.85L269.5 22.14L270 22.39L270.5 22.62L271 22.82L271.5 23.01L272 23.17L272.5 23.31L273 23.45L273.5 23.56L274 23.67L274.5 23.78L275 23.87L275.5 23.96L276 24.03L276.5 24.11L277 24.17L277.5 24.24L278 24.29L278.5 24.35L279 24.4L279.5 24.44L280 24.49L280.5 24.53L281 24.57L281.5 24.61L282 24.65L282.5 24.68L283 24.72L283.5 24.75L284 24.78L284.5 24.81L285 24.84L285.5 24.87L286 24.9L286.5 24.93L287 24.96L287.5 24.99L288 25.02L288.5 25.04L289 25.07L289.5 25.1L290 25.12L290.5 25.15L291 25.18L291.5 25.2L292 25.23L292.5 25.26L293 25.28L293.5 25.31L294 25.33L294.5 25.36L295 25.39L295.5 25.41L296 25.44L296.5 25.46L297 25.49L297.5 25.51L298 25.54L298.5 25.56L299 25.59L299.5 25.61L300 25.64L300.5 25.66L301 25.69L301.5 25.71L302 25.74L302.5 25.76L303 25.79L303.5 25.81L304 25.84L304.5 25.86L305 25.89L305.5 25.91L306 25.94L306.5 25.96" fill="none" stroke="#47238a" stroke-width="1.2"/>
<line x1="226.9" y1="27" x2="226.9" y2="242.0" stroke="#c0408f" stroke-width="1.1" stroke-dasharray="4.8 4.2"/>
<path d="M199 0.5H317.4M199 0.5V242H306.9V221.6" fill="none" stroke="#555" stroke-width="1"/>
<line x1="199" y1="242" x2="202" y2="242" stroke="#555" stroke-width="0.8"/>
<text x="196.7" y="245.3" font-size="9" text-anchor="end" font-weight="normal" fill="#1e1e1e" >0</text>
<line x1="199" y1="215.12" x2="201" y2="215.12" stroke="#555" stroke-width="0.8"/>
<line x1="199" y1="188.25" x2="202" y2="188.25" stroke="#555" stroke-width="0.8"/>
<text x="196.7" y="191.55" font-size="9" text-anchor="end" font-weight="normal" fill="#1e1e1e" >1</text>
<line x1="199" y1="161.38" x2="201" y2="161.38" stroke="#555" stroke-width="0.8"/>
<line x1="199" y1="134.5" x2="202" y2="134.5" stroke="#555" stroke-width="0.8"/>
<text x="196.7" y="137.8" font-size="9" text-anchor="end" font-weight="normal" fill="#1e1e1e" >2</text>
<line x1="199" y1="107.62" x2="201" y2="107.62" stroke="#555" stroke-width="0.8"/>
<line x1="199" y1="80.75" x2="202" y2="80.75" stroke="#555" stroke-width="0.8"/>
<text x="196.7" y="84.05" font-size="9" text-anchor="end" font-weight="normal" fill="#1e1e1e" >3</text>
<line x1="199" y1="53.88" x2="201" y2="53.88" stroke="#555" stroke-width="0.8"/>
<line x1="199" y1="27" x2="202" y2="27" stroke="#555" stroke-width="0.8"/>
<text x="196.7" y="30.3" font-size="9" text-anchor="end" font-weight="normal" fill="#1e1e1e" >4</text>
<line x1="209.1" y1="242.0" x2="209.1" y2="239" stroke="#555" stroke-width="0.8"/>
<text x="209.1" y="252.3" font-size="9" text-anchor="middle" font-weight="normal" fill="#1e1e1e" >8975</text>
<line x1="233.45" y1="242.0" x2="233.45" y2="240" stroke="#555" stroke-width="0.8"/>
<line x1="257.8" y1="242.0" x2="257.8" y2="239" stroke="#555" stroke-width="0.8"/>
<text x="257.8" y="252.3" font-size="9" text-anchor="middle" font-weight="normal" fill="#1e1e1e" >9000</text>
<line x1="282.15" y1="242.0" x2="282.15" y2="240" stroke="#555" stroke-width="0.8"/>
<line x1="306.5" y1="242.0" x2="306.5" y2="239" stroke="#555" stroke-width="0.8"/>
<text x="306.5" y="252.3" font-size="9" text-anchor="middle" font-weight="normal" fill="#1e1e1e" >9025</text>
<text x="257.4" y="264.5" font-size="10.3" text-anchor="middle" font-weight="normal" fill="#1e1e1e" >Energy (eV)</text>
<text transform="translate(186.3 123.6) rotate(-90)" font-size="10.6" text-anchor="middle" fill="#231f20">Normalized <tspan font-style="italic">μ</tspan>(E)</text>
<rect x="306.9" y="193.9" width="10.5" height="28" fill="#35cfc1"/>
<text x="319.2" y="210.85" font-size="8.8" text-anchor="start" font-weight="bold" fill="#000" >RT</text>
<rect x="306.9" y="166.2" width="10.5" height="28" fill="#2bb8c1"/>
<text x="319.2" y="183.15" font-size="8.8" text-anchor="start" font-weight="bold" fill="#000" >100</text>
<rect x="306.9" y="138.5" width="10.5" height="28" fill="#26a6c3"/>
<text x="319.2" y="155.45" font-size="8.8" text-anchor="start" font-weight="bold" fill="#000" >150</text>
<rect x="306.9" y="110.8" width="10.5" height="28" fill="#2393c3"/>
<text x="319.2" y="127.75" font-size="8.8" text-anchor="start" font-weight="bold" fill="#000" >200</text>
<rect x="306.9" y="83.1" width="10.5" height="28" fill="#2380bf"/>
<text x="319.2" y="100.05" font-size="8.8" text-anchor="start" font-weight="bold" fill="#000" >250</text>
<rect x="306.9" y="55.4" width="10.5" height="28" fill="#2a67b2"/>
<text x="319.2" y="72.35" font-size="8.8" text-anchor="start" font-weight="bold" fill="#000" >300</text>
<rect x="306.9" y="27.7" width="10.5" height="28" fill="#393f97"/>
<text x="319.2" y="44.65" font-size="8.8" text-anchor="start" font-weight="bold" fill="#000" >350</text>
<rect x="306.9" y="0" width="10.5" height="28" fill="#47238a"/>
<text x="319.2" y="16.95" font-size="8.8" text-anchor="start" font-weight="bold" fill="#000" >400</text>
<rect x="306.9" y="0.5" width="10.5" height="221.1" fill="none" stroke="#555" stroke-width="1"/>
<text x="307.7" y="230.5" font-size="9.0" text-anchor="start" font-weight="normal" fill="#1e1e1e" >T / °C</text>
<text x="201" y="10" font-size="9" text-anchor="start" font-weight="bold" fill="#000" >Cu K-edge</text>
<text x="304.4" y="10" font-size="9" text-anchor="end" font-weight="bold" fill="#000" >NH<tspan font-size="6" dy="2">3</tspan><tspan dy="-2"> + O</tspan><tspan font-size="6" dy="2">2</tspan></text>
<text x="301" y="235.3" font-size="10" text-anchor="end" font-weight="bold" fill="#000" >Co<tspan font-size="5.6" dy="2.2">H</tspan><tspan dy="-2.2">Cu</tspan></text>
<path d="M373.7 241.3L374.2 241.29L374.7 241.28L375.2 241.28L375.7 241.26L376.2 241.25L376.7 241.24L377.2 241.22L377.7 241.21L378.2 241.19L378.7 241.17L379.2 241.16L379.7 241.14L380.2 241.12L380.7 241.1L381.2 241.07L381.7 241.05L382.2 241.03L382.7 241.01L383.2 240.98L383.7 240.96L384.2 240.93L384.7 240.91L385.2 240.88L385.7 240.86L386.2 240.83L386.7 240.81L387.2 240.78L387.7 240.76L388.2 240.73L388.7 240.69L389.2 240.66L389.7 240.62L390.2 240.58L390.7 240.53L391.2 240.47L391.7 240.41L392.2 240.32L392.7 240.2L393.2 240.05L393.7 239.87L394.2 239.65L394.7 239.39L395.2 238.91L395.7 238.34L396.2 237.9L396.7 237.5L397.2 237.29L397.7 237.62L398.2 237.94L398.7 237.82L399.2 237.44L399.7 235.79L400.2 233.04L400.7 228.18L401.2 220.33L401.7 208.72L402.2 196.7L402.7 184.02L403.2 173.39L403.7 164.3L404.2 155.94L404.7 148.15L405.2 141.75L405.7 136.37L406.2 132.84L406.7 130.05L407.2 128.04L407.7 127.47L408.2 129.43L408.7 132.75L409.2 138.13L409.7 144.15L410.2 150.51L410.7 155.43L411.2 159.22L411.7 161.8L412.2 163.84L412.7 165.42L413.2 166.73L413.7 167.87L414.2 168.83L414.7 169.59L415.2 170.14L415.7 170.52L416.2 170.87L416.7 171.32L417.2 172.11L417.7 173.55L418.2 175.31L418.7 177.25L419.2 178.38L419.7 179.36L420.2 180.3L420.7 181.83L421.2 182.18L421.7 181.25L422.2 180.37L422.7 180.12L423.2 179.86L423.7 179.41L424.2 178.21L424.7 177.39L425.2 175.9L425.7 175.72L426.2 174.48L426.7 173.76L427.2 172.65L427.7 171.99L428.2 170.21L428.7 169.96L429.2 169.31L429.7 170.27L430.2 169.01L430.7 168.64L431.2 167.66L431.7 168.42L432.2 166.45L432.7 166.05L433.2 166.68L433.7 166.15L434.2 165.72L434.7 165.04L435.2 164.51L435.7 163.67L436.2 164.48L436.7 163.95L437.2 164.14L437.7 163.37L438.2 163.75L438.7 163.42L439.2 164.44L439.7 164.02L440.2 164.28L440.7 163.27L441.2 163.68L441.7 164.18L442.2 164.35L442.7 164.08L443.2 164.75L443.7 165.01L444.2 164.55L444.7 163.85L445.2 165.19L445.7 165.49L446.2 165.94L446.7 166.21L447.2 165.6L447.7 165.67L448.2 166.26L448.7 166.34L449.2 166.66L449.7 166.88L450.2 167.83L450.7 167.57L451.2 167.52L451.7 168.11L452.2 168.17L452.7 168.51L453.2 168.49L453.7 168.16L454.2 168.9L454.7 168.98L455.2 168.75L455.7 169.03L456.2 168.79L456.7 170.67L457.2 169.59L457.7 170.37L458.2 170.27L458.7 170.08L459.2 170.05L459.7 170.14L460.2 170.59L460.7 170.01L461.2 170.89L461.7 170.87L462.2 170.49L462.7 171.09L463.2 169.91L463.7 170.37L464.2 169.79L464.7 170.66L465.2 170.69L465.7 170.31L466.2 169.91L466.7 170.33L467.2 169.75L467.7 169.76L468.2 168.9L468.7 169.77L469.2 168.91L469.7 169.55L470.2 169.6L470.7 169.4L471.2 169.52L471.7 168.85L472.2 168.37L472.7 168.67L473.2 168.38L473.7 167.85L474.2 168.35L474.7 168.28L475.2 168.39L475.7 168.86L476.2 167.71L476.7 168.7L477.2 167.53L477.7 167.7L478.2 167.08L478.7 167.48L479.2 167.68L479.7 167.03L480.2 167.3L480.7 167" fill="none" stroke="#35cdbf" stroke-width="1.2"/>
<path d="M373.7 208.45L374.2 208.44L374.7 208.43L375.2 208.42L375.7 208.4L376.2 208.39L376.7 208.38L377.2 208.36L377.7 208.34L378.2 208.33L378.7 208.31L379.2 208.29L379.7 208.27L380.2 208.25L380.7 208.23L381.2 208.21L381.7 208.19L382.2 208.17L382.7 208.15L383.2 208.12L383.7 208.1L384.2 208.08L384.7 208.06L385.2 208.03L385.7 208.01L386.2 207.99L386.7 207.96L387.2 207.94L387.7 207.92L388.2 207.89L388.7 207.87L389.2 207.84L389.7 207.8L390.2 207.77L390.7 207.72L391.2 207.68L391.7 207.62L392.2 207.54L392.7 207.42L393.2 207.28L393.7 207.1L394.2 206.89L394.7 206.63L395.2 206.18L395.7 205.63L396.2 205.2L396.7 204.8L397.2 204.59L397.7 204.91L398.2 205.21L398.7 205.09L399.2 204.72L399.7 203.24L400.2 200.97L400.7 197.23L401.2 191.35L401.7 182.2L402.2 172.07L402.7 161.22L403.2 151.05L403.7 141.71L404.2 132.68L404.7 124.35L405.2 117.3L405.7 111.59L406.2 107.34L406.7 104.25L407.2 102.23L407.7 101.32L408.2 102.41L408.7 105.17L409.2 109.43L409.7 114.43L410.2 119.69L410.7 124.13L411.2 127.76L411.7 130.62L412.2 132.8L412.7 134.35L413.2 135.59L413.7 136.57L414.2 137.35L414.7 137.96L415.2 138.42L415.7 138.79L416.2 139.17L416.7 139.64L417.2 140.32L417.7 141.38L418.2 142.62L418.7 144.52L419.2 144.96L419.7 145.14L420.2 146.5L420.7 146.44L421.2 146.35L421.7 146.95L422.2 147.26L422.7 146.99L423.2 146L423.7 145.02L424.2 144.54L424.7 143.6L425.2 143.25L425.7 142.21L426.2 141.86L426.7 141.09L427.2 140.82L427.7 140.26L428.2 139.12L428.7 138.77L429.2 138.13L429.7 136.9L430.2 136.76L430.7 134.97L431.2 135.39L431.7 135.62L432.2 134.57L432.7 134.35L433.2 134.42L433.7 133.29L434.2 133.81L434.7 134.55L435.2 132.63L435.7 133.05L436.2 131.96L436.7 132.77L437.2 132.9L437.7 131.6L438.2 132.66L438.7 132.03L439.2 131.42L439.7 131.96L440.2 132.02L440.7 131.93L441.2 131.63L441.7 132.41L442.2 131.87L442.7 131.99L443.2 131.35L443.7 132.65L444.2 133.05L444.7 132.47L445.2 133.11L445.7 132.96L446.2 133.19L446.7 132.91L447.2 133.88L447.7 133.81L448.2 135.07L448.7 134.52L449.2 133.64L449.7 134.8L450.2 135L450.7 135.41L451.2 134.81L451.7 135.17L452.2 135.95L452.7 135.32L453.2 135.68L453.7 135.64L454.2 136.42L454.7 135.55L455.2 136.29L455.7 136.7L456.2 137.05L456.7 137.09L457.2 136.77L457.7 137.4L458.2 136.92L458.7 137.21L459.2 136.92L459.7 137.19L460.2 137.61L460.7 138.44L461.2 137.49L461.7 137.29L462.2 137.57L462.7 137.39L463.2 137.83L463.7 137.75L464.2 137.93L464.7 136.85L465.2 137.29L465.7 137.47L466.2 137.73L466.7 137.1L467.2 136.29L467.7 136.6L468.2 137.02L468.7 135.98L469.2 135.9L469.7 136.02L470.2 136.03L470.7 135.8L471.2 136L471.7 135.83L472.2 136.44L472.7 135.38L473.2 135.86L473.7 135.01L474.2 136.71L474.7 135.43L475.2 135.23L475.7 135.73L476.2 135.3L476.7 135.08L477.2 135.07L477.7 135.47L478.2 135.2L478.7 134.6L479.2 134.39L479.7 134.81L480.2 134.72L480.7 134.56" fill="none" stroke="#27abbf" stroke-width="1.2"/>
<path d="M373.7 175.6L374.2 175.59L374.7 175.57L375.2 175.56L375.7 175.55L376.2 175.53L376.7 175.51L377.2 175.5L377.7 175.48L378.2 175.46L378.7 175.45L379.2 175.43L379.7 175.41L380.2 175.39L380.7 175.37L381.2 175.35L381.7 175.33L382.2 175.31L382.7 175.29L383.2 175.27L383.7 175.25L384.2 175.22L384.7 175.2L385.2 175.18L385.7 175.16L386.2 175.14L386.7 175.12L387.2 175.1L387.7 175.08L388.2 175.06L388.7 175.04L389.2 175.01L389.7 174.98L390.2 174.95L390.7 174.91L391.2 174.87L391.7 174.82L392.2 174.75L392.7 174.64L393.2 174.49L393.7 174.32L394.2 174.11L394.7 173.87L395.2 173.43L395.7 172.91L396.2 172.48L396.7 172.09L397.2 171.87L397.7 172.17L398.2 172.47L398.7 172.34L399.2 171.99L399.7 170.66L400.2 168.8L400.7 166.05L401.2 161.9L401.7 154.91L402.2 146.44L402.7 137.2L403.2 127.43L403.7 117.87L404.2 108.24L404.7 99.46L405.2 91.82L405.7 85.82L406.2 80.93L406.7 77.58L407.2 75.56L407.7 74.34L408.2 74.68L408.7 76.94L409.2 80.23L409.7 84.33L410.2 88.61L410.7 92.65L411.2 96.14L411.7 99.23L412.2 101.55L412.7 103.06L413.2 104.24L413.7 105.09L414.2 105.7L414.7 106.17L415.2 106.56L415.7 106.92L416.2 107.33L416.7 107.81L417.2 108.4L417.7 109.13L418.2 109.9L418.7 110.63L419.2 110.93L419.7 111.73L420.2 112.43L420.7 112.98L421.2 112.58L421.7 112.24L422.2 112.65L422.7 112.46L423.2 111.97L423.7 112.08L424.2 111.21L424.7 110.58L425.2 109.77L425.7 109.35L426.2 109.3L426.7 107.69L427.2 106.85L427.7 107.12L428.2 106.26L428.7 105.77L429.2 105.04L429.7 105.57L430.2 103.77L430.7 104.24L431.2 103.04L431.7 103.14L432.2 102.93L432.7 102.44L433.2 101.64L433.7 102.1L434.2 101.62L434.7 101.45L435.2 101.79L435.7 100.29L436.2 100.44L436.7 100.56L437.2 99.91L437.7 100.72L438.2 100.23L438.7 99.35L439.2 99.6L439.7 100.94L440.2 101.39L440.7 100.36L441.2 99.45L441.7 100.16L442.2 100.11L442.7 99.84L443.2 100.59L443.7 100.22L444.2 100.09L444.7 100.36L445.2 100.53L445.7 101.11L446.2 100.76L446.7 101.32L447.2 100.71L447.7 100.3L448.2 101.89L448.7 102.66L449.2 102.05L449.7 101.85L450.2 101.72L450.7 101.88L451.2 102.86L451.7 103.04L452.2 102.3L452.7 103.51L453.2 102.72L453.7 103.46L454.2 103.18L454.7 103.36L455.2 103.48L455.7 103.6L456.2 104.52L456.7 104.08L457.2 104.31L457.7 104.27L458.2 103.92L458.7 104.62L459.2 104.83L459.7 104.84L460.2 104.66L460.7 104.19L461.2 104.87L461.7 104L462.2 104.36L462.7 104.56L463.2 105.02L463.7 104.29L464.2 104.04L464.7 105.06L465.2 103.7L465.7 103.43L466.2 103.94L466.7 103.8L467.2 102.88L467.7 103.33L468.2 104.19L468.7 103.75L469.2 103.75L469.7 103.69L470.2 104.61L470.7 103.19L471.2 103.75L471.7 103.35L472.2 103.42L472.7 102.93L473.2 103.39L473.7 103.55L474.2 102.91L474.7 102.47L475.2 103.17L475.7 102.37L476.2 102.79L476.7 103.08L477.2 102.11L477.7 103.08L478.2 102.21L478.7 102.8L479.2 102.32L479.7 102.99L480.2 102.74L480.7 101.84" fill="none" stroke="#2389c0" stroke-width="1.2"/>
<path d="M373.7 142.75L374.2 142.74L374.7 142.72L375.2 142.71L375.7 142.69L376.2 142.68L376.7 142.66L377.2 142.64L377.7 142.63L378.2 142.61L378.7 142.59L379.2 142.57L379.7 142.55L380.2 142.53L380.7 142.52L381.2 142.5L381.7 142.48L382.2 142.46L382.7 142.44L383.2 142.42L383.7 142.39L384.2 142.37L384.7 142.35L385.2 142.33L385.7 142.31L386.2 142.29L386.7 142.27L387.2 142.25L387.7 142.23L388.2 142.21L388.7 142.19L389.2 142.17L389.7 142.14L390.2 142.11L390.7 142.08L391.2 142.04L391.7 141.99L392.2 141.92L392.7 141.81L393.2 141.67L393.7 141.49L394.2 141.29L394.7 141.05L395.2 140.62L395.7 140.1L396.2 139.69L396.7 139.29L397.2 139.07L397.7 139.37L398.2 139.66L398.7 139.53L399.2 139.19L399.7 137.92L400.2 136.21L400.7 133.85L401.2 130.37L401.7 124.23L402.2 116.39L402.7 107.79L403.2 98.17L403.7 88.52L404.2 78.67L404.7 69.7L405.2 61.83L405.7 55.73L406.2 50.59L406.7 47.14L407.2 45.11L407.7 43.78L408.2 43.83L408.7 45.89L409.2 48.8L409.7 52.55L410.2 56.45L410.7 60.33L411.2 63.76L411.7 66.95L412.2 69.32L412.7 70.82L413.2 71.97L413.7 72.77L414.2 73.32L414.7 73.74L415.2 74.09L415.7 74.45L416.2 74.87L416.7 75.36L417.2 75.91L417.7 76.51L418.2 77.11L418.7 77.88L419.2 78.29L419.7 78.64L420.2 78.53L420.7 79.31L421.2 79.25L421.7 79.57L422.2 79.87L422.7 78.91L423.2 79.39L423.7 78.47L424.2 77.29L424.7 77.89L425.2 76.95L425.7 77.12L426.2 76.13L426.7 76.02L427.2 74.97L427.7 74.5L428.2 73.67L428.7 72.52L429.2 72.62L429.7 72.01L430.2 71.89L430.7 71.54L431.2 71.37L431.7 71.37L432.2 70.16L432.7 69.1L433.2 69.27L433.7 69.41L434.2 68.21L434.7 68.92L435.2 68.82L435.7 68.91L436.2 68.63L436.7 68.17L437.2 67.05L437.7 67.88L438.2 68.13L438.7 67.84L439.2 67.59L439.7 68.18L440.2 67.33L440.7 67.06L441.2 67.23L441.7 67.14L442.2 68.02L442.7 68.27L443.2 67.05L443.7 67.24L444.2 68.51L444.7 67.87L445.2 68.08L445.7 67.99L446.2 68.28L446.7 68.73L447.2 68.56L447.7 68.71L448.2 68.92L448.7 69.84L449.2 70.47L449.7 69.66L450.2 70.18L450.7 69.51L451.2 69.47L451.7 69.84L452.2 70.28L452.7 70.25L453.2 69.94L453.7 70.93L454.2 70.36L454.7 70.59L455.2 70.93L455.7 70.53L456.2 71.6L456.7 70.98L457.2 71.88L457.7 71.88L458.2 72.05L458.7 71.41L459.2 72.02L459.7 71.58L460.2 72.1L460.7 71.12L461.2 70.76L461.7 71.45L462.2 70.8L462.7 71.24L463.2 70.5L463.7 71.37L464.2 72.05L464.7 70.66L465.2 71.32L465.7 71.66L466.2 71.44L466.7 71.81L467.2 71.11L467.7 71.45L468.2 70.28L468.7 70.59L469.2 71.56L469.7 71.45L470.2 70.99L470.7 71.54L471.2 70.7L471.7 70.62L472.2 70.9L472.7 70.75L473.2 70.25L473.7 69.79L474.2 69.71L474.7 70.3L475.2 69.89L475.7 70.54L476.2 69.98L476.7 70.53L477.2 69.73L477.7 70.54L478.2 70.36L478.7 69.89L479.2 69.58L479.7 70.4L480.2 69.95L480.7 69.59" fill="none" stroke="#2a68b2" stroke-width="1.2"/>
<path d="M373.7 109.9L374.2 109.89L374.7 109.87L375.2 109.86L375.7 109.84L376.2 109.82L376.7 109.81L377.2 109.79L377.7 109.77L378.2 109.76L378.7 109.74L379.2 109.72L379.7 109.7L380.2 109.68L380.7 109.66L381.2 109.64L381.7 109.62L382.2 109.6L382.7 109.58L383.2 109.56L383.7 109.54L384.2 109.52L384.7 109.5L385.2 109.48L385.7 109.46L386.2 109.44L386.7 109.42L387.2 109.4L387.7 109.39L388.2 109.37L388.7 109.35L389.2 109.33L389.7 109.3L390.2 109.27L390.7 109.24L391.2 109.2L391.7 109.16L392.2 109.08L392.7 108.98L393.2 108.83L393.7 108.66L394.2 108.46L394.7 108.22L395.2 107.79L395.7 107.29L396.2 106.87L396.7 106.47L397.2 106.25L397.7 106.55L398.2 106.83L398.7 106.71L399.2 106.37L399.7 105.14L400.2 103.53L400.7 101.41L401.2 98.37L401.7 92.77L402.2 85.35L402.7 77.14L403.2 67.63L403.7 57.92L404.2 47.92L404.7 38.84L405.2 30.83L405.7 24.65L406.2 19.35L406.7 15.84L407.2 13.81L407.7 12.4L408.2 12.26L408.7 14.19L409.2 16.86L409.7 20.39L410.2 24.04L410.7 27.83L411.2 31.22L411.7 34.47L412.2 36.87L412.7 38.36L413.2 39.5L413.7 40.26L414.2 40.77L414.7 41.15L415.2 41.49L415.7 41.84L416.2 42.28L416.7 42.77L417.2 43.29L417.7 43.81L418.2 44.29L418.7 44.73L419.2 44.71L419.7 45.06L420.2 45.84L420.7 46.1L421.2 46.27L421.7 46.82L422.2 46.9L422.7 45.46L423.2 45.98L423.7 45.32L424.2 45.21L424.7 43.83L425.2 43.2L425.7 43.6L426.2 42.79L426.7 42.83L427.2 41.21L427.7 41.05L428.2 41.31L428.7 39.9L429.2 39.83L429.7 39.38L430.2 38.98L430.7 39L431.2 38.52L431.7 37.6L432.2 37.5L432.7 37.53L433.2 35.89L433.7 36.59L434.2 36.5L434.7 36.38L435.2 35.59L435.7 35.3L436.2 35.46L436.7 35.03L437.2 35.92L437.7 35.29L438.2 35.22L438.7 34.91L439.2 34.61L439.7 35.65L440.2 33.34L440.7 35.06L441.2 34.53L441.7 34.35L442.2 34.39L442.7 34.72L443.2 36.19L443.7 35.49L444.2 34.79L444.7 35.65L445.2 35.84L445.7 36.54L446.2 35.11L446.7 35.55L447.2 36.3L447.7 36.09L448.2 36.19L448.7 36.76L449.2 36.52L449.7 36.42L450.2 36.44L450.7 36.29L451.2 36.99L451.7 37.37L452.2 37.15L452.7 37.77L453.2 38.2L453.7 37.31L454.2 38.12L454.7 38.05L455.2 37.95L455.7 38.84L456.2 38.18L456.7 38.35L457.2 38.66L457.7 38.5L458.2 39.04L458.7 39.68L459.2 38.84L459.7 39.1L460.2 38.31L460.7 38.55L461.2 38.88L461.7 38.6L462.2 37.99L462.7 38.05L463.2 38.35L463.7 38.28L464.2 38.55L464.7 38.44L465.2 38.08L465.7 38.34L466.2 38.11L466.7 38.69L467.2 38.88L467.7 38.85L468.2 38.25L468.7 37.44L469.2 37.46L469.7 38.38L470.2 38.58L470.7 37.51L471.2 37.61L471.7 38.37L472.2 37.27L472.7 37.61L473.2 37.06L473.7 37.45L474.2 37.16L474.7 37.37L475.2 37.88L475.7 37.52L476.2 37.67L476.7 36.96L477.2 37.71L477.7 37.9L478.2 36.88L478.7 36.62L479.2 36.44L479.7 36.55L480.2 37.64L480.7 37.23" fill="none" stroke="#45228a" stroke-width="1.2"/>
<path d="M373.7 0.5H491.2M373.7 0.5V241.3H481V198.8" fill="none" stroke="#555" stroke-width="1"/>
<line x1="373.7" y1="241.3" x2="376.7" y2="241.3" stroke="#555" stroke-width="0.8"/>
<text x="372.1" y="243.8" font-size="9" text-anchor="end" font-weight="normal" fill="#1e1e1e" >0</text>
<line x1="373.7" y1="223.05" x2="375.7" y2="223.05" stroke="#555" stroke-width="0.8"/>
<line x1="373.7" y1="204.8" x2="376.7" y2="204.8" stroke="#555" stroke-width="0.8"/>
<text x="372.1" y="207.3" font-size="9" text-anchor="end" font-weight="normal" fill="#1e1e1e" >0.5</text>
<line x1="373.7" y1="186.55" x2="375.7" y2="186.55" stroke="#555" stroke-width="0.8"/>
<line x1="373.7" y1="168.3" x2="376.7" y2="168.3" stroke="#555" stroke-width="0.8"/>
<text x="372.1" y="170.8" font-size="9" text-anchor="end" font-weight="normal" fill="#1e1e1e" >1</text>
<line x1="373.7" y1="150.05" x2="375.7" y2="150.05" stroke="#555" stroke-width="0.8"/>
<line x1="373.7" y1="131.8" x2="376.7" y2="131.8" stroke="#555" stroke-width="0.8"/>
<text x="372.1" y="134.3" font-size="9" text-anchor="end" font-weight="normal" fill="#1e1e1e" >1.5</text>
<line x1="373.7" y1="113.55" x2="375.7" y2="113.55" stroke="#555" stroke-width="0.8"/>
<line x1="373.7" y1="95.3" x2="376.7" y2="95.3" stroke="#555" stroke-width="0.8"/>
<text x="372.1" y="97.8" font-size="9" text-anchor="end" font-weight="normal" fill="#1e1e1e" >2</text>
<line x1="373.7" y1="77.05" x2="375.7" y2="77.05" stroke="#555" stroke-width="0.8"/>
<line x1="373.7" y1="58.8" x2="376.7" y2="58.8" stroke="#555" stroke-width="0.8"/>
<text x="372.1" y="61.3" font-size="9" text-anchor="end" font-weight="normal" fill="#1e1e1e" >2.5</text>
<line x1="373.7" y1="40.55" x2="375.7" y2="40.55" stroke="#555" stroke-width="0.8"/>
<line x1="373.7" y1="22.3" x2="376.7" y2="22.3" stroke="#555" stroke-width="0.8"/>
<text x="372.1" y="24.8" font-size="9" text-anchor="end" font-weight="normal" fill="#1e1e1e" >3</text>
<line x1="373.7" y1="4.05" x2="375.7" y2="4.05" stroke="#555" stroke-width="0.8"/>
<line x1="391.58" y1="241.3" x2="391.58" y2="238.3" stroke="#555" stroke-width="0.8"/>
<text x="391.58" y="252.3" font-size="9" text-anchor="middle" font-weight="normal" fill="#1e1e1e" >7700</text>
<line x1="406.49" y1="241.3" x2="406.49" y2="239.3" stroke="#555" stroke-width="0.8"/>
<line x1="421.39" y1="241.3" x2="421.39" y2="238.3" stroke="#555" stroke-width="0.8"/>
<text x="421.39" y="252.3" font-size="9" text-anchor="middle" font-weight="normal" fill="#1e1e1e" >7750</text>
<line x1="436.29" y1="241.3" x2="436.29" y2="239.3" stroke="#555" stroke-width="0.8"/>
<line x1="451.19" y1="241.3" x2="451.19" y2="238.3" stroke="#555" stroke-width="0.8"/>
<text x="451.19" y="252.3" font-size="9" text-anchor="middle" font-weight="normal" fill="#1e1e1e" >7800</text>
<line x1="466.1" y1="241.3" x2="466.1" y2="239.3" stroke="#555" stroke-width="0.8"/>
<line x1="481" y1="241.3" x2="481" y2="238.3" stroke="#555" stroke-width="0.8"/>
<text x="481" y="252.3" font-size="9" text-anchor="middle" font-weight="normal" fill="#1e1e1e" >7850</text>
<text x="435" y="264.5" font-size="10.3" text-anchor="middle" font-weight="normal" fill="#1e1e1e" >Energy (eV)</text>
<text transform="translate(355.2 123.6) rotate(-90)" font-size="10.6" text-anchor="middle" fill="#231f20">Normalized <tspan font-style="italic">μ</tspan>(E)</text>
<rect x="481" y="159.04" width="10.2" height="40.06" fill="#35cdbf"/>
<text x="493" y="182.02" font-size="9.2" text-anchor="start" font-weight="bold" fill="#000" >RT</text>
<rect x="481" y="119.28" width="10.2" height="40.06" fill="#27abbf"/>
<text x="493" y="142.26" font-size="9.2" text-anchor="start" font-weight="bold" fill="#000" >100</text>
<rect x="481" y="79.52" width="10.2" height="40.06" fill="#2389c0"/>
<text x="493" y="102.5" font-size="9.2" text-anchor="start" font-weight="bold" fill="#000" >200</text>
<rect x="481" y="39.76" width="10.2" height="40.06" fill="#2a68b2"/>
<text x="493" y="62.74" font-size="9.2" text-anchor="start" font-weight="bold" fill="#000" >300</text>
<rect x="481" y="0" width="10.2" height="40.06" fill="#45228a"/>
<text x="493" y="22.98" font-size="9.2" text-anchor="start" font-weight="bold" fill="#000" >400</text>
<rect x="481" y="0.5" width="10.2" height="198.3" fill="none" stroke="#555" stroke-width="1"/>
<text x="482.8" y="208.7" font-size="9.1" text-anchor="start" font-weight="normal" fill="#1e1e1e" >T / °C</text>
<text x="375.7" y="9" font-size="9" text-anchor="start" font-weight="bold" fill="#000" >Co K-edge</text>
<text x="480.2" y="10" font-size="9" text-anchor="end" font-weight="bold" fill="#000" >NH<tspan font-size="6" dy="2">3</tspan><tspan dy="-2"> + O</tspan><tspan font-size="6" dy="2">2</tspan></text>
<text x="476.5" y="235.3" font-size="10" text-anchor="end" font-weight="bold" fill="#000" >Co<tspan font-size="5.6" dy="2.2">B</tspan><tspan dy="-2.2">Cu</tspan></text>
<path d="M551.4 241.3L551.9 241.3L552.4 241.3L552.9 241.29L553.4 241.29L553.9 241.28L554.4 241.27L554.9 241.26L555.4 241.25L555.9 241.24L556.4 241.22L556.9 241.21L557.4 241.19L557.9 241.17L558.4 241.15L558.9 241.13L559.4 241.11L559.9 241.09L560.4 241.07L560.9 241.05L561.4 241.02L561.9 241L562.4 240.97L562.9 240.94L563.4 240.92L563.9 240.89L564.4 240.86L564.9 240.83L565.4 240.8L565.9 240.77L566.4 240.74L566.9 240.71L567.4 240.68L567.9 240.65L568.4 240.61L568.9 240.58L569.4 240.55L569.9 240.52L570.4 240.48L570.9 240.45L571.4 240.41L571.9 240.36L572.4 240.31L572.9 240.25L573.4 240.19L573.9 240.12L574.4 240.04L574.9 239.95L575.4 239.82L575.9 239.64L576.4 239.42L576.9 239.15L577.4 238.74L577.9 238.15L578.4 237.63L578.9 237.21L579.4 236.93L579.9 237.25L580.4 237.65L580.9 237.48L581.4 236.87L581.9 234.66L582.4 232.27L582.9 229.61L583.4 226.06L583.9 220.57L584.4 209.17L584.9 196.15L585.4 182.57L585.9 169.77L586.4 159.98L586.9 151.89L587.4 145.63L587.9 140.52L588.4 137.47L588.9 135.23L589.4 133.69L589.9 133.35L590.4 135.66L590.9 139.56L591.4 144.2L591.9 150.35L592.4 155.63L592.9 159.22L593.4 162.17L593.9 164.09L594.4 165.24L594.9 166.09L595.4 166.86L595.9 167.75L596.4 168.72L596.9 169.75L597.4 171.02L597.9 172.76L598.4 174.67L598.9 176.37L599.4 177.28L599.9 177.64L600.4 179.8L600.9 180.72L601.4 180.18L601.9 180.49L602.4 180.54L602.9 180.06L603.4 179.89L603.9 179.06L604.4 178.88L604.9 177.61L605.4 177.55L605.9 176.4L606.4 174.99L606.9 174.31L607.4 172.98L607.9 172.54L608.4 171.97L608.9 170.85L609.4 170.39L609.9 170.09L610.4 169.18L610.9 168.37L611.4 167.62L611.9 166.84L612.4 166.05L612.9 165.88L613.4 165.08L613.9 165.05L614.4 165.46L614.9 164.43L615.4 164.43L615.9 164.96L616.4 164.47L616.9 163.99L617.4 164.26L617.9 163.86L618.4 164.09L618.9 163.96L619.4 164.45L619.9 164.21L620.4 164.62L620.9 164.28L621.4 165.45L621.9 164.71L622.4 164.48L622.9 164.94L623.4 165.39L623.9 165.33L624.4 166.12L624.9 166.3L625.4 166.28L625.9 166.39L626.4 166.14L626.9 167.22L627.4 166.68L627.9 168.1L628.4 168.06L628.9 168.02L629.4 167.78L629.9 168.82L630.4 169.73L630.9 168.81L631.4 169.19L631.9 169.84L632.4 170.01L632.9 170.04L633.4 169.88L633.9 169.8L634.4 170.9L634.9 169.4L635.4 170.55L635.9 170.81L636.4 170.44L636.9 170.75L637.4 169.81L637.9 170.35L638.4 170.98L638.9 170.95L639.4 170.94L639.9 170.81L640.4 170.29L640.9 170.78L641.4 169.7L641.9 170.34L642.4 170.27L642.9 169.69L643.4 170.88L643.9 170.33L644.4 169.57L644.9 169.75L645.4 169.69L645.9 169.45L646.4 169.83L646.9 169.58L647.4 170.05L647.9 170.22L648.4 168.79L648.9 169.7L649.4 169.55L649.9 168.57L650.4 168.66L650.9 169.29L651.4 169.22L651.9 168.95L652.4 169.26L652.9 168.51L653.4 168.59L653.9 168.48L654.4 168.07L654.9 167.92L655.4 167.25L655.9 167.2L656.4 168.4L656.9 167.04L657.4 167.69L657.9 167.59" fill="none" stroke="#35cdbf" stroke-width="1.2"/>
<path d="M551.4 208.45L551.9 208.45L552.4 208.45L552.9 208.44L553.4 208.44L553.9 208.43L554.4 208.42L554.9 208.42L555.4 208.41L555.9 208.39L556.4 208.38L556.9 208.37L557.4 208.35L557.9 208.34L558.4 208.32L558.9 208.3L559.4 208.29L559.9 208.27L560.4 208.25L560.9 208.23L561.4 208.2L561.9 208.18L562.4 208.16L562.9 208.13L563.4 208.11L563.9 208.09L564.4 208.06L564.9 208.03L565.4 208.01L565.9 207.98L566.4 207.95L566.9 207.93L567.4 207.9L567.9 207.87L568.4 207.84L568.9 207.81L569.4 207.78L569.9 207.75L570.4 207.72L570.9 207.69L571.4 207.65L571.9 207.61L572.4 207.56L572.9 207.51L573.4 207.45L573.9 207.38L574.4 207.31L574.9 207.22L575.4 207.09L575.9 206.91L576.4 206.69L576.9 206.42L577.4 206.03L577.9 205.47L578.4 204.99L578.9 204.56L579.4 204.28L579.9 204.6L580.4 205L580.9 204.83L581.4 204.24L581.9 202.16L582.4 200.03L582.9 197.78L583.4 194.8L583.9 189.99L584.4 179.49L584.9 167.42L585.4 154.93L585.9 142.91L586.4 133.18L586.9 124.82L587.4 118.04L587.9 112.29L588.4 109.02L588.9 106.76L589.4 105.24L589.9 104.91L590.4 107.11L590.9 110.78L591.4 115.09L591.9 120.74L592.4 125.61L592.9 129.02L593.4 131.86L593.9 133.63L594.4 134.61L594.9 135.32L595.4 135.95L595.9 136.68L596.4 137.45L596.9 138.27L597.4 139.25L597.9 140.57L598.4 142.01L598.9 143.28L599.4 144.59L599.9 144.79L600.4 145.22L600.9 146.39L601.4 146.64L601.9 145.57L602.4 146.36L602.9 146.01L603.4 145.36L603.9 145.3L604.4 144.78L604.9 143.89L605.4 144.31L605.9 141.79L606.4 142.03L606.9 141.24L607.4 139.84L607.9 139.42L608.4 139.32L608.9 138.02L609.4 137.96L609.9 137.14L610.4 136.9L610.9 136.05L611.4 135.01L611.9 134.69L612.4 134.24L612.9 133.69L613.4 133.89L613.9 133.94L614.4 133.56L614.9 132.52L615.4 133.04L615.9 132.76L616.4 132.79L616.9 132.53L617.4 132.35L617.9 132.48L618.4 132.52L618.9 132.79L619.4 132.86L619.9 132.37L620.4 132.3L620.9 132.32L621.4 132.82L621.9 133.34L622.4 132.85L622.9 133.01L623.4 134.1L623.9 133.26L624.4 133.52L624.9 133.21L625.4 134.59L625.9 134.84L626.4 134.16L626.9 135.53L627.4 135.33L627.9 135.75L628.4 135.99L628.9 136.64L629.4 136.15L629.9 135.84L630.4 136.25L630.9 136.39L631.4 136.84L631.9 136.16L632.4 136.67L632.9 136.55L633.4 137.79L633.9 137.05L634.4 137.79L634.9 137.22L635.4 137.36L635.9 138L636.4 137.48L636.9 137.08L637.4 137.38L637.9 137.35L638.4 137.97L638.9 137.87L639.4 138.02L639.9 137.44L640.4 136.93L640.9 137.21L641.4 137.34L641.9 137.77L642.4 137.02L642.9 137.26L643.4 137.92L643.9 137.78L644.4 137.12L644.9 137.31L645.4 136.15L645.9 136.8L646.4 137.22L646.9 136.92L647.4 135.96L647.9 137.02L648.4 136.21L648.9 136.3L649.4 135.79L649.9 136.15L650.4 136.5L650.9 136.04L651.4 136.19L651.9 135.74L652.4 136.14L652.9 135.2L653.4 136.06L653.9 135.77L654.4 136.19L654.9 135.77L655.4 135.73L655.9 135.58L656.4 135.17L656.9 135.7L657.4 135.73L657.9 134.77" fill="none" stroke="#27abbf" stroke-width="1.2"/>
<path d="M551.4 175.6L551.9 175.6L552.4 175.6L552.9 175.59L553.4 175.59L553.9 175.58L554.4 175.58L554.9 175.57L555.4 175.56L555.9 175.55L556.4 175.54L556.9 175.53L557.4 175.51L557.9 175.5L558.4 175.48L558.9 175.47L559.4 175.45L559.9 175.43L560.4 175.41L560.9 175.39L561.4 175.38L561.9 175.35L562.4 175.33L562.9 175.31L563.4 175.29L563.9 175.27L564.4 175.24L564.9 175.22L565.4 175.19L565.9 175.17L566.4 175.14L566.9 175.12L567.4 175.09L567.9 175.07L568.4 175.04L568.9 175.01L569.4 174.99L569.9 174.96L570.4 174.93L570.9 174.9L571.4 174.86L571.9 174.82L572.4 174.78L572.9 174.73L573.4 174.67L573.9 174.61L574.4 174.53L574.9 174.45L575.4 174.32L575.9 174.14L576.4 173.91L576.9 173.65L577.4 173.27L577.9 172.74L578.4 172.26L578.9 171.84L579.4 171.56L579.9 171.88L580.4 172.28L580.9 172.11L581.4 171.53L581.9 169.53L582.4 167.56L582.9 165.59L583.4 162.96L583.9 158.59L584.4 148.67L584.9 137.19L585.4 125.39L585.9 113.87L586.4 104.18L586.9 95.66L587.4 88.53L587.9 82.37L588.4 78.96L588.9 76.71L589.4 75.2L589.9 74.87L590.4 76.99L590.9 80.53L591.4 84.62L591.9 89.94L592.4 94.55L592.9 97.86L593.4 100.63L593.9 102.29L594.4 103.17L594.9 103.79L595.4 104.33L595.9 104.95L596.4 105.61L596.9 106.29L597.4 107.09L597.9 108.14L598.4 109.27L598.9 110.28L599.4 111.28L599.9 112.43L600.4 112.23L600.9 112.08L601.4 112.26L601.9 114.13L602.4 113.16L602.9 112.65L603.4 112.52L603.9 111.54L604.4 111.12L604.9 110.73L605.4 109.81L605.9 109.73L606.4 108.71L606.9 107.97L607.4 106.58L607.9 107.11L608.4 105.91L608.9 104.91L609.4 104.71L609.9 103.78L610.4 103.91L610.9 102.95L611.4 102.31L611.9 101.34L612.4 101.68L612.9 101.12L613.4 101.53L613.9 101.29L614.4 100.45L614.9 100.7L615.4 100.17L615.9 100.33L616.4 99.58L616.9 99.35L617.4 100.68L617.9 99.44L618.4 100.03L618.9 100.02L619.4 100.31L619.9 100L620.4 100.87L620.9 100.8L621.4 100.92L621.9 100.58L622.4 100.44L622.9 100.66L623.4 100.97L623.9 101.55L624.4 102.21L624.9 101.41L625.4 101.67L625.9 101.75L626.4 101.49L626.9 102.42L627.4 102.68L627.9 103.86L628.4 102.85L628.9 103.35L629.4 103.87L629.9 103.56L630.4 104.33L630.9 104.21L631.4 103.17L631.9 103.76L632.4 103.74L632.9 103.87L633.4 103.97L633.9 104.21L634.4 103.34L634.9 104.41L635.4 104.09L635.9 104.54L636.4 104.62L636.9 105.55L637.4 105.33L637.9 103.81L638.4 103.83L638.9 104.66L639.4 104.46L639.9 104.16L640.4 104.83L640.9 103.59L641.4 104.79L641.9 104.61L642.4 105.46L642.9 103.55L643.4 104.15L643.9 103.42L644.4 104.54L644.9 103.91L645.4 103.99L645.9 103.89L646.4 103.02L646.9 102.89L647.4 103.22L647.9 103.94L648.4 103.32L648.9 103.06L649.4 103.35L649.9 103.29L650.4 103.28L650.9 103.84L651.4 103.29L651.9 102.66L652.4 103.76L652.9 103.27L653.4 102.92L653.9 103.88L654.4 103.32L654.9 103.99L655.4 103.5L655.9 103.83L656.4 103.58L656.9 103.38L657.4 103.27L657.9 103.21" fill="none" stroke="#2389c0" stroke-width="1.2"/>
<path d="M551.4 142.75L551.9 142.75L552.4 142.75L552.9 142.74L553.4 142.74L553.9 142.73L554.4 142.73L554.9 142.72L555.4 142.71L555.9 142.7L556.4 142.69L556.9 142.68L557.4 142.67L557.9 142.65L558.4 142.64L558.9 142.62L559.4 142.6L559.9 142.59L560.4 142.57L560.9 142.55L561.4 142.53L561.9 142.51L562.4 142.49L562.9 142.47L563.4 142.45L563.9 142.42L564.4 142.4L564.9 142.38L565.4 142.35L565.9 142.33L566.4 142.31L566.9 142.28L567.4 142.25L567.9 142.23L568.4 142.2L568.9 142.18L569.4 142.15L569.9 142.12L570.4 142.09L570.9 142.06L571.4 142.03L571.9 141.99L572.4 141.94L572.9 141.9L573.4 141.84L573.9 141.78L574.4 141.71L574.9 141.62L575.4 141.49L575.9 141.31L576.4 141.09L576.9 140.82L577.4 140.44L577.9 139.92L578.4 139.45L578.9 139.03L579.4 138.75L579.9 139.07L580.4 139.46L580.9 139.3L581.4 138.71L581.9 136.74L582.4 134.82L582.9 132.92L583.4 130.4L583.9 126.16L584.4 116.39L584.9 105.09L585.4 93.48L585.9 82.11L586.4 72.42L586.9 63.86L587.4 56.64L587.9 50.36L588.4 46.91L588.9 44.65L589.4 43.15L589.9 42.82L590.4 44.92L590.9 48.42L591.4 52.45L591.9 57.68L592.4 62.22L592.9 65.5L593.4 68.24L593.9 69.88L594.4 70.72L594.9 71.32L595.4 71.83L595.9 72.43L596.4 73.04L596.9 73.68L597.4 74.44L597.9 75.41L598.4 76.46L598.9 77.39L599.4 78.08L599.9 78.69L600.4 78.99L600.9 80.05L601.4 79.31L601.9 79.08L602.4 79.61L602.9 79.35L603.4 78.46L603.9 78.28L604.4 78L604.9 77.55L605.4 77.1L605.9 76.56L606.4 75.03L606.9 74.13L607.4 74.52L607.9 73.54L608.4 72.86L608.9 72.59L609.4 72.2L609.9 71.52L610.4 71.71L610.9 70.42L611.4 70.1L611.9 68.68L612.4 68.88L612.9 69.2L613.4 68.85L613.9 67.9L614.4 67.76L614.9 68.21L615.4 68.18L615.9 68.61L616.4 67.99L616.9 67.81L617.4 67.98L617.9 66.84L618.4 68.39L618.9 67.63L619.4 67.42L619.9 67.46L620.4 66.99L620.9 68.43L621.4 68.26L621.9 68.01L622.4 68.12L622.9 68.49L623.4 68.8L623.9 68.14L624.4 69.22L624.9 69.16L625.4 68.42L625.9 68.46L626.4 69.04L626.9 70.03L627.4 70.27L627.9 70.53L628.4 70.88L628.9 70.8L629.4 70.27L629.9 70.9L630.4 71.46L630.9 71.56L631.4 71.78L631.9 70.78L632.4 72.23L632.9 71.27L633.4 72.06L633.9 71.92L634.4 72.14L634.9 71.09L635.4 71.57L635.9 70.36L636.4 72.03L636.9 72.06L637.4 71.33L637.9 71.34L638.4 71.71L638.9 72.46L639.4 70.93L639.9 71.29L640.4 71.34L640.9 71.75L641.4 71.18L641.9 71.68L642.4 71.38L642.9 71.45L643.4 70.78L643.9 71.51L644.4 71.42L644.9 70.75L645.4 71.1L645.9 71.17L646.4 71.22L646.9 70.65L647.4 71.29L647.9 70.75L648.4 70.01L648.9 70.66L649.4 71.12L649.9 71.25L650.4 70.61L650.9 71.17L651.4 71.29L651.9 70.89L652.4 71.01L652.9 70.13L653.4 71.14L653.9 69.81L654.4 70.84L654.9 70.46L655.4 70.21L655.9 70.41L656.4 70.19L656.9 70.94L657.4 71.51L657.9 70.6" fill="none" stroke="#2a68b2" stroke-width="1.2"/>
<path d="M551.4 109.9L551.9 109.9L552.4 109.9L552.9 109.89L553.4 109.89L553.9 109.88L554.4 109.88L554.9 109.87L555.4 109.86L555.9 109.85L556.4 109.84L556.9 109.83L557.4 109.82L557.9 109.8L558.4 109.79L558.9 109.77L559.4 109.75L559.9 109.74L560.4 109.72L560.9 109.7L561.4 109.68L561.9 109.66L562.4 109.64L562.9 109.62L563.4 109.6L563.9 109.57L564.4 109.55L564.9 109.53L565.4 109.5L565.9 109.48L566.4 109.46L566.9 109.43L567.4 109.4L567.9 109.38L568.4 109.35L568.9 109.33L569.4 109.3L569.9 109.27L570.4 109.24L570.9 109.21L571.4 109.18L571.9 109.14L572.4 109.09L572.9 109.05L573.4 108.99L573.9 108.93L574.4 108.86L574.9 108.77L575.4 108.64L575.9 108.46L576.4 108.24L576.9 107.97L577.4 107.59L577.9 107.07L578.4 106.6L578.9 106.18L579.4 105.9L579.9 106.22L580.4 106.61L580.9 106.45L581.4 105.86L581.9 103.89L582.4 101.97L582.9 100.07L583.4 97.55L583.9 93.31L584.4 83.54L584.9 72.24L585.4 60.63L585.9 49.26L586.4 39.57L586.9 31.01L587.4 23.79L587.9 17.51L588.4 14.06L588.9 11.8L589.4 10.3L589.9 9.97L590.4 12.07L590.9 15.57L591.4 19.6L591.9 24.83L592.4 29.37L592.9 32.65L593.4 35.39L593.9 37.03L594.4 37.87L594.9 38.47L595.4 38.98L595.9 39.58L596.4 40.19L596.9 40.83L597.4 41.59L597.9 42.56L598.4 43.61L598.9 44.54L599.4 45.14L599.9 45.43L600.4 46.09L600.9 46.83L601.4 47L601.9 47.42L602.4 47.17L602.9 46.52L603.4 45.78L603.9 45.89L604.4 44.84L604.9 43.75L605.4 42.97L605.9 43.17L606.4 41.99L606.9 41.5L607.4 40.84L607.9 40.27L608.4 39.85L608.9 39.17L609.4 38.9L609.9 38.58L610.4 37.86L610.9 37.29L611.4 36.55L611.9 36.56L612.4 36.09L612.9 35.54L613.4 36.38L613.9 35.88L614.4 35.34L614.9 35.39L615.4 35.69L615.9 34.66L616.4 34.99L616.9 35.29L617.4 33.94L617.9 35.28L618.4 34.7L618.9 34.99L619.4 34.68L619.9 34.53L620.4 35.21L620.9 34.99L621.4 35.11L621.9 35.61L622.4 34.79L622.9 35.37L623.4 35.71L623.9 36.03L624.4 36.03L624.9 35.97L625.4 36.38L625.9 35.79L626.4 37.66L626.9 37.71L627.4 37.13L627.9 38.07L628.4 37.54L628.9 38.03L629.4 37.69L629.9 37.94L630.4 37.68L630.9 37.93L631.4 37.83L631.9 38.2L632.4 38L632.9 38.29L633.4 38.81L633.9 39.13L634.4 39.14L634.9 38.42L635.4 39.7L635.9 38.6L636.4 39.02L636.9 38.38L637.4 38.62L637.9 39.03L638.4 38.69L638.9 39.69L639.4 38.56L639.9 38.45L640.4 39.44L640.9 38.23L641.4 38.63L641.9 38.47L642.4 39.14L642.9 38.21L643.4 38.19L643.9 38.42L644.4 38.81L644.9 38.01L645.4 37.76L645.9 38.09L646.4 37.78L646.9 38.43L647.4 38.04L647.9 37.89L648.4 37.93L648.9 36.7L649.4 37.69L649.9 38.07L650.4 37.41L650.9 38.2L651.4 37.52L651.9 37.31L652.4 37.83L652.9 37.74L653.4 38L653.9 37.53L654.4 37.89L654.9 36.83L655.4 37.31L655.9 37.69L656.4 38.21L656.9 36.7L657.4 37.02L657.9 37.38" fill="none" stroke="#45228a" stroke-width="1.2"/>
<path d="M551.4 0.5H668.4M551.4 0.5V241.3H658.2V201" fill="none" stroke="#555" stroke-width="1"/>
<line x1="551.4" y1="241.3" x2="554.4" y2="241.3" stroke="#555" stroke-width="0.8"/>
<text x="549.8" y="243.8" font-size="9" text-anchor="end" font-weight="normal" fill="#1e1e1e" >0</text>
<line x1="551.4" y1="223.05" x2="553.4" y2="223.05" stroke="#555" stroke-width="0.8"/>
<line x1="551.4" y1="204.8" x2="554.4" y2="204.8" stroke="#555" stroke-width="0.8"/>
<text x="549.8" y="207.3" font-size="9" text-anchor="end" font-weight="normal" fill="#1e1e1e" >0.5</text>
<line x1="551.4" y1="186.55" x2="553.4" y2="186.55" stroke="#555" stroke-width="0.8"/>
<line x1="551.4" y1="168.3" x2="554.4" y2="168.3" stroke="#555" stroke-width="0.8"/>
<text x="549.8" y="170.8" font-size="9" text-anchor="end" font-weight="normal" fill="#1e1e1e" >1</text>
<line x1="551.4" y1="150.05" x2="553.4" y2="150.05" stroke="#555" stroke-width="0.8"/>
<line x1="551.4" y1="131.8" x2="554.4" y2="131.8" stroke="#555" stroke-width="0.8"/>
<text x="549.8" y="134.3" font-size="9" text-anchor="end" font-weight="normal" fill="#1e1e1e" >1.5</text>
<line x1="551.4" y1="113.55" x2="553.4" y2="113.55" stroke="#555" stroke-width="0.8"/>
<line x1="551.4" y1="95.3" x2="554.4" y2="95.3" stroke="#555" stroke-width="0.8"/>
<text x="549.8" y="97.8" font-size="9" text-anchor="end" font-weight="normal" fill="#1e1e1e" >2</text>
<line x1="551.4" y1="77.05" x2="553.4" y2="77.05" stroke="#555" stroke-width="0.8"/>
<line x1="551.4" y1="58.8" x2="554.4" y2="58.8" stroke="#555" stroke-width="0.8"/>
<text x="549.8" y="61.3" font-size="9" text-anchor="end" font-weight="normal" fill="#1e1e1e" >2.5</text>
<line x1="551.4" y1="40.55" x2="553.4" y2="40.55" stroke="#555" stroke-width="0.8"/>
<line x1="551.4" y1="22.3" x2="554.4" y2="22.3" stroke="#555" stroke-width="0.8"/>
<text x="549.8" y="24.8" font-size="9" text-anchor="end" font-weight="normal" fill="#1e1e1e" >3</text>
<line x1="551.4" y1="4.05" x2="553.4" y2="4.05" stroke="#555" stroke-width="0.8"/>
<line x1="573.88" y1="241.3" x2="573.88" y2="238.3" stroke="#555" stroke-width="0.8"/>
<text x="573.88" y="252.3" font-size="9" text-anchor="middle" font-weight="normal" fill="#1e1e1e" >7700</text>
<line x1="587.94" y1="241.3" x2="587.94" y2="239.3" stroke="#555" stroke-width="0.8"/>
<line x1="601.99" y1="241.3" x2="601.99" y2="238.3" stroke="#555" stroke-width="0.8"/>
<text x="601.99" y="252.3" font-size="9" text-anchor="middle" font-weight="normal" fill="#1e1e1e" >7750</text>
<line x1="616.04" y1="241.3" x2="616.04" y2="239.3" stroke="#555" stroke-width="0.8"/>
<line x1="630.09" y1="241.3" x2="630.09" y2="238.3" stroke="#555" stroke-width="0.8"/>
<text x="630.09" y="252.3" font-size="9" text-anchor="middle" font-weight="normal" fill="#1e1e1e" >7800</text>
<line x1="644.15" y1="241.3" x2="644.15" y2="239.3" stroke="#555" stroke-width="0.8"/>
<line x1="658.2" y1="241.3" x2="658.2" y2="238.3" stroke="#555" stroke-width="0.8"/>
<text x="658.2" y="252.3" font-size="9" text-anchor="middle" font-weight="normal" fill="#1e1e1e" >7850</text>
<text x="615" y="264.5" font-size="10.3" text-anchor="middle" font-weight="normal" fill="#1e1e1e" >Energy (eV)</text>
<text transform="translate(532.9 123.6) rotate(-90)" font-size="10.6" text-anchor="middle" fill="#231f20">Normalized <tspan font-style="italic">μ</tspan>(E)</text>
<rect x="658.2" y="160.8" width="10.2" height="40.5" fill="#35cdbf"/>
<text x="670.2" y="184" font-size="9.2" text-anchor="start" font-weight="bold" fill="#000" >RT</text>
<rect x="658.2" y="120.6" width="10.2" height="40.5" fill="#27abbf"/>
<text x="670.2" y="143.8" font-size="9.2" text-anchor="start" font-weight="bold" fill="#000" >100</text>
<rect x="658.2" y="80.4" width="10.2" height="40.5" fill="#2389c0"/>
<text x="670.2" y="103.6" font-size="9.2" text-anchor="start" font-weight="bold" fill="#000" >200</text>
<rect x="658.2" y="40.2" width="10.2" height="40.5" fill="#2a68b2"/>
<text x="670.2" y="63.4" font-size="9.2" text-anchor="start" font-weight="bold" fill="#000" >300</text>
<rect x="658.2" y="0" width="10.2" height="40.5" fill="#45228a"/>
<text x="670.2" y="23.2" font-size="9.2" text-anchor="start" font-weight="bold" fill="#000" >400</text>
<rect x="658.2" y="0.5" width="10.2" height="200.5" fill="none" stroke="#555" stroke-width="1"/>
<text x="660" y="210.9" font-size="9.1" text-anchor="start" font-weight="normal" fill="#1e1e1e" >T / °C</text>
<text x="553.4" y="9" font-size="9" text-anchor="start" font-weight="bold" fill="#000" >Co K-edge</text>
<text x="657.4" y="10" font-size="9" text-anchor="end" font-weight="bold" fill="#000" >NH<tspan font-size="6" dy="2">3</tspan><tspan dy="-2"> + O</tspan><tspan font-size="6" dy="2">2</tspan></text>
<text x="653.7" y="235.3" font-size="10" text-anchor="end" font-weight="bold" fill="#000" >Co<tspan font-size="5.6" dy="2.2">H</tspan><tspan dy="-2.2">Cu</tspan></text>
<text x="0" y="16" font-size="17" text-anchor="start" font-weight="bold" fill="#000" >a</text>
<text x="173.3" y="15.8" font-size="17" text-anchor="start" font-weight="bold" fill="#000" >b</text>
<text x="348.6" y="16" font-size="17" text-anchor="start" font-weight="bold" fill="#000" >c</text>
<text x="522" y="15.9" font-size="17" text-anchor="start" font-weight="bold" fill="#000" >d</text>
<text x="-0.3" y="294" font-size="17" text-anchor="start" font-weight="bold" fill="#000" >e</text>
<text x="348.5" y="299.5" font-size="17" text-anchor="start" font-weight="bold" fill="#000" >f</text>
<rect x="62.5" y="292.3" width="8.17" height="200" fill="url(#h0)"/>
<rect x="69.47" y="292.3" width="8.17" height="200" fill="url(#h1)"/>
<rect x="76.43" y="292.3" width="8.17" height="200" fill="url(#h2)"/>
<rect x="83.4" y="292.3" width="8.17" height="200" fill="url(#h3)"/>
<rect x="90.37" y="292.3" width="8.17" height="200" fill="url(#h4)"/>
<rect x="97.33" y="292.3" width="8.17" height="200" fill="url(#h5)"/>
<rect x="104.3" y="292.3" width="8.17" height="200" fill="url(#h6)"/>
<rect x="111.27" y="292.3" width="8.17" height="200" fill="url(#h7)"/>
<rect x="118.23" y="292.3" width="8.17" height="200" fill="url(#h8)"/>
<rect x="125.2" y="292.3" width="8.17" height="200" fill="url(#h9)"/>
<rect x="132.17" y="292.3" width="8.17" height="200" fill="url(#h10)"/>
<rect x="139.13" y="292.3" width="8.17" height="200" fill="url(#h11)"/>
<rect x="146.1" y="292.3" width="8.17" height="200" fill="url(#h12)"/>
<rect x="153.07" y="292.3" width="8.17" height="200" fill="url(#h13)"/>
<rect x="160.03" y="292.3" width="8.17" height="200" fill="url(#h14)"/>
<rect x="167" y="292.3" width="8.17" height="200" fill="url(#h15)"/>
<rect x="173.97" y="292.3" width="8.17" height="200" fill="url(#h16)"/>
<rect x="180.93" y="292.3" width="8.17" height="200" fill="url(#h17)"/>
<rect x="187.9" y="292.3" width="8.17" height="200" fill="url(#h18)"/>
<rect x="194.87" y="292.3" width="8.17" height="200" fill="url(#h19)"/>
<rect x="201.83" y="292.3" width="8.17" height="200" fill="url(#h20)"/>
<rect x="208.8" y="292.3" width="8.17" height="200" fill="url(#h21)"/>
<rect x="215.77" y="292.3" width="8.17" height="200" fill="url(#h22)"/>
<rect x="222.73" y="292.3" width="8.17" height="200" fill="url(#h23)"/>
<rect x="229.7" y="292.3" width="8.17" height="200" fill="url(#h24)"/>
<rect x="236.67" y="292.3" width="8.17" height="200" fill="url(#h25)"/>
<rect x="243.63" y="292.3" width="8.17" height="200" fill="url(#h26)"/>
<rect x="250.6" y="292.3" width="8.17" height="200" fill="url(#h27)"/>
<rect x="257.57" y="292.3" width="8.17" height="200" fill="url(#h28)"/>
<rect x="264.53" y="292.3" width="6.97" height="200" fill="url(#h29)"/>
<rect x="62.5" y="292.3" width="209" height="200" fill="none" stroke="#222" stroke-width="1"/>
<line x1="273.4" y1="292.3" x2="273.4" y2="492.3" stroke="#aaa" stroke-width="1"/>
<line x1="62.5" y1="325.6" x2="66.5" y2="325.6" stroke="#222" stroke-width="1"/>
<text x="58.3" y="330.9" font-size="11.5" text-anchor="end" font-weight="normal" fill="#1e1e1e" >CuO/Al<tspan font-size="8" dy="2.5">2</tspan><tspan dy="-2.5">O</tspan><tspan font-size="8" dy="2.5">3</tspan></text>
<line x1="62.5" y1="392.3" x2="66.5" y2="392.3" stroke="#222" stroke-width="1"/>
<text x="58.3" y="397.6" font-size="11.5" text-anchor="end" font-weight="normal" fill="#1e1e1e" >Co<tspan font-size="8" dy="2.5">H</tspan><tspan dy="-2.5">Cu</tspan></text>
<line x1="62.5" y1="459.0" x2="66.5" y2="459.0" stroke="#222" stroke-width="1"/>
<text x="58.3" y="464.3" font-size="11.5" text-anchor="end" font-weight="normal" fill="#1e1e1e" >Co<tspan font-size="8" dy="2.5">B</tspan><tspan dy="-2.5">Cu</tspan></text>
<line x1="76.43" y1="492.3" x2="76.43" y2="488.3" stroke="#222" stroke-width="1"/>
<text x="76.43" y="506" font-size="10.3" text-anchor="middle" font-weight="normal" fill="#1e1e1e" >50</text>
<line x1="90.37" y1="492.3" x2="90.37" y2="490.3" stroke="#222" stroke-width="1"/>
<line x1="104.3" y1="492.3" x2="104.3" y2="488.3" stroke="#222" stroke-width="1"/>
<text x="104.3" y="506" font-size="10.3" text-anchor="middle" font-weight="normal" fill="#1e1e1e" >100</text>
<line x1="118.23" y1="492.3" x2="118.23" y2="490.3" stroke="#222" stroke-width="1"/>
<line x1="132.17" y1="492.3" x2="132.17" y2="488.3" stroke="#222" stroke-width="1"/>
<text x="132.17" y="506" font-size="10.3" text-anchor="middle" font-weight="normal" fill="#1e1e1e" >150</text>
<line x1="146.1" y1="492.3" x2="146.1" y2="490.3" stroke="#222" stroke-width="1"/>
<line x1="160.03" y1="492.3" x2="160.03" y2="488.3" stroke="#222" stroke-width="1"/>
<text x="160.03" y="506" font-size="10.3" text-anchor="middle" font-weight="normal" fill="#1e1e1e" >200</text>
<line x1="173.97" y1="492.3" x2="173.97" y2="490.3" stroke="#222" stroke-width="1"/>
<line x1="187.9" y1="492.3" x2="187.9" y2="488.3" stroke="#222" stroke-width="1"/>
<text x="187.9" y="506" font-size="10.3" text-anchor="middle" font-weight="normal" fill="#1e1e1e" >250</text>
<line x1="201.83" y1="492.3" x2="201.83" y2="490.3" stroke="#222" stroke-width="1"/>
<line x1="215.77" y1="492.3" x2="215.77" y2="488.3" stroke="#222" stroke-width="1"/>
<text x="215.77" y="506" font-size="10.3" text-anchor="middle" font-weight="normal" fill="#1e1e1e" >300</text>
<line x1="229.7" y1="492.3" x2="229.7" y2="490.3" stroke="#222" stroke-width="1"/>
<line x1="243.63" y1="492.3" x2="243.63" y2="488.3" stroke="#222" stroke-width="1"/>
<text x="243.63" y="506" font-size="10.3" text-anchor="middle" font-weight="normal" fill="#1e1e1e" >350</text>
<line x1="257.57" y1="492.3" x2="257.57" y2="490.3" stroke="#222" stroke-width="1"/>
<line x1="271.5" y1="492.3" x2="271.5" y2="488.3" stroke="#222" stroke-width="1"/>
<text x="271.5" y="506" font-size="10.3" text-anchor="middle" font-weight="normal" fill="#1e1e1e" >400</text>
<text x="166" y="527" font-size="12" text-anchor="middle" font-weight="normal" fill="#1e1e1e" >T / °C</text>
<text x="63" y="286.6" font-size="12" text-anchor="start" font-weight="bold" fill="#111" >Cu K-edge</text>
<text x="153" y="286.6" font-size="12" text-anchor="start" font-weight="bold" fill="#111" >NH<tspan font-size="8" dy="2">3</tspan><tspan dy="-2"> + O</tspan><tspan font-size="8" dy="2">2</tspan></text>
<text x="91" y="464.2" font-size="10" text-anchor="start" font-weight="bold" fill="#fff" >Cu<tspan font-size="7" dy="-4.5">+</tspan></text>
<rect x="279.2" y="292.3" width="16.3" height="200.2" fill="url(#cbe)"/>
<path d="M279.2 292.3H295.5V492.5" fill="none" stroke="#222" stroke-width="1"/>
<line x1="295.5" y1="488.3" x2="299.0" y2="488.3" stroke="#222" stroke-width="1"/>
<text x="302" y="491.1" font-size="7.6" text-anchor="start" font-weight="normal" fill="#1e1e1e" >0.000</text>
<line x1="295.5" y1="464.27" x2="299.0" y2="464.27" stroke="#222" stroke-width="1"/>
<text x="302" y="467.07" font-size="7.6" text-anchor="start" font-weight="normal" fill="#1e1e1e" >0.01925</text>
<line x1="295.5" y1="440.24" x2="299.0" y2="440.24" stroke="#222" stroke-width="1"/>
<text x="302" y="443.04" font-size="7.6" text-anchor="start" font-weight="normal" fill="#1e1e1e" >0.03850</text>
<line x1="295.5" y1="416.21" x2="299.0" y2="416.21" stroke="#222" stroke-width="1"/>
<text x="302" y="419.01" font-size="7.6" text-anchor="start" font-weight="normal" fill="#1e1e1e" >0.05775</text>
<line x1="295.5" y1="392.18" x2="299.0" y2="392.18" stroke="#222" stroke-width="1"/>
<text x="302" y="394.98" font-size="7.6" text-anchor="start" font-weight="normal" fill="#1e1e1e" >0.07700</text>
<line x1="295.5" y1="368.15" x2="299.0" y2="368.15" stroke="#222" stroke-width="1"/>
<text x="302" y="370.95" font-size="7.6" text-anchor="start" font-weight="normal" fill="#1e1e1e" >0.09625</text>
<line x1="295.5" y1="344.12" x2="299.0" y2="344.12" stroke="#222" stroke-width="1"/>
<text x="302" y="346.92" font-size="7.6" text-anchor="start" font-weight="normal" fill="#1e1e1e" >0.1155</text>
<line x1="295.5" y1="320.09" x2="299.0" y2="320.09" stroke="#222" stroke-width="1"/>
<text x="302" y="322.89" font-size="7.6" text-anchor="start" font-weight="normal" fill="#1e1e1e" >0.1348</text>
<line x1="295.5" y1="296.06" x2="299.0" y2="296.06" stroke="#222" stroke-width="1"/>
<text x="302" y="298.86" font-size="7.6" text-anchor="start" font-weight="normal" fill="#1e1e1e" >0.1540</text>
<text x="324.8" y="285.3" font-size="8.85" text-anchor="end" font-weight="normal" fill="#1e1e1e" >Intensity at 8982 eV</text>
<text x="279.3" y="305.3" font-size="10" text-anchor="start" font-weight="bold" fill="#fff" >Cu<tspan font-size="6.5" dy="-4.3">+</tspan></text>
<rect x="410.2" y="310.4" width="12.4" height="182.2" fill="url(#ph)" stroke="#666" stroke-width="0.9"/>
<rect x="422.6" y="310.4" width="12.4" height="182.2" fill="url(#pd)" stroke="#666" stroke-width="0.9"/>
<rect x="459.8" y="310.4" width="12.4" height="182.2" fill="url(#ph)" stroke="#666" stroke-width="0.9"/>
<rect x="472.2" y="326.8" width="12.4" height="165.8" fill="url(#pd)" stroke="#666" stroke-width="0.9"/>
<rect x="509.5" y="337.37" width="12.4" height="155.23" fill="url(#ph)" stroke="#666" stroke-width="0.9"/>
<rect x="521.9" y="347.39" width="12.4" height="145.21" fill="url(#pd)" stroke="#666" stroke-width="0.9"/>
<rect x="559.2" y="340.28" width="12.4" height="152.32" fill="url(#ph)" stroke="#666" stroke-width="0.9"/>
<rect x="571.6" y="349.21" width="12.4" height="143.39" fill="url(#pd)" stroke="#666" stroke-width="0.9"/>
<rect x="609" y="339.73" width="12.4" height="152.87" fill="url(#ph)" stroke="#666" stroke-width="0.9"/>
<rect x="621.4" y="342.29" width="12.4" height="150.31" fill="url(#pd)" stroke="#666" stroke-width="0.9"/>
<rect x="397.7" y="292.6" width="248.8" height="200" fill="none" stroke="#222" stroke-width="1"/>
<line x1="397.7" y1="492.6" x2="401.7" y2="492.6" stroke="#222" stroke-width="1"/>
<text x="393.7" y="496.4" font-size="10.2" text-anchor="end" font-weight="normal" fill="#1e1e1e" >0</text>
<line x1="397.7" y1="474.38" x2="400.2" y2="474.38" stroke="#222" stroke-width="1"/>
<line x1="397.7" y1="456.16" x2="401.7" y2="456.16" stroke="#222" stroke-width="1"/>
<text x="393.7" y="459.96" font-size="10.2" text-anchor="end" font-weight="normal" fill="#1e1e1e" >20</text>
<line x1="397.7" y1="437.94" x2="400.2" y2="437.94" stroke="#222" stroke-width="1"/>
<line x1="397.7" y1="419.72" x2="401.7" y2="419.72" stroke="#222" stroke-width="1"/>
<text x="393.7" y="423.52" font-size="10.2" text-anchor="end" font-weight="normal" fill="#1e1e1e" >40</text>
<line x1="397.7" y1="401.5" x2="400.2" y2="401.5" stroke="#222" stroke-width="1"/>
<line x1="397.7" y1="383.28" x2="401.7" y2="383.28" stroke="#222" stroke-width="1"/>
<text x="393.7" y="387.08" font-size="10.2" text-anchor="end" font-weight="normal" fill="#1e1e1e" >60</text>
<line x1="397.7" y1="365.06" x2="400.2" y2="365.06" stroke="#222" stroke-width="1"/>
<line x1="397.7" y1="346.84" x2="401.7" y2="346.84" stroke="#222" stroke-width="1"/>
<text x="393.7" y="350.64" font-size="10.2" text-anchor="end" font-weight="normal" fill="#1e1e1e" >80</text>
<line x1="397.7" y1="328.62" x2="400.2" y2="328.62" stroke="#222" stroke-width="1"/>
<line x1="397.7" y1="310.4" x2="401.7" y2="310.4" stroke="#222" stroke-width="1"/>
<text x="393.7" y="314.2" font-size="10.2" text-anchor="end" font-weight="normal" fill="#1e1e1e" >100</text>
<text x="422.6" y="506" font-size="10.3" text-anchor="middle" font-weight="normal" fill="#1e1e1e" >50</text>
<text x="472.2" y="506" font-size="10.3" text-anchor="middle" font-weight="normal" fill="#1e1e1e" >100</text>
<text x="521.9" y="506" font-size="10.3" text-anchor="middle" font-weight="normal" fill="#1e1e1e" >200</text>
<text x="571.6" y="506" font-size="10.3" text-anchor="middle" font-weight="normal" fill="#1e1e1e" >300</text>
<text x="621.4" y="506" font-size="10.3" text-anchor="middle" font-weight="normal" fill="#1e1e1e" >400</text>
<text x="520.5" y="527" font-size="12" text-anchor="middle" font-weight="normal" fill="#1e1e1e" >T / °C</text>
<text transform="translate(370.5 395.1) rotate(-90)" font-size="12" text-anchor="middle" fill="#231f20">CoO / %</text>
<text x="401.8" y="286.6" font-size="12" text-anchor="start" font-weight="bold" fill="#111" >Co K-edge</text>
<text x="641" y="286.6" font-size="12" text-anchor="end" font-weight="bold" fill="#111" >NH<tspan font-size="8" dy="2">3</tspan><tspan dy="-2"> + O</tspan><tspan font-size="8" dy="2">2</tspan></text>
<rect x="518.2" y="301.5" width="23.3" height="11" fill="url(#ph)" stroke="#555" stroke-width="0.9"/>
<rect x="584.3" y="301.5" width="23.3" height="11" fill="url(#pd)" stroke="#555" stroke-width="0.9"/>
<text x="544.5" y="310.3" font-size="9.8" text-anchor="start" font-weight="normal" fill="#1e1e1e" >Co<tspan font-size="6.5" dy="1.8" fill="#777">B</tspan><tspan dy="-1.8">Cu</tspan></text>
<text x="610.3" y="310.3" font-size="9.8" text-anchor="start" font-weight="normal" fill="#1e1e1e" >Co<tspan font-size="6.5" dy="1.8" fill="#777">H</tspan><tspan dy="-1.8">Cu</tspan></text>
</svg></body></html>
